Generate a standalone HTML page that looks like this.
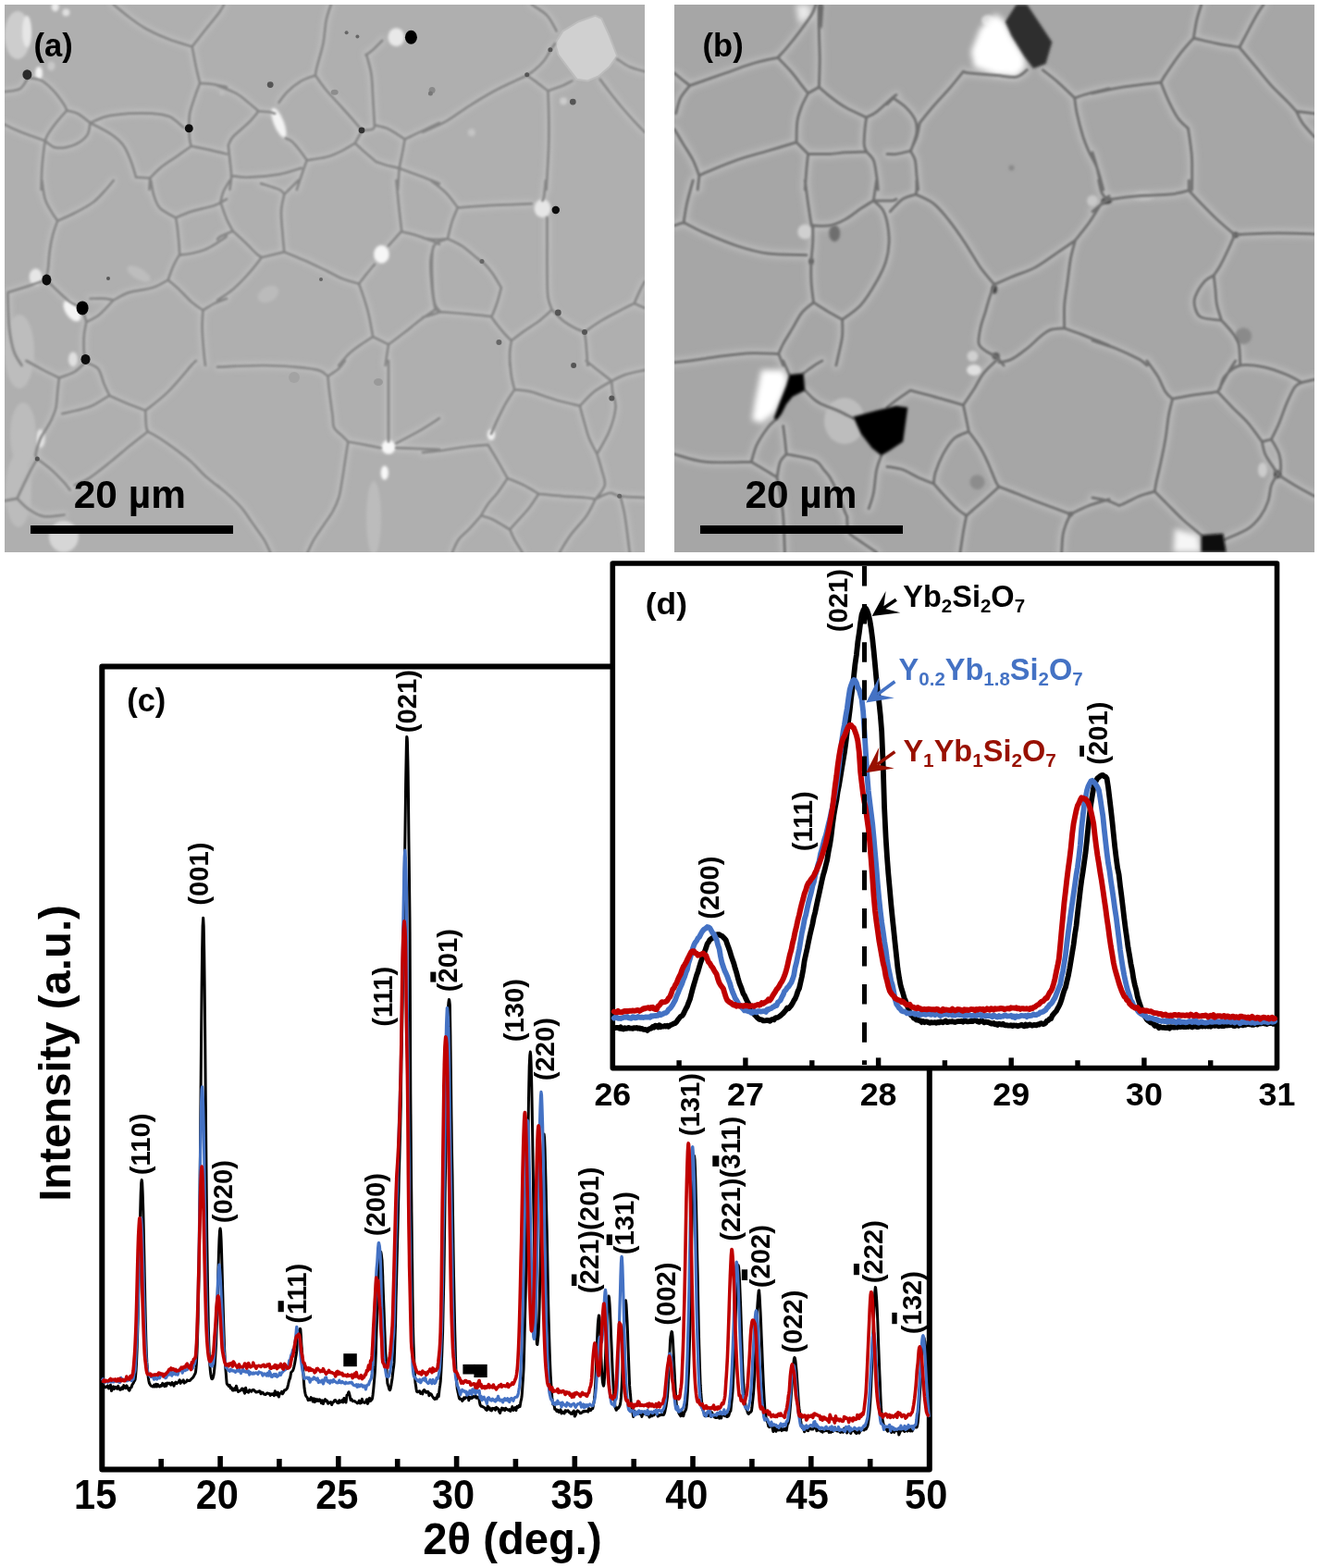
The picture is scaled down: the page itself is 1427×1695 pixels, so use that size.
<!DOCTYPE html>
<html><head><meta charset="utf-8"><title>Figure</title>
<style>html,body{margin:0;padding:0;background:#fff;width:1427px;height:1695px;overflow:hidden}</style>
</head><body>
<svg xmlns="http://www.w3.org/2000/svg" width="1427" height="1695" viewBox="0 0 1427 1695" style="display:block">
<rect width="1427" height="1695" fill="#fff"/>
<defs>
<filter id="bl1" x="-20%" y="-20%" width="140%" height="140%"><feGaussianBlur stdDeviation="0.7"/></filter>
<filter id="blL" x="-20%" y="-20%" width="140%" height="140%"><feGaussianBlur stdDeviation="1.2"/></filter>
<filter id="bl2" x="-50%" y="-50%" width="200%" height="200%"><feGaussianBlur stdDeviation="1.5"/></filter>
<filter id="bl3" x="-50%" y="-50%" width="200%" height="200%"><feGaussianBlur stdDeviation="3"/></filter>
<filter id="bl5" x="-50%" y="-50%" width="200%" height="200%"><feGaussianBlur stdDeviation="5"/></filter>
<clipPath id="ca"><rect x="5" y="5" width="692" height="592"/></clipPath>
<clipPath id="cb"><rect x="729" y="5" width="692" height="592"/></clipPath>
</defs><g clip-path="url(#ca)"><rect x="5" y="5" width="692" height="592" fill="#afafaf"/><path d="M122.7 5.0C125.5 7.2 133.9 14.2 139.5 18.5C145.2 22.7 149.4 26.3 156.4 30.2C163.4 34.2 173.0 38.6 181.6 42.0C190.1 45.4 203.3 49.0 207.7 50.4M207.7 50.4C210.3 47.0 218.7 36.4 223.6 30.2C228.5 24.1 234.0 17.6 237.1 13.4C240.2 9.2 241.3 6.4 242.1 5.0M207.7 50.4C208.4 54.1 210.5 65.7 211.9 72.3C213.3 78.9 215.4 87.0 216.1 89.9M216.1 89.9C218.2 90.1 223.9 90.1 228.7 90.8C233.5 91.5 242.3 93.6 245.0 94.1M216.1 89.9C215.1 92.6 212.0 100.4 210.2 105.9C208.4 111.4 206.1 117.3 205.1 122.7C204.2 128.2 204.4 136.0 204.3 138.7M204.3 138.7C204.4 140.8 204.7 148.1 205.1 151.3C205.6 154.5 206.5 156.9 206.8 158.0M206.8 158.0C209.6 158.6 217.3 160.0 223.6 161.4C230.0 162.8 241.4 165.6 245.0 166.5M206.8 158.0C204.0 160.0 195.6 165.9 190.0 169.8C184.4 173.7 177.8 177.8 173.2 181.6C168.6 185.4 164.1 190.7 162.2 192.5M162.2 192.5L161.4 205.0M30.2 84.0C32.7 84.6 40.6 84.9 45.4 87.4C50.1 89.9 54.9 95.0 58.8 99.2C62.7 103.4 66.7 109.3 68.9 112.6C71.2 116.0 71.7 118.2 72.3 119.4M72.3 119.4C74.2 119.9 79.8 120.5 84.0 122.7C88.2 125.0 95.3 131.1 97.5 132.8M97.5 132.8C100.3 131.7 107.3 127.8 114.3 126.1C121.3 124.4 131.1 123.3 139.5 122.7C148.0 122.2 157.5 122.2 164.8 122.7C172.1 123.3 177.7 123.6 183.3 126.1C188.9 128.6 195.9 135.9 198.4 137.9M72.3 119.4C70.3 121.6 63.9 128.6 60.5 132.8C57.1 137.0 54.1 141.4 52.1 144.6C50.1 147.8 49.3 150.9 48.7 152.2M48.7 152.2C45.9 151.2 37.5 148.4 31.9 146.3C26.3 144.2 19.6 141.5 15.1 139.5C10.6 137.6 6.7 135.3 5.0 134.5M48.7 152.2C48.4 154.3 47.6 159.9 47.0 164.8C46.5 169.7 45.8 174.9 45.4 181.6C44.9 188.3 44.7 201.1 44.5 205.0M97.5 132.8C96.9 135.1 96.9 142.3 94.1 146.3C91.3 150.2 86.3 154.1 80.7 156.4C75.1 158.6 65.8 160.4 60.5 159.7C55.2 159.0 50.7 153.4 48.7 152.2M97.5 132.8C101.1 134.8 113.5 140.7 119.4 144.6C125.2 148.5 129.2 151.6 132.8 156.4C136.5 161.1 138.8 167.3 141.2 173.2C143.6 179.1 146.1 188.6 147.1 191.7M147.1 191.7L162.2 192.5M5.0 99.2C7.8 98.6 17.6 98.3 21.8 95.8C26.0 93.3 28.8 86.0 30.2 84.0M357.8 5.0C356.9 7.8 354.1 14.8 352.7 21.8C351.3 28.8 351.0 38.6 349.4 47.0C347.7 55.5 344.0 66.5 342.6 72.3C341.2 78.0 341.2 80.0 341.0 81.5M341.0 81.5C338.4 82.5 330.9 84.5 325.8 87.4C320.8 90.4 314.7 95.3 310.7 99.2C306.6 103.1 303.0 109.0 301.4 111.0M235.0 92.5C238.4 93.9 249.6 97.8 255.2 100.9C260.8 103.9 264.6 107.7 268.6 111.0C272.7 114.2 277.7 118.7 279.6 120.2M279.6 120.2C281.4 120.3 287.6 120.6 290.5 121.0C293.4 121.5 296.1 122.4 297.2 122.7M279.6 120.2C277.7 122.3 273.3 128.2 268.6 132.8C264.0 137.4 255.5 143.9 251.8 148.0C248.2 152.0 247.6 155.7 246.8 157.2M246.8 157.2C247.1 159.9 247.9 167.7 248.5 173.2C249.0 178.6 250.1 184.7 250.1 190.0C250.1 195.3 248.7 202.5 248.5 205.0M309.0 149.6C310.1 150.2 312.9 150.5 315.7 153.0C318.5 155.5 323.2 161.4 325.8 164.8C328.5 168.1 330.7 171.8 331.7 173.2M331.7 173.2C330.7 176.0 327.6 184.7 325.8 190.0C324.0 195.3 321.6 202.5 320.8 205.0M331.7 173.2C335.2 172.6 346.4 171.5 352.7 169.8C359.0 168.1 364.4 165.6 369.5 163.1C374.7 160.6 381.5 156.1 383.8 154.7M341.0 81.5C342.9 84.2 348.0 91.8 352.7 97.5C357.5 103.2 364.5 110.4 369.5 116.0C374.6 121.6 379.4 126.9 383.0 131.1C386.6 135.3 390.0 139.5 391.4 141.2M391.4 141.2L383.8 154.7M391.4 141.2C393.4 140.9 400.9 140.5 403.2 139.5C405.4 138.6 404.6 136.0 404.9 135.3M383.8 154.7C385.7 156.4 391.0 161.4 394.8 164.8C398.6 168.1 404.6 173.2 406.5 174.9M404.9 135.3C404.6 130.4 403.7 115.0 403.2 105.9C402.6 96.8 402.6 88.2 401.5 80.7C400.4 73.1 397.4 64.0 396.5 60.5C395.5 57.0 395.8 59.8 395.6 59.7M395.6 59.7C396.9 58.7 400.2 56.4 403.2 53.8C406.1 51.1 411.6 45.4 413.3 43.7M404.9 135.3C407.4 136.0 414.5 137.0 420.0 139.5C425.5 142.1 434.7 148.7 437.7 150.5M437.7 150.5C440.3 149.2 447.4 145.9 453.6 142.9C459.9 140.0 471.4 134.5 475.0 132.8M437.7 150.5C437.2 152.9 436.1 159.6 435.1 164.8C434.2 170.0 432.6 174.9 431.8 181.6C430.9 188.3 430.4 201.1 430.1 205.0M406.5 174.9C408.2 175.4 412.6 177.1 416.6 178.2C420.7 179.3 428.5 181.0 430.9 181.6M430.9 181.6C434.7 183.0 446.3 187.2 453.6 190.0C461.0 192.8 471.4 197.0 475.0 198.4M250.1 190.0C253.2 190.3 259.9 192.0 268.6 191.7C277.3 191.4 292.7 190.0 302.3 188.3C311.8 186.6 321.9 182.7 325.8 181.6M457.0 142.9C461.2 140.9 473.8 135.9 482.2 131.1C490.6 126.4 499.0 119.6 507.5 114.3C515.9 109.0 525.7 103.1 532.7 99.2C539.7 95.3 543.3 93.7 549.5 90.8C555.7 87.8 566.3 83.1 569.7 81.5M569.7 81.5C571.1 80.5 575.0 78.3 578.1 75.6C581.2 73.0 585.4 69.0 588.2 65.5C591.0 62.0 592.9 57.7 594.9 54.6C596.9 51.5 599.1 48.3 600.0 47.0M569.7 81.5C571.1 82.5 574.3 84.6 578.1 87.4C581.9 90.2 590.0 96.5 592.4 98.3M592.4 98.3C595.0 97.4 604.0 94.3 608.4 92.5C612.7 90.6 616.8 88.2 618.5 87.4M592.4 98.3C592.5 102.4 593.1 113.1 593.2 122.7C593.4 132.4 593.5 145.2 593.2 156.4C592.9 167.6 592.0 181.9 591.5 190.0C591.1 198.1 590.8 202.5 590.7 205.0M667.2 63.9C669.5 65.3 675.7 70.0 680.7 72.3C685.6 74.5 694.3 76.5 697.0 77.3M648.7 85.7C650.4 88.0 654.9 94.1 658.8 99.2C662.7 104.2 667.8 110.7 672.3 116.0C676.8 121.3 681.6 126.7 685.7 131.1C689.8 135.6 695.1 140.9 697.0 142.9M574.7 5.0C577.5 7.0 587.1 12.0 591.5 16.8C596.0 21.5 600.0 30.8 601.6 33.6M45.4 195.0C45.9 198.4 47.0 209.6 48.7 215.2C50.4 220.8 53.2 224.7 55.5 228.6C57.7 232.6 61.1 237.0 62.2 238.7M62.2 238.7C65.3 237.3 74.2 233.7 80.7 230.3C87.1 227.0 95.3 222.7 100.9 218.5C106.5 214.3 110.7 209.0 114.3 205.1C118.0 201.2 121.3 196.7 122.7 195.0M62.2 238.7C61.3 241.2 58.5 248.5 57.1 253.9C55.7 259.2 54.6 264.8 53.8 270.7C52.9 276.6 52.7 284.4 52.1 289.2C51.5 293.9 50.7 297.6 50.4 299.3M50.4 302.6C52.1 304.3 56.3 308.8 60.5 312.7C64.7 316.7 71.4 323.1 75.6 326.2C79.8 329.3 84.0 330.4 85.7 331.2M8.4 316.1C12.0 315.0 24.1 311.3 30.2 309.4C36.4 307.4 42.8 305.2 45.4 304.3M8.4 317.8C8.6 323.9 8.9 344.4 10.0 354.8C11.2 365.1 12.8 373.3 15.1 380.0C17.3 386.7 22.1 392.5 23.5 395.0M90.8 339.6L93.3 348.0M93.3 348.0C92.9 350.6 91.2 357.9 90.8 363.2C90.4 368.5 90.5 375.8 90.8 380.0C91.1 384.2 92.2 387.0 92.5 388.4M93.3 348.0C95.4 346.9 101.6 344.7 105.9 341.3C110.3 338.0 116.6 330.7 119.4 327.9C122.2 325.1 122.2 325.1 122.7 324.5M97.5 322.8C100.3 322.8 110.1 322.5 114.3 322.8C118.5 323.1 121.3 324.2 122.7 324.5M122.7 324.5C125.5 323.1 132.5 318.3 139.5 316.1C146.6 313.8 157.8 313.3 164.8 311.0C171.8 308.8 178.8 304.0 181.6 302.6M181.6 302.6C182.4 300.4 185.0 293.1 186.6 289.2C188.3 285.3 190.4 281.3 191.7 279.1C192.9 276.8 193.8 276.3 194.2 275.7M194.2 275.7C194.1 273.5 193.8 267.3 193.4 262.3C192.9 257.2 192.2 249.9 191.7 245.5C191.1 241.0 190.3 237.0 190.0 235.4M190.0 235.4C187.2 233.7 177.1 229.2 173.2 225.3C169.3 221.3 168.1 216.9 166.5 211.8C164.8 206.8 163.7 197.8 163.1 195.0M190.0 235.4C192.8 234.2 199.8 230.9 206.8 228.6C213.8 226.4 225.7 224.2 232.0 221.9C238.4 219.7 242.8 216.3 245.0 215.2M194.2 275.7C196.3 275.4 201.9 275.2 206.8 274.0C211.7 272.9 218.0 271.5 223.6 269.0C229.2 266.5 236.9 261.2 240.5 258.9C244.0 256.7 244.2 256.1 245.0 255.5M181.6 302.6C183.6 304.3 189.2 308.8 193.4 312.7C197.6 316.7 202.5 322.4 206.8 326.2C211.2 330.0 217.3 333.9 219.4 335.4M219.4 335.4C219.3 338.7 218.4 347.3 218.6 354.8C218.7 362.2 219.7 373.3 220.3 380.0C220.8 386.7 221.7 392.5 222.0 395.0M219.4 335.4C221.5 334.2 227.8 330.0 232.0 327.9C236.3 325.8 242.8 323.7 245.0 322.8M248.5 195.0C247.3 197.0 243.4 202.8 241.7 206.8C240.0 210.7 238.9 216.6 238.4 218.5M238.4 218.5C239.5 221.6 242.8 231.9 245.1 237.0C247.3 242.2 250.7 247.6 251.8 249.7M251.8 249.7C249.6 250.6 241.2 254.0 238.4 255.5C235.6 257.1 235.6 258.3 235.0 258.9M251.8 249.7C254.1 251.8 261.1 258.2 265.3 262.3C269.5 266.3 274.1 271.4 277.0 274.0C280.0 276.7 282.0 277.5 282.9 278.2M282.9 278.2C280.5 281.2 273.8 290.2 268.6 295.9C263.5 301.7 257.4 308.0 251.8 312.7C246.2 317.5 237.8 322.5 235.0 324.5M282.1 198.4C285.5 199.5 298.1 203.1 302.3 205.1C306.5 207.1 306.5 209.3 307.3 210.1M307.3 210.1C308.7 208.7 313.2 204.2 315.7 201.7C318.2 199.2 321.3 196.1 322.5 195.0M307.3 210.1C306.8 213.2 304.2 221.3 304.0 228.6C303.7 235.9 305.1 246.6 305.6 253.9C306.2 261.2 307.0 269.3 307.3 272.4M282.9 278.2L307.3 272.4M307.3 272.4C310.7 273.8 319.9 277.4 327.5 280.8C335.1 284.1 345.7 289.2 352.7 292.5C359.7 295.9 363.7 298.6 369.5 301.0C375.4 303.3 385.0 305.9 388.0 306.8M388.0 306.8C389.4 305.0 393.7 299.4 396.5 295.9C399.3 292.4 403.5 287.5 404.9 285.8M420.0 265.6L433.5 250.5M434.3 250.5C433.9 246.9 432.5 235.1 431.8 228.6C431.1 222.2 430.6 217.4 430.1 211.8C429.5 206.2 428.7 197.8 428.4 195.0M434.3 250.5C436.7 251.1 443.1 252.2 448.6 253.9C454.1 255.5 462.7 258.9 467.1 260.6C471.5 262.3 473.7 263.4 475.0 264.0M388.0 306.8C388.9 309.2 391.4 315.9 393.1 321.1C394.8 326.3 396.7 332.3 398.1 338.0C399.5 343.6 400.7 350.4 401.5 354.8C402.3 359.1 402.9 362.5 403.2 364.0M403.2 364.0C401.2 365.3 395.6 368.6 391.4 371.6C387.2 374.5 382.2 377.8 378.0 381.7C373.7 385.6 368.1 392.8 366.2 395.0M403.2 364.0L420.0 372.4M420.0 372.4C422.8 370.3 431.2 364.2 436.8 359.8C442.4 355.5 448.0 350.6 453.6 346.4C459.2 342.2 467.6 336.6 470.5 334.6M420.0 372.4C419.7 374.3 418.9 379.6 418.3 383.4C417.8 387.1 416.9 393.0 416.6 395.0M468.8 265.6C468.2 268.4 465.7 274.6 465.4 282.5C465.1 290.3 466.2 304.0 467.1 312.7C467.9 321.4 469.9 330.9 470.5 334.6M470.5 334.6L475.0 336.3M465.4 195.0C468.2 197.2 477.3 203.5 482.2 208.5C487.1 213.4 492.7 221.8 494.8 224.4M494.8 224.4C493.9 226.8 490.8 233.1 489.0 238.7C487.1 244.3 484.7 254.8 483.9 258.1M483.9 258.1C481.7 258.2 474.9 259.0 470.5 258.9C466.0 258.8 459.2 257.5 457.0 257.2M494.8 224.4C501.1 224.0 519.4 222.6 532.7 221.9C546.0 221.2 567.7 220.5 574.7 220.2M589.9 195.0C589.6 197.8 588.7 208.2 588.2 211.8C587.6 215.5 586.8 216.0 586.5 216.9M591.5 235.4C591.5 239.8 591.5 252.2 591.5 262.3C591.5 272.4 591.4 286.1 591.5 295.9C591.7 305.7 591.5 314.7 592.4 321.1C593.2 327.6 595.9 332.3 596.6 334.6M483.9 258.1C486.4 259.3 493.7 262.1 499.0 265.6C504.4 269.1 511.7 275.7 515.9 279.1C520.1 282.5 521.5 283.0 524.3 285.8C527.1 288.6 529.7 291.7 532.7 295.9C535.6 300.1 540.4 308.5 541.9 311.0M541.9 311.0C541.2 313.6 539.3 321.4 537.7 326.2C536.2 330.9 533.8 337.0 532.7 339.6C531.6 342.3 531.3 341.7 531.0 342.2M483.9 258.1C481.7 259.0 473.3 260.5 470.5 264.0C467.7 267.5 467.5 271.0 467.1 279.1C466.7 287.2 467.4 304.3 467.9 312.7C468.5 321.1 469.1 325.5 470.5 329.5C471.9 333.6 475.4 335.9 476.3 337.1M476.3 337.1C481.5 337.5 498.3 338.8 507.5 339.6C516.6 340.5 527.1 341.7 531.0 342.2M476.3 337.1C474.2 337.8 467.0 340.3 463.7 341.3C460.5 342.3 458.1 342.7 457.0 343.0M531.0 342.2C532.1 343.7 535.2 348.2 537.7 351.4C540.2 354.6 543.6 358.7 546.1 361.5C548.7 364.3 551.7 367.1 552.9 368.2M552.9 368.2C552.6 370.2 551.5 375.5 551.2 380.0C550.9 384.5 551.2 392.5 551.2 395.0M552.9 368.2C555.1 366.5 561.6 361.5 566.3 358.1C571.1 354.8 577.2 351.1 581.5 348.0C585.7 345.0 589.0 341.9 591.5 339.6C594.1 337.4 595.7 335.4 596.6 334.6M596.6 334.6C598.6 336.6 604.2 343.0 608.4 346.4C612.6 349.7 617.9 352.7 621.8 354.8C625.7 356.9 630.2 358.3 631.9 359.0M631.9 359.0C632.2 361.1 633.0 365.6 633.6 371.6C634.1 377.6 635.0 391.1 635.3 395.0M631.9 359.0C635.0 356.9 643.7 350.4 650.4 346.4C657.1 342.3 666.4 337.7 672.3 334.6C678.2 331.5 683.5 329.0 685.7 327.9M685.7 327.9C686.8 325.3 690.6 316.7 692.5 312.7C694.3 308.8 696.2 305.7 697.0 304.3M685.7 327.9L697.0 332.9M28.5 390.0C31.6 391.7 41.2 397.0 47.0 400.1C52.9 403.2 61.1 407.1 63.9 408.5M63.9 408.5C66.7 407.4 75.9 404.6 80.7 401.8C85.4 399.0 90.5 393.4 92.5 391.7M92.5 391.7C94.7 392.8 102.5 394.5 105.9 398.4C109.3 402.3 110.5 410.3 112.6 415.2C114.7 420.1 117.5 425.7 118.5 427.8M118.5 427.8C122.0 429.4 133.1 434.4 139.5 437.1C146.0 439.8 154.3 442.7 157.2 443.8M157.2 443.8C161.3 440.5 173.3 431.8 181.6 423.6C189.9 415.5 201.8 400.7 206.8 395.0C211.9 389.4 211.0 390.8 211.9 390.0M63.9 408.5C63.6 411.0 62.7 418.3 62.2 423.6C61.6 429.0 61.6 435.4 60.5 440.5C59.4 445.5 57.4 449.7 55.5 453.9C53.5 458.1 50.7 462.3 48.7 465.7C46.8 469.0 45.4 469.9 43.7 474.1C42.0 478.3 39.2 487.3 38.6 490.9C38.1 494.6 40.0 495.1 40.3 496.0M117.7 427.8C114.6 429.7 105.1 436.1 99.2 438.8C93.3 441.4 87.7 442.4 82.4 443.8C77.0 445.2 69.7 446.6 67.2 447.2M157.2 443.8C157.3 446.6 157.6 456.9 158.0 460.6C158.5 464.4 159.4 465.5 159.7 466.5M159.7 466.5C162.0 467.8 168.1 470.9 173.2 474.1C178.2 477.3 184.4 481.7 190.0 485.9C195.6 490.1 201.2 494.3 206.8 499.3C212.4 504.4 217.3 510.5 223.6 516.1C230.0 521.7 241.4 530.2 245.0 533.0M159.7 466.5C156.4 469.2 146.3 477.0 139.5 482.5C132.8 488.0 126.4 493.7 119.4 499.3C112.4 504.9 103.9 511.9 97.5 516.1C91.1 520.3 83.5 523.1 80.7 524.5M40.3 496.0C39.2 497.9 35.8 503.5 33.6 507.7C31.3 511.9 29.4 516.0 26.9 521.2C24.3 526.4 19.9 535.9 18.5 538.8M18.5 538.8L5.0 541.4M40.3 496.0C42.8 497.9 50.7 503.5 55.5 507.7C60.2 511.9 65.5 517.5 68.9 521.2C72.3 524.8 74.5 528.2 75.6 529.6M18.5 538.8C20.4 540.7 25.5 546.5 30.2 549.8C35.0 553.0 40.5 557.1 47.0 558.2C53.6 559.3 66.0 556.8 69.7 556.5M235.0 396.7C243.4 396.4 271.4 395.0 285.5 395.0C299.5 395.0 309.3 395.9 319.1 396.7C328.9 397.6 338.4 398.4 344.3 400.1C350.2 401.8 352.7 405.7 354.4 406.8M354.4 406.8C356.4 405.4 363.1 401.2 366.2 398.4C369.3 395.6 371.8 391.4 372.9 390.0M354.4 406.8C354.7 409.6 355.2 416.6 356.1 423.6C356.9 430.6 358.6 442.4 359.5 448.9C360.3 455.3 359.5 458.7 361.1 462.3C362.8 466.0 367.0 468.2 369.5 470.7C372.1 473.2 375.2 476.3 376.3 477.5M376.3 477.5C375.7 481.1 374.0 492.0 372.9 499.3C371.8 506.6 370.7 514.7 369.5 521.2C368.4 527.6 367.9 532.7 366.2 538.0C364.5 543.3 362.3 548.1 359.5 553.1C356.7 558.2 352.7 563.2 349.4 568.3C346.0 573.3 342.1 578.6 339.3 583.4C336.5 588.2 333.7 594.8 332.5 597.0M376.3 477.5C379.4 478.0 388.9 479.7 394.8 480.8C400.7 481.9 408.8 483.6 411.6 484.2M420.0 390.0C420.0 395.6 420.0 411.0 420.0 423.6C420.0 436.2 420.0 456.7 420.0 465.7C420.0 474.7 420.0 475.5 420.0 477.5M428.4 479.1C432.6 476.9 445.9 470.2 453.6 465.7C461.4 461.2 471.4 454.5 475.0 452.2M428.4 484.2L475.0 485.9M235.0 524.5C237.2 526.5 244.0 532.1 248.5 536.3C252.9 540.5 257.7 544.7 261.9 549.8C266.1 554.8 269.8 561.0 273.7 566.6C277.6 572.2 282.4 578.3 285.5 583.4C288.5 588.5 291.1 594.8 292.2 597.0M551.2 390.0C551.5 392.8 552.0 401.6 552.9 406.8C553.7 412.0 555.7 418.7 556.2 421.1M556.2 421.1C554.5 423.8 549.2 431.6 546.1 437.1C543.1 442.6 540.2 448.6 537.7 453.9C535.2 459.2 532.1 466.5 531.0 469.0M556.2 421.1C559.3 421.5 567.4 421.8 574.7 423.6C582.0 425.5 591.3 429.5 600.0 432.0C608.6 434.6 622.4 437.7 626.9 438.8M626.9 438.8C629.4 436.2 636.3 428.1 642.0 423.6C647.7 419.2 658.1 413.8 661.3 411.9M661.3 411.9C658.1 409.3 646.6 400.4 642.0 396.7C637.4 393.1 635.0 391.1 633.6 390.0M661.3 411.9C663.7 410.7 669.7 407.1 675.6 405.1C681.6 403.2 693.4 400.9 697.0 400.1M661.3 411.9C661.5 413.8 661.5 418.9 662.2 423.6C662.9 428.4 666.1 433.4 665.5 440.5C665.0 447.5 662.2 457.3 658.8 465.7C655.5 474.1 647.6 486.7 645.4 490.9M626.9 438.8C627.7 441.9 630.2 451.4 631.9 457.3C633.6 463.2 634.7 468.5 637.0 474.1C639.2 479.7 644.0 488.1 645.4 490.9M527.6 480.8C529.3 483.6 534.2 491.6 537.7 497.6C541.2 503.7 546.8 513.8 548.7 517.0M548.7 517.0C546.8 519.6 541.2 528.3 537.7 533.0C534.2 537.6 530.6 540.7 527.6 544.7C524.7 548.8 521.3 555.2 520.1 557.3M520.1 557.3C518.0 559.7 511.5 567.3 507.5 571.6C503.4 576.0 498.8 579.2 495.7 583.4C492.6 587.6 490.1 594.8 489.0 597.0M527.6 480.8C524.3 481.1 516.4 481.4 507.5 482.5C498.5 483.6 482.2 486.4 473.8 487.5C465.4 488.7 459.8 488.9 457.0 489.2M548.7 517.0C551.6 518.2 560.7 521.7 566.3 524.5C571.9 527.3 579.6 532.3 582.3 533.8M582.3 533.8C580.5 536.5 575.4 544.6 571.4 549.8C567.3 555.0 561.3 561.1 557.9 564.9C554.5 568.7 552.3 571.2 551.2 572.5M551.2 572.5C552.0 574.3 554.0 579.3 556.2 583.4C558.5 587.5 563.2 594.8 564.6 597.0M520.1 557.3C522.2 558.0 527.5 559.0 532.7 561.5C537.9 564.1 548.1 570.7 551.2 572.5M582.3 533.8C586.6 534.2 599.8 535.6 608.4 536.3C616.9 537.0 627.7 537.4 633.6 538.0C639.5 538.6 642.0 539.4 643.7 539.7M643.7 539.7C642.0 542.8 638.1 551.7 633.6 558.2C629.1 564.6 621.5 571.9 616.8 578.4C612.0 584.8 607.0 593.9 605.0 597.0M645.4 490.9C646.2 493.7 649.0 502.1 650.4 507.7C651.8 513.3 654.9 519.2 653.8 524.5C652.6 529.9 645.4 537.2 643.7 539.7M643.7 539.7C646.2 538.6 654.3 533.5 658.8 533.0C663.3 532.4 664.2 535.5 670.6 536.3C677.0 537.2 692.6 537.7 697.0 538.0M670.6 536.3C671.4 540.0 674.0 548.1 675.6 558.2C677.3 568.3 679.8 590.6 680.7 597.0" fill="none" stroke="#c3c3c3" stroke-width="6" stroke-linecap="round" filter="url(#bl3)"/><ellipse cx="301.4" cy="132.8" rx="5.5" ry="17.0" fill="#f4f4f4" transform="rotate(-22 301.4 132.8)" filter="url(#bl2)"/><ellipse cx="428.4" cy="40.3" rx="9.0" ry="10.0" fill="#e8e8e8" transform="rotate(0 428.4 40.3)" filter="url(#bl2)"/><ellipse cx="412.4" cy="274.9" rx="8.4" ry="9.8" fill="#f6f6f6" transform="rotate(0 412.4 274.9)" filter="url(#bl2)"/><ellipse cx="586.5" cy="225.3" rx="9.0" ry="10.0" fill="#e6e6e6" transform="rotate(0 586.5 225.3)" filter="url(#bl2)"/><ellipse cx="38.6" cy="299.3" rx="7.0" ry="9.0" fill="#e6e6e6" transform="rotate(0 38.6 299.3)" filter="url(#bl2)"/><ellipse cx="78.0" cy="336.0" rx="7.0" ry="13.0" fill="#f4f4f4" transform="rotate(-35 78.0 336.0)" filter="url(#bl2)"/><ellipse cx="79.0" cy="388.4" rx="5.0" ry="8.0" fill="#e0e0e0" transform="rotate(0 79.0 388.4)" filter="url(#bl2)"/><ellipse cx="43.7" cy="474.1" rx="5.0" ry="10.0" fill="#e2e2e2" transform="rotate(0 43.7 474.1)" filter="url(#bl2)"/><ellipse cx="68.9" cy="580.0" rx="16.0" ry="17.0" fill="#d6d6d6" transform="rotate(0 68.9 580.0)" filter="url(#bl2)"/><ellipse cx="420.0" cy="483.3" rx="7.6" ry="7.6" fill="#f8f8f8" transform="rotate(0 420.0 483.3)" filter="url(#bl2)"/><ellipse cx="415.8" cy="511.1" rx="4.2" ry="7.6" fill="#f8f8f8" transform="rotate(0 415.8 511.1)" filter="url(#bl2)"/><ellipse cx="531.0" cy="469.9" rx="4.2" ry="6.0" fill="#f2f2f2" transform="rotate(0 531.0 469.9)" filter="url(#bl2)"/><ellipse cx="609.2" cy="109.3" rx="4.0" ry="4.0" fill="#cccccc" transform="rotate(0 609.2 109.3)" filter="url(#bl2)"/><ellipse cx="509.8" cy="143.2" rx="4.0" ry="4.0" fill="#c4c4c4" transform="rotate(0 509.8 143.2)" filter="url(#bl2)"/><ellipse cx="19.0" cy="38.0" rx="14.0" ry="26.0" fill="#cdcdcd" transform="rotate(0 19.0 38.0)" filter="url(#bl2)"/><ellipse cx="29.0" cy="34.0" rx="5.0" ry="17.0" fill="#e6e6e6" transform="rotate(0 29.0 34.0)" filter="url(#bl2)"/><ellipse cx="42.0" cy="79.0" rx="4.0" ry="7.0" fill="#f2f2f2" transform="rotate(0 42.0 79.0)" filter="url(#bl2)"/><ellipse cx="59.7" cy="7.5" rx="4.0" ry="5.0" fill="#e8e8e8" transform="rotate(0 59.7 7.5)" filter="url(#bl2)"/><ellipse cx="71.4" cy="13.4" rx="4.0" ry="4.0" fill="#e0e0e0" transform="rotate(0 71.4 13.4)" filter="url(#bl2)"/><ellipse cx="55.5" cy="71.4" rx="4.0" ry="5.0" fill="#c8c8c8" transform="rotate(0 55.5 71.4)" filter="url(#bl2)"/><ellipse cx="21.0" cy="380.0" rx="16.0" ry="40.0" fill="#bdbdbd" transform="rotate(0 21.0 380.0)" filter="url(#bl2)"/><ellipse cx="25.0" cy="470.0" rx="14.0" ry="35.0" fill="#bcbcbc" transform="rotate(0 25.0 470.0)" filter="url(#bl2)"/><ellipse cx="20.0" cy="530.0" rx="14.0" ry="40.0" fill="#bcbcbc" transform="rotate(0 20.0 530.0)" filter="url(#bl2)"/><ellipse cx="404.0" cy="560.0" rx="8.0" ry="40.0" fill="#bcbcbc" transform="rotate(0 404.0 560.0)" filter="url(#bl2)"/><ellipse cx="240.0" cy="100.0" rx="3.0" ry="3.0" fill="#bdbdbd" transform="rotate(0 240.0 100.0)" filter="url(#bl2)"/><ellipse cx="290.0" cy="318.0" rx="12.0" ry="8.0" fill="#bbbbbb" transform="rotate(-30 290.0 318.0)" filter="url(#bl2)"/><ellipse cx="150.0" cy="296.0" rx="14.0" ry="6.0" fill="#bdbdbd" transform="rotate(30 150.0 296.0)" filter="url(#bl2)"/><path d="M600.0 47.0 L608.4 33.6 L625.2 23.5 L643.7 16.8 L650.4 20.1 L658.8 38.6 L667.2 60.5 L658.8 72.3 L647.0 82.4 L635.3 87.4 L623.5 85.7 L613.4 72.3 L603.3 58.8 Z" fill="#d0d0d0" stroke="#bcbcbc" stroke-width="2" filter="url(#bl1)"/><path d="M122.7 5.0C125.5 7.2 133.9 14.2 139.5 18.5C145.2 22.7 149.4 26.3 156.4 30.2C163.4 34.2 173.0 38.6 181.6 42.0C190.1 45.4 203.3 49.0 207.7 50.4M207.7 50.4C210.3 47.0 218.7 36.4 223.6 30.2C228.5 24.1 234.0 17.6 237.1 13.4C240.2 9.2 241.3 6.4 242.1 5.0M207.7 50.4C208.4 54.1 210.5 65.7 211.9 72.3C213.3 78.9 215.4 87.0 216.1 89.9M216.1 89.9C218.2 90.1 223.9 90.1 228.7 90.8C233.5 91.5 242.3 93.6 245.0 94.1M216.1 89.9C215.1 92.6 212.0 100.4 210.2 105.9C208.4 111.4 206.1 117.3 205.1 122.7C204.2 128.2 204.4 136.0 204.3 138.7M204.3 138.7C204.4 140.8 204.7 148.1 205.1 151.3C205.6 154.5 206.5 156.9 206.8 158.0M206.8 158.0C209.6 158.6 217.3 160.0 223.6 161.4C230.0 162.8 241.4 165.6 245.0 166.5M206.8 158.0C204.0 160.0 195.6 165.9 190.0 169.8C184.4 173.7 177.8 177.8 173.2 181.6C168.6 185.4 164.1 190.7 162.2 192.5M162.2 192.5L161.4 205.0M30.2 84.0C32.7 84.6 40.6 84.9 45.4 87.4C50.1 89.9 54.9 95.0 58.8 99.2C62.7 103.4 66.7 109.3 68.9 112.6C71.2 116.0 71.7 118.2 72.3 119.4M72.3 119.4C74.2 119.9 79.8 120.5 84.0 122.7C88.2 125.0 95.3 131.1 97.5 132.8M97.5 132.8C100.3 131.7 107.3 127.8 114.3 126.1C121.3 124.4 131.1 123.3 139.5 122.7C148.0 122.2 157.5 122.2 164.8 122.7C172.1 123.3 177.7 123.6 183.3 126.1C188.9 128.6 195.9 135.9 198.4 137.9M72.3 119.4C70.3 121.6 63.9 128.6 60.5 132.8C57.1 137.0 54.1 141.4 52.1 144.6C50.1 147.8 49.3 150.9 48.7 152.2M48.7 152.2C45.9 151.2 37.5 148.4 31.9 146.3C26.3 144.2 19.6 141.5 15.1 139.5C10.6 137.6 6.7 135.3 5.0 134.5M48.7 152.2C48.4 154.3 47.6 159.9 47.0 164.8C46.5 169.7 45.8 174.9 45.4 181.6C44.9 188.3 44.7 201.1 44.5 205.0M97.5 132.8C96.9 135.1 96.9 142.3 94.1 146.3C91.3 150.2 86.3 154.1 80.7 156.4C75.1 158.6 65.8 160.4 60.5 159.7C55.2 159.0 50.7 153.4 48.7 152.2M97.5 132.8C101.1 134.8 113.5 140.7 119.4 144.6C125.2 148.5 129.2 151.6 132.8 156.4C136.5 161.1 138.8 167.3 141.2 173.2C143.6 179.1 146.1 188.6 147.1 191.7M147.1 191.7L162.2 192.5M5.0 99.2C7.8 98.6 17.6 98.3 21.8 95.8C26.0 93.3 28.8 86.0 30.2 84.0M357.8 5.0C356.9 7.8 354.1 14.8 352.7 21.8C351.3 28.8 351.0 38.6 349.4 47.0C347.7 55.5 344.0 66.5 342.6 72.3C341.2 78.0 341.2 80.0 341.0 81.5M341.0 81.5C338.4 82.5 330.9 84.5 325.8 87.4C320.8 90.4 314.7 95.3 310.7 99.2C306.6 103.1 303.0 109.0 301.4 111.0M235.0 92.5C238.4 93.9 249.6 97.8 255.2 100.9C260.8 103.9 264.6 107.7 268.6 111.0C272.7 114.2 277.7 118.7 279.6 120.2M279.6 120.2C281.4 120.3 287.6 120.6 290.5 121.0C293.4 121.5 296.1 122.4 297.2 122.7M279.6 120.2C277.7 122.3 273.3 128.2 268.6 132.8C264.0 137.4 255.5 143.9 251.8 148.0C248.2 152.0 247.6 155.7 246.8 157.2M246.8 157.2C247.1 159.9 247.9 167.7 248.5 173.2C249.0 178.6 250.1 184.7 250.1 190.0C250.1 195.3 248.7 202.5 248.5 205.0M309.0 149.6C310.1 150.2 312.9 150.5 315.7 153.0C318.5 155.5 323.2 161.4 325.8 164.8C328.5 168.1 330.7 171.8 331.7 173.2M331.7 173.2C330.7 176.0 327.6 184.7 325.8 190.0C324.0 195.3 321.6 202.5 320.8 205.0M331.7 173.2C335.2 172.6 346.4 171.5 352.7 169.8C359.0 168.1 364.4 165.6 369.5 163.1C374.7 160.6 381.5 156.1 383.8 154.7M341.0 81.5C342.9 84.2 348.0 91.8 352.7 97.5C357.5 103.2 364.5 110.4 369.5 116.0C374.6 121.6 379.4 126.9 383.0 131.1C386.6 135.3 390.0 139.5 391.4 141.2M391.4 141.2L383.8 154.7M391.4 141.2C393.4 140.9 400.9 140.5 403.2 139.5C405.4 138.6 404.6 136.0 404.9 135.3M383.8 154.7C385.7 156.4 391.0 161.4 394.8 164.8C398.6 168.1 404.6 173.2 406.5 174.9M404.9 135.3C404.6 130.4 403.7 115.0 403.2 105.9C402.6 96.8 402.6 88.2 401.5 80.7C400.4 73.1 397.4 64.0 396.5 60.5C395.5 57.0 395.8 59.8 395.6 59.7M395.6 59.7C396.9 58.7 400.2 56.4 403.2 53.8C406.1 51.1 411.6 45.4 413.3 43.7M404.9 135.3C407.4 136.0 414.5 137.0 420.0 139.5C425.5 142.1 434.7 148.7 437.7 150.5M437.7 150.5C440.3 149.2 447.4 145.9 453.6 142.9C459.9 140.0 471.4 134.5 475.0 132.8M437.7 150.5C437.2 152.9 436.1 159.6 435.1 164.8C434.2 170.0 432.6 174.9 431.8 181.6C430.9 188.3 430.4 201.1 430.1 205.0M406.5 174.9C408.2 175.4 412.6 177.1 416.6 178.2C420.7 179.3 428.5 181.0 430.9 181.6M430.9 181.6C434.7 183.0 446.3 187.2 453.6 190.0C461.0 192.8 471.4 197.0 475.0 198.4M250.1 190.0C253.2 190.3 259.9 192.0 268.6 191.7C277.3 191.4 292.7 190.0 302.3 188.3C311.8 186.6 321.9 182.7 325.8 181.6M457.0 142.9C461.2 140.9 473.8 135.9 482.2 131.1C490.6 126.4 499.0 119.6 507.5 114.3C515.9 109.0 525.7 103.1 532.7 99.2C539.7 95.3 543.3 93.7 549.5 90.8C555.7 87.8 566.3 83.1 569.7 81.5M569.7 81.5C571.1 80.5 575.0 78.3 578.1 75.6C581.2 73.0 585.4 69.0 588.2 65.5C591.0 62.0 592.9 57.7 594.9 54.6C596.9 51.5 599.1 48.3 600.0 47.0M569.7 81.5C571.1 82.5 574.3 84.6 578.1 87.4C581.9 90.2 590.0 96.5 592.4 98.3M592.4 98.3C595.0 97.4 604.0 94.3 608.4 92.5C612.7 90.6 616.8 88.2 618.5 87.4M592.4 98.3C592.5 102.4 593.1 113.1 593.2 122.7C593.4 132.4 593.5 145.2 593.2 156.4C592.9 167.6 592.0 181.9 591.5 190.0C591.1 198.1 590.8 202.5 590.7 205.0M667.2 63.9C669.5 65.3 675.7 70.0 680.7 72.3C685.6 74.5 694.3 76.5 697.0 77.3M648.7 85.7C650.4 88.0 654.9 94.1 658.8 99.2C662.7 104.2 667.8 110.7 672.3 116.0C676.8 121.3 681.6 126.7 685.7 131.1C689.8 135.6 695.1 140.9 697.0 142.9M574.7 5.0C577.5 7.0 587.1 12.0 591.5 16.8C596.0 21.5 600.0 30.8 601.6 33.6M45.4 195.0C45.9 198.4 47.0 209.6 48.7 215.2C50.4 220.8 53.2 224.7 55.5 228.6C57.7 232.6 61.1 237.0 62.2 238.7M62.2 238.7C65.3 237.3 74.2 233.7 80.7 230.3C87.1 227.0 95.3 222.7 100.9 218.5C106.5 214.3 110.7 209.0 114.3 205.1C118.0 201.2 121.3 196.7 122.7 195.0M62.2 238.7C61.3 241.2 58.5 248.5 57.1 253.9C55.7 259.2 54.6 264.8 53.8 270.7C52.9 276.6 52.7 284.4 52.1 289.2C51.5 293.9 50.7 297.6 50.4 299.3M50.4 302.6C52.1 304.3 56.3 308.8 60.5 312.7C64.7 316.7 71.4 323.1 75.6 326.2C79.8 329.3 84.0 330.4 85.7 331.2M8.4 316.1C12.0 315.0 24.1 311.3 30.2 309.4C36.4 307.4 42.8 305.2 45.4 304.3M8.4 317.8C8.6 323.9 8.9 344.4 10.0 354.8C11.2 365.1 12.8 373.3 15.1 380.0C17.3 386.7 22.1 392.5 23.5 395.0M90.8 339.6L93.3 348.0M93.3 348.0C92.9 350.6 91.2 357.9 90.8 363.2C90.4 368.5 90.5 375.8 90.8 380.0C91.1 384.2 92.2 387.0 92.5 388.4M93.3 348.0C95.4 346.9 101.6 344.7 105.9 341.3C110.3 338.0 116.6 330.7 119.4 327.9C122.2 325.1 122.2 325.1 122.7 324.5M97.5 322.8C100.3 322.8 110.1 322.5 114.3 322.8C118.5 323.1 121.3 324.2 122.7 324.5M122.7 324.5C125.5 323.1 132.5 318.3 139.5 316.1C146.6 313.8 157.8 313.3 164.8 311.0C171.8 308.8 178.8 304.0 181.6 302.6M181.6 302.6C182.4 300.4 185.0 293.1 186.6 289.2C188.3 285.3 190.4 281.3 191.7 279.1C192.9 276.8 193.8 276.3 194.2 275.7M194.2 275.7C194.1 273.5 193.8 267.3 193.4 262.3C192.9 257.2 192.2 249.9 191.7 245.5C191.1 241.0 190.3 237.0 190.0 235.4M190.0 235.4C187.2 233.7 177.1 229.2 173.2 225.3C169.3 221.3 168.1 216.9 166.5 211.8C164.8 206.8 163.7 197.8 163.1 195.0M190.0 235.4C192.8 234.2 199.8 230.9 206.8 228.6C213.8 226.4 225.7 224.2 232.0 221.9C238.4 219.7 242.8 216.3 245.0 215.2M194.2 275.7C196.3 275.4 201.9 275.2 206.8 274.0C211.7 272.9 218.0 271.5 223.6 269.0C229.2 266.5 236.9 261.2 240.5 258.9C244.0 256.7 244.2 256.1 245.0 255.5M181.6 302.6C183.6 304.3 189.2 308.8 193.4 312.7C197.6 316.7 202.5 322.4 206.8 326.2C211.2 330.0 217.3 333.9 219.4 335.4M219.4 335.4C219.3 338.7 218.4 347.3 218.6 354.8C218.7 362.2 219.7 373.3 220.3 380.0C220.8 386.7 221.7 392.5 222.0 395.0M219.4 335.4C221.5 334.2 227.8 330.0 232.0 327.9C236.3 325.8 242.8 323.7 245.0 322.8M248.5 195.0C247.3 197.0 243.4 202.8 241.7 206.8C240.0 210.7 238.9 216.6 238.4 218.5M238.4 218.5C239.5 221.6 242.8 231.9 245.1 237.0C247.3 242.2 250.7 247.6 251.8 249.7M251.8 249.7C249.6 250.6 241.2 254.0 238.4 255.5C235.6 257.1 235.6 258.3 235.0 258.9M251.8 249.7C254.1 251.8 261.1 258.2 265.3 262.3C269.5 266.3 274.1 271.4 277.0 274.0C280.0 276.7 282.0 277.5 282.9 278.2M282.9 278.2C280.5 281.2 273.8 290.2 268.6 295.9C263.5 301.7 257.4 308.0 251.8 312.7C246.2 317.5 237.8 322.5 235.0 324.5M282.1 198.4C285.5 199.5 298.1 203.1 302.3 205.1C306.5 207.1 306.5 209.3 307.3 210.1M307.3 210.1C308.7 208.7 313.2 204.2 315.7 201.7C318.2 199.2 321.3 196.1 322.5 195.0M307.3 210.1C306.8 213.2 304.2 221.3 304.0 228.6C303.7 235.9 305.1 246.6 305.6 253.9C306.2 261.2 307.0 269.3 307.3 272.4M282.9 278.2L307.3 272.4M307.3 272.4C310.7 273.8 319.9 277.4 327.5 280.8C335.1 284.1 345.7 289.2 352.7 292.5C359.7 295.9 363.7 298.6 369.5 301.0C375.4 303.3 385.0 305.9 388.0 306.8M388.0 306.8C389.4 305.0 393.7 299.4 396.5 295.9C399.3 292.4 403.5 287.5 404.9 285.8M420.0 265.6L433.5 250.5M434.3 250.5C433.9 246.9 432.5 235.1 431.8 228.6C431.1 222.2 430.6 217.4 430.1 211.8C429.5 206.2 428.7 197.8 428.4 195.0M434.3 250.5C436.7 251.1 443.1 252.2 448.6 253.9C454.1 255.5 462.7 258.9 467.1 260.6C471.5 262.3 473.7 263.4 475.0 264.0M388.0 306.8C388.9 309.2 391.4 315.9 393.1 321.1C394.8 326.3 396.7 332.3 398.1 338.0C399.5 343.6 400.7 350.4 401.5 354.8C402.3 359.1 402.9 362.5 403.2 364.0M403.2 364.0C401.2 365.3 395.6 368.6 391.4 371.6C387.2 374.5 382.2 377.8 378.0 381.7C373.7 385.6 368.1 392.8 366.2 395.0M403.2 364.0L420.0 372.4M420.0 372.4C422.8 370.3 431.2 364.2 436.8 359.8C442.4 355.5 448.0 350.6 453.6 346.4C459.2 342.2 467.6 336.6 470.5 334.6M420.0 372.4C419.7 374.3 418.9 379.6 418.3 383.4C417.8 387.1 416.9 393.0 416.6 395.0M468.8 265.6C468.2 268.4 465.7 274.6 465.4 282.5C465.1 290.3 466.2 304.0 467.1 312.7C467.9 321.4 469.9 330.9 470.5 334.6M470.5 334.6L475.0 336.3M465.4 195.0C468.2 197.2 477.3 203.5 482.2 208.5C487.1 213.4 492.7 221.8 494.8 224.4M494.8 224.4C493.9 226.8 490.8 233.1 489.0 238.7C487.1 244.3 484.7 254.8 483.9 258.1M483.9 258.1C481.7 258.2 474.9 259.0 470.5 258.9C466.0 258.8 459.2 257.5 457.0 257.2M494.8 224.4C501.1 224.0 519.4 222.6 532.7 221.9C546.0 221.2 567.7 220.5 574.7 220.2M589.9 195.0C589.6 197.8 588.7 208.2 588.2 211.8C587.6 215.5 586.8 216.0 586.5 216.9M591.5 235.4C591.5 239.8 591.5 252.2 591.5 262.3C591.5 272.4 591.4 286.1 591.5 295.9C591.7 305.7 591.5 314.7 592.4 321.1C593.2 327.6 595.9 332.3 596.6 334.6M483.9 258.1C486.4 259.3 493.7 262.1 499.0 265.6C504.4 269.1 511.7 275.7 515.9 279.1C520.1 282.5 521.5 283.0 524.3 285.8C527.1 288.6 529.7 291.7 532.7 295.9C535.6 300.1 540.4 308.5 541.9 311.0M541.9 311.0C541.2 313.6 539.3 321.4 537.7 326.2C536.2 330.9 533.8 337.0 532.7 339.6C531.6 342.3 531.3 341.7 531.0 342.2M483.9 258.1C481.7 259.0 473.3 260.5 470.5 264.0C467.7 267.5 467.5 271.0 467.1 279.1C466.7 287.2 467.4 304.3 467.9 312.7C468.5 321.1 469.1 325.5 470.5 329.5C471.9 333.6 475.4 335.9 476.3 337.1M476.3 337.1C481.5 337.5 498.3 338.8 507.5 339.6C516.6 340.5 527.1 341.7 531.0 342.2M476.3 337.1C474.2 337.8 467.0 340.3 463.7 341.3C460.5 342.3 458.1 342.7 457.0 343.0M531.0 342.2C532.1 343.7 535.2 348.2 537.7 351.4C540.2 354.6 543.6 358.7 546.1 361.5C548.7 364.3 551.7 367.1 552.9 368.2M552.9 368.2C552.6 370.2 551.5 375.5 551.2 380.0C550.9 384.5 551.2 392.5 551.2 395.0M552.9 368.2C555.1 366.5 561.6 361.5 566.3 358.1C571.1 354.8 577.2 351.1 581.5 348.0C585.7 345.0 589.0 341.9 591.5 339.6C594.1 337.4 595.7 335.4 596.6 334.6M596.6 334.6C598.6 336.6 604.2 343.0 608.4 346.4C612.6 349.7 617.9 352.7 621.8 354.8C625.7 356.9 630.2 358.3 631.9 359.0M631.9 359.0C632.2 361.1 633.0 365.6 633.6 371.6C634.1 377.6 635.0 391.1 635.3 395.0M631.9 359.0C635.0 356.9 643.7 350.4 650.4 346.4C657.1 342.3 666.4 337.7 672.3 334.6C678.2 331.5 683.5 329.0 685.7 327.9M685.7 327.9C686.8 325.3 690.6 316.7 692.5 312.7C694.3 308.8 696.2 305.7 697.0 304.3M685.7 327.9L697.0 332.9M28.5 390.0C31.6 391.7 41.2 397.0 47.0 400.1C52.9 403.2 61.1 407.1 63.9 408.5M63.9 408.5C66.7 407.4 75.9 404.6 80.7 401.8C85.4 399.0 90.5 393.4 92.5 391.7M92.5 391.7C94.7 392.8 102.5 394.5 105.9 398.4C109.3 402.3 110.5 410.3 112.6 415.2C114.7 420.1 117.5 425.7 118.5 427.8M118.5 427.8C122.0 429.4 133.1 434.4 139.5 437.1C146.0 439.8 154.3 442.7 157.2 443.8M157.2 443.8C161.3 440.5 173.3 431.8 181.6 423.6C189.9 415.5 201.8 400.7 206.8 395.0C211.9 389.4 211.0 390.8 211.9 390.0M63.9 408.5C63.6 411.0 62.7 418.3 62.2 423.6C61.6 429.0 61.6 435.4 60.5 440.5C59.4 445.5 57.4 449.7 55.5 453.9C53.5 458.1 50.7 462.3 48.7 465.7C46.8 469.0 45.4 469.9 43.7 474.1C42.0 478.3 39.2 487.3 38.6 490.9C38.1 494.6 40.0 495.1 40.3 496.0M117.7 427.8C114.6 429.7 105.1 436.1 99.2 438.8C93.3 441.4 87.7 442.4 82.4 443.8C77.0 445.2 69.7 446.6 67.2 447.2M157.2 443.8C157.3 446.6 157.6 456.9 158.0 460.6C158.5 464.4 159.4 465.5 159.7 466.5M159.7 466.5C162.0 467.8 168.1 470.9 173.2 474.1C178.2 477.3 184.4 481.7 190.0 485.9C195.6 490.1 201.2 494.3 206.8 499.3C212.4 504.4 217.3 510.5 223.6 516.1C230.0 521.7 241.4 530.2 245.0 533.0M159.7 466.5C156.4 469.2 146.3 477.0 139.5 482.5C132.8 488.0 126.4 493.7 119.4 499.3C112.4 504.9 103.9 511.9 97.5 516.1C91.1 520.3 83.5 523.1 80.7 524.5M40.3 496.0C39.2 497.9 35.8 503.5 33.6 507.7C31.3 511.9 29.4 516.0 26.9 521.2C24.3 526.4 19.9 535.9 18.5 538.8M18.5 538.8L5.0 541.4M40.3 496.0C42.8 497.9 50.7 503.5 55.5 507.7C60.2 511.9 65.5 517.5 68.9 521.2C72.3 524.8 74.5 528.2 75.6 529.6M18.5 538.8C20.4 540.7 25.5 546.5 30.2 549.8C35.0 553.0 40.5 557.1 47.0 558.2C53.6 559.3 66.0 556.8 69.7 556.5M235.0 396.7C243.4 396.4 271.4 395.0 285.5 395.0C299.5 395.0 309.3 395.9 319.1 396.7C328.9 397.6 338.4 398.4 344.3 400.1C350.2 401.8 352.7 405.7 354.4 406.8M354.4 406.8C356.4 405.4 363.1 401.2 366.2 398.4C369.3 395.6 371.8 391.4 372.9 390.0M354.4 406.8C354.7 409.6 355.2 416.6 356.1 423.6C356.9 430.6 358.6 442.4 359.5 448.9C360.3 455.3 359.5 458.7 361.1 462.3C362.8 466.0 367.0 468.2 369.5 470.7C372.1 473.2 375.2 476.3 376.3 477.5M376.3 477.5C375.7 481.1 374.0 492.0 372.9 499.3C371.8 506.6 370.7 514.7 369.5 521.2C368.4 527.6 367.9 532.7 366.2 538.0C364.5 543.3 362.3 548.1 359.5 553.1C356.7 558.2 352.7 563.2 349.4 568.3C346.0 573.3 342.1 578.6 339.3 583.4C336.5 588.2 333.7 594.8 332.5 597.0M376.3 477.5C379.4 478.0 388.9 479.7 394.8 480.8C400.7 481.9 408.8 483.6 411.6 484.2M420.0 390.0C420.0 395.6 420.0 411.0 420.0 423.6C420.0 436.2 420.0 456.7 420.0 465.7C420.0 474.7 420.0 475.5 420.0 477.5M428.4 479.1C432.6 476.9 445.9 470.2 453.6 465.7C461.4 461.2 471.4 454.5 475.0 452.2M428.4 484.2L475.0 485.9M235.0 524.5C237.2 526.5 244.0 532.1 248.5 536.3C252.9 540.5 257.7 544.7 261.9 549.8C266.1 554.8 269.8 561.0 273.7 566.6C277.6 572.2 282.4 578.3 285.5 583.4C288.5 588.5 291.1 594.8 292.2 597.0M551.2 390.0C551.5 392.8 552.0 401.6 552.9 406.8C553.7 412.0 555.7 418.7 556.2 421.1M556.2 421.1C554.5 423.8 549.2 431.6 546.1 437.1C543.1 442.6 540.2 448.6 537.7 453.9C535.2 459.2 532.1 466.5 531.0 469.0M556.2 421.1C559.3 421.5 567.4 421.8 574.7 423.6C582.0 425.5 591.3 429.5 600.0 432.0C608.6 434.6 622.4 437.7 626.9 438.8M626.9 438.8C629.4 436.2 636.3 428.1 642.0 423.6C647.7 419.2 658.1 413.8 661.3 411.9M661.3 411.9C658.1 409.3 646.6 400.4 642.0 396.7C637.4 393.1 635.0 391.1 633.6 390.0M661.3 411.9C663.7 410.7 669.7 407.1 675.6 405.1C681.6 403.2 693.4 400.9 697.0 400.1M661.3 411.9C661.5 413.8 661.5 418.9 662.2 423.6C662.9 428.4 666.1 433.4 665.5 440.5C665.0 447.5 662.2 457.3 658.8 465.7C655.5 474.1 647.6 486.7 645.4 490.9M626.9 438.8C627.7 441.9 630.2 451.4 631.9 457.3C633.6 463.2 634.7 468.5 637.0 474.1C639.2 479.7 644.0 488.1 645.4 490.9M527.6 480.8C529.3 483.6 534.2 491.6 537.7 497.6C541.2 503.7 546.8 513.8 548.7 517.0M548.7 517.0C546.8 519.6 541.2 528.3 537.7 533.0C534.2 537.6 530.6 540.7 527.6 544.7C524.7 548.8 521.3 555.2 520.1 557.3M520.1 557.3C518.0 559.7 511.5 567.3 507.5 571.6C503.4 576.0 498.8 579.2 495.7 583.4C492.6 587.6 490.1 594.8 489.0 597.0M527.6 480.8C524.3 481.1 516.4 481.4 507.5 482.5C498.5 483.6 482.2 486.4 473.8 487.5C465.4 488.7 459.8 488.9 457.0 489.2M548.7 517.0C551.6 518.2 560.7 521.7 566.3 524.5C571.9 527.3 579.6 532.3 582.3 533.8M582.3 533.8C580.5 536.5 575.4 544.6 571.4 549.8C567.3 555.0 561.3 561.1 557.9 564.9C554.5 568.7 552.3 571.2 551.2 572.5M551.2 572.5C552.0 574.3 554.0 579.3 556.2 583.4C558.5 587.5 563.2 594.8 564.6 597.0M520.1 557.3C522.2 558.0 527.5 559.0 532.7 561.5C537.9 564.1 548.1 570.7 551.2 572.5M582.3 533.8C586.6 534.2 599.8 535.6 608.4 536.3C616.9 537.0 627.7 537.4 633.6 538.0C639.5 538.6 642.0 539.4 643.7 539.7M643.7 539.7C642.0 542.8 638.1 551.7 633.6 558.2C629.1 564.6 621.5 571.9 616.8 578.4C612.0 584.8 607.0 593.9 605.0 597.0M645.4 490.9C646.2 493.7 649.0 502.1 650.4 507.7C651.8 513.3 654.9 519.2 653.8 524.5C652.6 529.9 645.4 537.2 643.7 539.7M643.7 539.7C646.2 538.6 654.3 533.5 658.8 533.0C663.3 532.4 664.2 535.5 670.6 536.3C677.0 537.2 692.6 537.7 697.0 538.0M670.6 536.3C671.4 540.0 674.0 548.1 675.6 558.2C677.3 568.3 679.8 590.6 680.7 597.0" fill="none" stroke="#858585" stroke-width="2.7" stroke-linecap="round" stroke-linejoin="round" filter="url(#blL)"/><ellipse cx="444.4" cy="40.3" rx="6.5" ry="7.5" fill="#000" filter="url(#bl1)"/><ellipse cx="600.8" cy="227.0" rx="4.2" ry="4.2" fill="#080808" filter="url(#bl1)"/><ellipse cx="50.4" cy="302.6" rx="5.0" ry="6.0" fill="#0c0c0c" filter="url(#bl1)"/><ellipse cx="89.1" cy="332.9" rx="6.5" ry="7.5" fill="#050505" filter="url(#bl1)"/><ellipse cx="92.5" cy="388.4" rx="5.0" ry="5.5" fill="#080808" filter="url(#bl1)"/><ellipse cx="204.3" cy="138.7" rx="4.5" ry="4.5" fill="#101010" filter="url(#bl1)"/><ellipse cx="292.2" cy="91.6" rx="3.4" ry="3.4" fill="#555" filter="url(#bl1)"/><ellipse cx="374.6" cy="35.3" rx="2.0" ry="2.0" fill="#666" filter="url(#bl1)"/><ellipse cx="386.4" cy="39.5" rx="2.0" ry="2.0" fill="#666" filter="url(#bl1)"/><ellipse cx="467.1" cy="97.5" rx="3.5" ry="3.5" fill="#8a8a8a" filter="url(#bl1)"/><ellipse cx="594.9" cy="53.8" rx="2.5" ry="2.5" fill="#555" filter="url(#bl1)"/><ellipse cx="569.7" cy="80.7" rx="2.5" ry="2.5" fill="#555" filter="url(#bl1)"/><ellipse cx="619.3" cy="110.1" rx="3.4" ry="3.4" fill="#555" filter="url(#bl1)"/><ellipse cx="465.4" cy="101.0" rx="2.5" ry="2.5" fill="#777" filter="url(#bl1)"/><ellipse cx="391.0" cy="140.8" rx="3.4" ry="3.4" fill="#333" filter="url(#bl1)"/><ellipse cx="521.0" cy="282.5" rx="2.5" ry="2.5" fill="#666" filter="url(#bl1)"/><ellipse cx="603.3" cy="338.0" rx="3.4" ry="3.4" fill="#555" filter="url(#bl1)"/><ellipse cx="632.0" cy="359.0" rx="3.0" ry="3.0" fill="#555" filter="url(#bl1)"/><ellipse cx="539.4" cy="370.0" rx="3.0" ry="3.0" fill="#666" filter="url(#bl1)"/><ellipse cx="620.1" cy="395.0" rx="3.0" ry="3.0" fill="#555" filter="url(#bl1)"/><ellipse cx="661.3" cy="430.4" rx="3.0" ry="3.0" fill="#555" filter="url(#bl1)"/><ellipse cx="669.7" cy="536.3" rx="2.5" ry="2.5" fill="#666" filter="url(#bl1)"/><ellipse cx="40.3" cy="496.0" rx="2.5" ry="2.5" fill="#555" filter="url(#bl1)"/><ellipse cx="29.4" cy="80.7" rx="5.0" ry="5.5" fill="#2a2a2a" filter="url(#bl1)"/><ellipse cx="361.7" cy="99.7" rx="4.0" ry="3.0" fill="#8d8d8d" filter="url(#bl1)"/><ellipse cx="117.0" cy="301.0" rx="2.0" ry="2.0" fill="#555" filter="url(#bl1)"/><ellipse cx="347.0" cy="302.0" rx="2.0" ry="2.0" fill="#666" filter="url(#bl1)"/><ellipse cx="409.0" cy="413.0" rx="5.0" ry="4.0" fill="#999" filter="url(#bl1)"/><ellipse cx="318.0" cy="408.0" rx="6.0" ry="6.0" fill="#a3a3a3" filter="url(#bl1)"/></g><text x="36.5" y="61" font-family="Liberation Sans, Arial, sans-serif" font-weight="bold" font-size="34.5">(a)</text><rect x="33" y="568" width="219" height="9" fill="#000"/><text x="79.8" y="549" font-family="Liberation Sans, Arial, sans-serif" font-weight="bold" font-size="42.4">20 µm</text>
<g clip-path="url(#cb)"><rect x="729" y="5" width="692" height="592" fill="#a6a6a6"/><path d="M729.0 79.0C730.7 80.4 736.3 85.2 739.1 87.4C741.9 89.7 744.7 91.6 745.8 92.5M745.8 92.5C751.4 90.5 768.2 84.6 779.5 80.7C790.7 76.8 802.9 72.0 813.1 68.9C823.3 65.8 836.2 63.3 840.8 62.2M840.8 62.2C842.4 60.5 846.3 56.6 850.1 52.1C853.9 47.6 859.1 41.2 863.5 35.3C868.0 29.4 873.9 21.8 877.0 16.8C880.1 11.7 881.2 7.0 882.0 5.0M840.8 62.2C843.2 64.7 850.8 72.3 855.1 77.3C859.5 82.4 863.8 88.5 866.9 92.5C870.0 96.4 872.5 99.5 873.6 100.9M887.1 5.0C886.8 9.2 885.5 20.4 885.4 30.2C885.3 40.0 886.2 53.2 886.2 63.9C886.2 74.5 885.5 89.1 885.4 94.1M885.4 94.1L873.6 100.9M885.4 94.1C887.4 95.8 892.4 100.6 897.2 104.2C901.9 107.9 907.4 112.2 914.0 116.0C920.6 119.8 932.9 125.1 936.7 126.9M936.7 126.9C938.5 125.9 943.0 124.5 947.6 121.0C952.3 117.5 960.9 109.0 964.5 105.9C968.0 102.8 968.2 103.1 969.0 102.5M936.7 126.9C936.4 129.0 935.4 134.6 935.0 139.5C934.6 144.4 933.9 152.3 934.2 156.4C934.5 160.4 936.3 162.7 936.7 163.9M936.7 163.9C938.0 165.5 942.4 168.8 944.3 173.2C946.1 177.5 946.8 184.7 947.6 190.0C948.5 195.3 949.0 202.5 949.3 205.0M873.6 100.9C872.5 103.1 868.9 109.3 866.9 114.3C864.9 119.4 862.8 124.5 861.9 131.1C860.9 137.7 861.2 150.1 861.0 153.8M861.0 153.8C862.6 155.4 868.2 161.0 870.3 163.1C872.4 165.2 873.1 165.9 873.6 166.5M873.6 166.5C873.4 169.0 872.5 175.2 872.0 181.6C871.4 188.0 870.6 201.1 870.3 205.0M873.6 166.5C877.6 166.5 890.5 166.7 897.2 166.5C903.9 166.2 907.4 165.2 914.0 164.8C920.6 164.4 932.9 164.1 936.7 163.9M861.0 153.8C855.8 155.4 840.7 159.9 829.9 163.1C819.1 166.3 807.5 169.3 796.3 173.2C785.1 177.1 769.4 183.8 762.6 186.6C755.9 189.4 757.0 189.4 755.9 190.0M745.8 92.5C744.1 94.7 738.2 100.9 735.7 105.9C733.2 111.0 731.5 119.9 730.7 122.7M729.0 139.5C730.7 142.3 735.7 150.8 739.1 156.4C742.5 162.0 746.4 167.6 749.2 173.2C752.0 178.8 754.8 187.2 755.9 190.0M755.9 190.0L754.2 205.0M965.7 105.9C968.0 107.6 975.3 112.1 979.2 116.0C983.1 119.9 987.3 125.0 989.3 129.5C991.2 133.9 991.5 137.9 991.0 142.9C990.4 148.0 987.0 156.4 985.9 159.7C984.8 163.1 984.5 162.5 984.2 163.1M984.2 163.1C981.7 163.7 973.3 165.9 969.1 166.5C964.9 167.0 960.7 166.5 959.0 166.5M965.7 105.9L959.0 112.6M994.3 132.8C996.8 129.7 1004.1 120.5 1009.5 114.3C1014.8 108.2 1020.9 102.0 1026.3 95.8C1031.6 89.7 1038.9 80.4 1041.4 77.3M1041.4 77.3C1042.5 77.6 1042.2 78.3 1048.1 79.0C1054.0 79.7 1068.3 80.8 1076.7 81.5C1085.1 82.2 1093.0 84.2 1098.6 83.2C1104.2 82.2 1108.4 76.9 1110.4 75.6M1127.2 75.6C1130.0 77.9 1138.3 84.0 1144.0 89.1C1149.7 94.1 1158.7 103.1 1161.7 105.9M1161.7 105.9C1164.3 105.1 1171.4 102.5 1177.6 100.9C1183.9 99.2 1195.4 96.7 1199.0 95.8M1161.7 105.9C1162.1 108.7 1162.6 115.7 1164.2 122.7C1165.7 129.7 1168.7 140.9 1170.9 148.0C1173.1 155.0 1175.1 159.2 1177.6 164.8C1180.2 170.4 1183.5 174.9 1186.0 181.6C1188.6 188.3 1191.6 201.1 1192.8 205.0M994.3 132.8C993.8 135.3 992.6 142.9 991.0 148.0C989.3 153.0 985.3 160.6 984.2 163.1M984.2 163.1C985.1 164.8 988.2 168.7 989.3 173.2C990.4 177.7 990.4 184.7 991.0 190.0C991.5 195.3 992.4 202.5 992.6 205.0M1298.7 5.0C1297.9 7.8 1295.1 15.8 1293.7 21.8C1292.3 27.8 1290.9 37.9 1290.3 41.2M1290.3 41.2C1287.8 44.1 1280.2 52.2 1275.2 58.8C1270.1 65.4 1263.4 75.6 1260.0 80.7C1256.7 85.7 1255.8 87.7 1255.0 89.1M1290.3 41.2C1294.5 42.1 1307.3 45.4 1315.5 47.0C1323.8 48.7 1335.9 50.5 1339.9 51.2M1339.9 51.2C1341.5 48.3 1346.0 39.6 1349.2 33.6C1352.4 27.6 1356.5 19.9 1359.3 15.1C1362.1 10.3 1364.9 6.7 1366.0 5.0M1339.9 51.2C1342.9 54.8 1351.8 65.4 1357.6 72.3C1363.3 79.1 1368.8 86.3 1374.4 92.5C1380.0 98.6 1386.7 104.6 1391.2 109.3C1395.7 113.9 1399.6 118.4 1401.3 120.2M1401.3 120.2L1421.0 122.7M1401.3 120.2C1402.4 122.3 1404.8 128.2 1408.0 132.8C1411.3 137.4 1418.8 145.4 1421.0 148.0M1255.0 89.1C1248.3 89.9 1227.0 92.2 1214.6 94.1C1202.3 96.1 1186.6 99.7 1181.0 100.9M1255.0 89.1C1256.4 92.5 1260.3 102.8 1263.4 109.3C1266.5 115.7 1270.0 122.9 1273.5 127.8C1277.0 132.7 1282.6 136.9 1284.4 138.7M1284.4 138.7C1284.9 141.6 1286.3 150.6 1287.0 156.4C1287.7 162.1 1288.4 165.1 1288.6 173.2C1288.9 181.3 1288.6 199.7 1288.6 205.0M1181.0 164.8C1181.8 167.6 1184.4 174.9 1186.0 181.6C1187.7 188.3 1190.2 201.1 1191.1 205.0M749.2 195.0C748.1 199.2 744.1 212.7 742.5 220.2C740.8 227.8 739.7 237.0 739.1 240.4M739.1 240.4L729.0 243.8M739.1 240.4C743.0 242.4 753.1 248.0 762.6 252.2C772.2 256.4 785.1 262.0 796.3 265.6C807.5 269.3 817.3 272.4 829.9 274.0C842.5 275.7 864.9 275.4 872.0 275.7M870.3 195.0C870.8 199.2 872.5 212.4 873.6 220.2C874.8 228.1 876.2 238.2 877.0 242.1C877.8 246.0 878.4 243.5 878.7 243.8M878.7 243.8C881.8 243.8 891.3 244.9 897.2 243.8C903.1 242.7 908.4 240.1 914.0 237.0C919.6 234.0 925.8 228.6 930.8 225.3C935.9 221.9 942.0 218.3 944.3 216.9M944.3 216.9L947.6 195.0M944.3 216.9C946.0 218.5 951.8 222.7 954.4 227.0C956.9 231.2 958.3 236.2 959.4 242.1C960.5 248.0 961.4 255.5 961.1 262.3C960.8 269.0 960.0 275.4 957.7 282.5C955.5 289.5 952.1 296.5 947.6 304.3C943.1 312.2 937.0 322.7 930.8 329.5C924.6 336.4 914.0 342.9 910.6 345.5M878.7 243.8C878.7 246.9 879.0 255.8 878.7 262.3C878.4 268.7 877.3 275.4 877.0 282.5C876.7 289.5 876.6 296.9 877.0 304.3C877.4 311.7 879.1 323.2 879.5 327.0M879.5 327.0C882.5 328.8 892.0 334.9 897.2 338.0C902.4 341.0 908.4 344.3 910.6 345.5M879.5 327.0C877.4 328.8 870.7 333.3 866.9 338.0C863.1 342.6 860.2 349.2 856.8 354.8C853.5 360.4 849.2 367.0 846.7 371.6C844.2 376.2 842.5 380.7 841.7 382.5M841.7 382.5L846.7 395.0M841.7 382.5C836.9 382.4 823.5 381.3 813.1 381.7C802.7 382.1 790.7 383.6 779.5 385.0C768.2 386.4 754.2 389.0 745.8 390.1C737.4 391.2 731.8 391.5 729.0 391.8M910.6 345.5C910.6 348.5 911.2 357.4 910.6 363.2C910.1 368.9 908.4 374.7 907.3 380.0C906.1 385.3 904.5 392.5 903.9 395.0M944.3 216.9C947.6 216.9 960.3 217.1 964.5 216.9C968.6 216.6 968.2 215.5 969.0 215.2M991.0 195.0C991.0 196.7 991.1 202.6 991.0 205.1C990.8 207.6 990.3 209.3 990.1 210.1M990.1 210.1C987.7 211.0 980.4 212.1 975.8 215.2C971.2 218.3 964.6 226.4 962.4 228.6M990.1 210.1C993.3 211.8 1003.4 215.5 1009.5 220.2C1015.5 225.0 1020.7 231.7 1026.3 238.7C1031.9 245.7 1037.5 253.9 1043.1 262.3C1048.7 270.7 1054.6 281.6 1059.9 289.2C1065.2 296.7 1072.5 304.6 1075.0 307.7M1075.0 307.7C1074.2 309.9 1071.7 316.1 1070.0 321.1C1068.3 326.2 1066.6 332.3 1065.0 338.0C1063.3 343.6 1061.0 349.2 1059.9 354.8C1058.8 360.4 1057.1 367.4 1058.2 371.6C1059.3 375.8 1063.6 377.8 1066.6 380.0C1069.7 382.2 1075.0 384.2 1076.7 385.0M1076.7 385.0L1085.1 395.0M1075.0 307.7C1078.1 306.3 1086.3 302.4 1093.5 299.3C1100.8 296.2 1110.4 293.7 1118.8 289.2C1127.2 284.7 1136.7 277.3 1144.0 272.4C1151.3 267.5 1159.4 261.9 1162.5 259.7M1162.5 259.7C1165.0 256.5 1173.1 246.7 1177.6 240.4C1182.1 234.1 1186.6 225.8 1189.4 221.9C1192.2 218.0 1193.6 217.7 1194.5 216.9M1194.5 216.9L1199.0 211.8M1162.5 259.7C1161.7 263.0 1158.9 271.7 1157.5 279.1C1156.1 286.5 1155.2 295.9 1154.1 304.3C1153.0 312.7 1151.3 321.1 1150.7 329.5C1150.2 338.0 1150.7 350.6 1150.7 354.8M1150.7 354.8C1153.8 355.9 1161.2 358.4 1169.2 361.5C1177.3 364.6 1194.0 371.3 1199.0 373.3M1150.7 354.8C1148.2 355.1 1139.8 355.1 1135.6 356.5C1131.4 357.9 1129.7 359.8 1125.5 363.2C1121.3 366.5 1115.7 372.4 1110.4 376.6C1105.0 380.8 1098.6 385.9 1093.5 388.4C1088.5 390.9 1082.3 391.2 1080.1 391.8M1285.3 195.0L1285.3 205.9M1285.3 205.9C1281.9 206.6 1274.1 209.2 1265.1 210.1C1256.1 211.1 1241.8 211.0 1231.5 211.8C1221.1 212.7 1208.5 214.3 1202.9 215.2C1197.3 216.0 1198.7 216.6 1197.8 216.9M1285.3 205.9C1287.5 208.3 1293.7 215.0 1298.7 220.2C1303.8 225.4 1309.5 231.4 1315.5 237.0C1321.6 242.7 1331.7 251.1 1334.9 253.9M1334.9 253.9C1340.1 253.6 1355.2 252.5 1366.0 252.2C1376.8 251.9 1390.5 252.0 1399.6 252.2C1408.8 252.3 1417.4 252.9 1421.0 253.0M1334.9 253.9C1333.6 256.7 1330.0 265.1 1327.3 270.7C1324.7 276.3 1321.4 283.0 1318.9 287.5C1316.4 292.0 1313.3 295.9 1312.2 297.6M1312.2 297.6C1312.5 300.1 1313.3 307.4 1313.9 312.7C1314.4 318.1 1314.4 323.9 1315.5 329.5C1316.7 335.2 1319.7 343.6 1320.6 346.4M1320.6 346.4C1322.6 348.6 1329.3 355.6 1332.4 359.8C1335.4 364.0 1337.7 365.7 1339.1 371.6C1340.5 377.4 1340.5 391.1 1340.8 395.0M1312.2 297.6C1310.5 298.7 1305.5 300.4 1302.1 304.3C1298.7 308.2 1293.7 316.4 1292.0 321.1C1290.3 325.9 1290.9 329.3 1292.0 332.9C1293.1 336.6 1294.0 340.8 1298.7 343.0C1303.5 345.2 1316.9 345.8 1320.6 346.4M1197.8 216.9C1196.4 217.7 1192.2 219.9 1189.4 221.9C1186.6 223.9 1182.4 227.5 1181.0 228.6M1197.8 216.9C1196.7 215.5 1192.8 212.1 1191.1 208.5C1189.4 204.8 1188.3 197.2 1187.7 195.0M1181.0 368.2C1185.2 369.6 1197.8 373.3 1206.2 376.6C1214.6 380.0 1225.8 385.4 1231.5 388.4C1237.1 391.5 1238.5 393.9 1239.9 395.0M729.0 490.9C734.6 492.3 748.8 497.9 762.6 499.3C776.5 500.7 804.0 499.3 812.2 499.3M812.2 499.3C813.2 496.2 815.2 487.0 818.1 480.8C821.1 474.7 826.5 466.8 829.9 462.3C833.3 457.8 836.9 455.3 838.3 453.9M812.2 499.3C814.6 500.7 821.9 504.9 826.5 507.7C831.2 510.5 837.8 514.7 840.0 516.1M840.0 516.1C840.6 518.9 842.2 525.9 843.4 533.0C844.5 540.0 845.9 547.5 846.7 558.2C847.6 568.9 848.1 590.6 848.4 597.0M846.7 460.6C847.0 462.9 847.8 469.0 848.4 474.1C849.0 479.1 849.8 488.1 850.1 490.9M850.1 490.9C849.0 492.3 845.0 495.1 843.4 499.3C841.7 503.5 840.6 513.3 840.0 516.1M850.1 490.9C855.1 492.0 873.6 494.8 880.4 497.6C887.1 500.4 887.7 504.6 890.5 507.7C893.3 510.8 894.7 511.9 897.2 516.1C899.7 520.3 902.8 526.5 905.6 533.0C908.4 539.4 912.3 550.6 914.0 554.8C915.7 559.0 915.4 557.6 915.7 558.2M870.3 422.0C872.0 423.6 877.3 429.5 880.4 432.0C883.4 434.6 884.6 435.1 888.8 437.1C893.0 439.1 900.0 441.3 905.6 443.8C911.2 446.3 919.6 450.8 922.4 452.2M868.6 403.5C870.6 402.1 877.0 397.3 880.4 395.0C883.7 392.8 887.4 390.8 888.8 390.0M846.7 390.0L853.5 405.1M952.7 492.6C951.8 495.1 949.0 501.0 947.6 507.7C946.2 514.5 945.7 525.9 944.3 533.0C942.9 540.0 940.1 547.0 939.2 549.8M915.7 558.2C916.0 561.0 915.4 570.8 917.4 575.0C919.3 579.2 922.4 579.7 927.5 583.4C932.5 587.1 944.3 594.8 947.6 597.0M984.2 422.0C988.4 423.1 999.9 426.0 1009.5 428.7C1019.0 431.3 1036.1 436.4 1041.4 437.9M1041.4 437.9C1043.4 435.0 1049.5 426.0 1053.2 420.3C1056.8 414.5 1059.3 408.5 1063.3 403.5C1067.2 398.4 1074.5 392.2 1076.7 390.0M984.2 422.0C981.4 423.9 971.6 430.6 967.4 433.7C963.2 436.8 960.4 439.3 959.0 440.5M1041.4 437.9C1042.0 440.6 1043.8 449.1 1044.8 453.9C1045.8 458.7 1046.9 464.4 1047.3 466.5M1047.3 466.5C1044.6 467.8 1035.9 470.0 1031.3 474.1C1026.7 478.2 1022.9 484.7 1019.5 490.9C1016.2 497.1 1012.8 505.8 1011.1 511.1C1009.5 516.4 1009.7 520.9 1009.5 522.9M1009.5 522.9C1011.7 525.4 1018.4 533.2 1022.9 538.0C1027.4 542.8 1032.7 548.2 1036.4 551.5C1040.0 554.7 1043.4 556.4 1044.8 557.3M1044.8 557.3C1044.2 560.3 1042.5 568.4 1041.4 575.0C1040.3 581.6 1038.6 593.4 1038.0 597.0M1047.3 466.5C1049.4 469.5 1056.4 478.4 1059.9 484.2C1063.4 489.9 1065.5 494.8 1068.3 501.0C1071.1 507.2 1074.8 517.0 1076.7 521.2C1078.7 525.4 1079.5 525.4 1080.1 526.2M1080.1 526.2C1077.3 528.7 1068.0 537.2 1063.3 541.4C1058.5 545.6 1054.6 548.8 1051.5 551.5C1048.4 554.1 1045.9 556.4 1044.8 557.3M1080.1 526.2C1083.7 527.6 1094.1 531.6 1102.0 534.6C1109.8 537.7 1117.9 541.2 1127.2 544.7C1136.4 548.2 1152.4 553.8 1157.5 555.7M1157.5 555.7C1160.8 554.1 1170.7 549.1 1177.6 546.4C1184.6 543.7 1195.4 540.8 1199.0 539.7M1157.5 555.7C1156.6 557.5 1153.8 562.8 1152.4 566.6C1151.0 570.4 1149.8 573.3 1149.0 578.4C1148.3 583.4 1147.9 593.9 1147.7 597.0M1009.5 522.9C1006.7 521.7 998.2 518.7 992.6 516.1C987.0 513.6 981.4 509.7 975.8 507.7C970.2 505.8 961.8 504.9 959.0 504.4M1239.9 390.0C1241.8 392.8 1248.3 401.2 1251.6 406.8C1255.0 412.4 1257.4 419.6 1260.0 423.6C1262.7 427.7 1266.4 429.9 1267.6 431.2M1267.6 431.2C1271.4 430.5 1282.2 428.3 1290.3 427.0C1298.4 425.7 1312.0 424.2 1316.4 423.6M1316.4 423.6C1318.2 420.3 1324.1 409.1 1327.3 403.5C1330.5 397.8 1334.3 392.2 1335.7 390.0M1267.6 431.2C1266.9 434.1 1264.7 441.7 1263.4 448.9C1262.1 456.0 1261.4 465.7 1260.0 474.1C1258.6 482.5 1256.7 491.5 1255.0 499.3C1253.3 507.2 1251.1 515.9 1250.0 521.2C1248.8 526.5 1248.6 529.6 1248.3 531.3M1248.3 531.3C1245.5 532.1 1237.1 534.1 1231.5 536.3C1225.8 538.6 1218.3 543.0 1214.6 544.7C1211.0 546.4 1210.4 546.1 1209.6 546.4M1209.6 546.4C1207.6 545.6 1202.6 542.8 1197.8 541.4C1193.1 540.0 1183.8 538.6 1181.0 538.0M1248.3 531.3C1250.5 533.5 1256.7 539.7 1261.7 544.7C1266.8 549.8 1272.4 555.9 1278.5 561.5C1284.7 567.1 1295.4 575.6 1298.7 578.4M1316.4 423.6C1319.0 426.4 1326.9 434.8 1332.4 440.5C1337.8 446.1 1343.9 451.1 1349.2 457.3C1354.5 463.4 1361.8 474.1 1364.3 477.5M1364.3 477.5C1364.9 479.7 1365.7 486.4 1367.7 490.9C1369.6 495.4 1373.8 500.7 1376.1 504.4C1378.3 508.0 1380.3 511.4 1381.1 512.8M1364.3 477.5L1374.4 474.9M1374.4 474.9C1375.8 477.6 1381.1 485.4 1382.8 490.9C1384.5 496.4 1384.8 504.1 1384.5 507.7C1384.2 511.4 1381.7 511.9 1381.1 512.8M1374.4 474.9C1375.8 472.0 1380.0 463.9 1382.8 457.3C1385.6 450.7 1388.4 441.9 1391.2 435.4C1394.0 429.0 1397.0 422.2 1399.6 418.6C1402.3 414.9 1405.9 414.4 1407.2 413.5M1407.2 413.5L1421.0 410.2M1318.9 420.3C1319.7 418.0 1320.3 411.0 1324.0 406.8C1327.6 402.6 1333.8 396.7 1340.8 395.0C1347.8 393.4 1357.6 395.0 1366.0 396.7C1374.4 398.4 1384.4 402.3 1391.2 405.1C1398.1 407.9 1404.5 412.1 1407.2 413.5M1381.1 512.8C1380.0 514.7 1376.1 519.8 1374.4 524.5C1372.7 529.3 1373.0 535.8 1371.0 541.4C1369.1 547.0 1366.3 553.1 1362.6 558.2C1359.0 563.2 1355.6 567.4 1349.2 571.6C1342.7 575.8 1328.2 581.4 1324.0 583.4M1381.1 512.8C1384.2 514.7 1393.0 520.6 1399.6 524.5C1406.3 528.5 1417.4 534.4 1421.0 536.3" fill="none" stroke="#bcbcbc" stroke-width="9" stroke-linecap="round" filter="url(#bl3)"/><ellipse cx="902.2" cy="252.2" rx="6.0" ry="9.0" fill="#6e6e6e" filter="url(#bl2)"/><ellipse cx="870.3" cy="250.5" rx="8.0" ry="8.0" fill="#d0d0d0" filter="url(#bl2)"/><ellipse cx="877.0" cy="282.5" rx="2.5" ry="3.0" fill="#444" filter="url(#bl2)"/><ellipse cx="1093.5" cy="181.6" rx="3.0" ry="3.0" fill="#888" filter="url(#bl2)"/><ellipse cx="1194.5" cy="216.9" rx="4.0" ry="3.0" fill="#444" filter="url(#bl2)"/><ellipse cx="1181.0" cy="216.9" rx="6.0" ry="6.0" fill="#c8c8c8" filter="url(#bl2)"/><ellipse cx="1075.0" cy="312.7" rx="3.0" ry="5.0" fill="#3a3a3a" filter="url(#bl2)"/><ellipse cx="1076.7" cy="385.0" rx="4.0" ry="4.0" fill="#555" filter="url(#bl2)"/><ellipse cx="1051.5" cy="385.0" rx="6.0" ry="6.0" fill="#d0d0d0" filter="url(#bl2)"/><ellipse cx="1344.1" cy="363.2" rx="9.0" ry="9.0" fill="#8a8a8a" filter="url(#bl2)"/><ellipse cx="1335.7" cy="253.9" rx="3.0" ry="3.0" fill="#3a3a3a" filter="url(#bl2)"/><ellipse cx="1056.5" cy="521.2" rx="8.0" ry="8.0" fill="#8c8c8c" filter="url(#bl2)"/><ellipse cx="1157.5" cy="555.7" rx="2.5" ry="2.5" fill="#666" filter="url(#bl2)"/><ellipse cx="1381.1" cy="512.8" rx="4.0" ry="4.0" fill="#333" filter="url(#bl2)"/><ellipse cx="1197.8" cy="216.9" rx="4.0" ry="3.0" fill="#333" filter="url(#bl2)"/><ellipse cx="1053.0" cy="400.0" rx="8.0" ry="6.0" fill="#e0e0e0" filter="url(#bl2)"/><ellipse cx="1365.0" cy="508.0" rx="5.0" ry="8.0" fill="#cccccc" filter="url(#bl2)"/><ellipse cx="913.0" cy="455.0" rx="22.0" ry="25.0" fill="#bdbdbd" filter="url(#bl2)"/><ellipse cx="1068.0" cy="22.0" rx="7.0" ry="6.0" fill="#d8d8d8" filter="url(#bl2)"/><ellipse cx="1236.0" cy="212.0" rx="12.0" ry="5.0" fill="#bdbdbd" filter="url(#bl2)"/><path d="M1059.9 30.2 L1076.7 15.1 L1086.8 23.5 L1093.5 38.6 L1107.0 60.5 L1108.7 72.3 L1098.6 82.4 L1076.7 80.7 L1053.2 72.3 L1049.8 55.5 Z" fill="#ffffff" filter="url(#bl3)"/><path d="M823.2 400.1 L846.7 400.1 L851.8 410.2 L846.7 427.0 L838.3 445.5 L823.2 457.3 L813.1 453.9 L816.5 432.0 Z" fill="#ffffff" filter="url(#bl3)"/><path d="M1270.1 571.6 L1295.4 578.4 L1298.7 597.0 L1268.5 597.0 Z" fill="#f6f6f6" filter="url(#bl3)"/><path d="M860.2 5.0 L875.3 5.0 L877.0 18.5 L863.5 25.2 Z" fill="#e8e8e8" filter="url(#bl3)"/><path d="M729.0 79.0C730.7 80.4 736.3 85.2 739.1 87.4C741.9 89.7 744.7 91.6 745.8 92.5M745.8 92.5C751.4 90.5 768.2 84.6 779.5 80.7C790.7 76.8 802.9 72.0 813.1 68.9C823.3 65.8 836.2 63.3 840.8 62.2M840.8 62.2C842.4 60.5 846.3 56.6 850.1 52.1C853.9 47.6 859.1 41.2 863.5 35.3C868.0 29.4 873.9 21.8 877.0 16.8C880.1 11.7 881.2 7.0 882.0 5.0M840.8 62.2C843.2 64.7 850.8 72.3 855.1 77.3C859.5 82.4 863.8 88.5 866.9 92.5C870.0 96.4 872.5 99.5 873.6 100.9M887.1 5.0C886.8 9.2 885.5 20.4 885.4 30.2C885.3 40.0 886.2 53.2 886.2 63.9C886.2 74.5 885.5 89.1 885.4 94.1M885.4 94.1L873.6 100.9M885.4 94.1C887.4 95.8 892.4 100.6 897.2 104.2C901.9 107.9 907.4 112.2 914.0 116.0C920.6 119.8 932.9 125.1 936.7 126.9M936.7 126.9C938.5 125.9 943.0 124.5 947.6 121.0C952.3 117.5 960.9 109.0 964.5 105.9C968.0 102.8 968.2 103.1 969.0 102.5M936.7 126.9C936.4 129.0 935.4 134.6 935.0 139.5C934.6 144.4 933.9 152.3 934.2 156.4C934.5 160.4 936.3 162.7 936.7 163.9M936.7 163.9C938.0 165.5 942.4 168.8 944.3 173.2C946.1 177.5 946.8 184.7 947.6 190.0C948.5 195.3 949.0 202.5 949.3 205.0M873.6 100.9C872.5 103.1 868.9 109.3 866.9 114.3C864.9 119.4 862.8 124.5 861.9 131.1C860.9 137.7 861.2 150.1 861.0 153.8M861.0 153.8C862.6 155.4 868.2 161.0 870.3 163.1C872.4 165.2 873.1 165.9 873.6 166.5M873.6 166.5C873.4 169.0 872.5 175.2 872.0 181.6C871.4 188.0 870.6 201.1 870.3 205.0M873.6 166.5C877.6 166.5 890.5 166.7 897.2 166.5C903.9 166.2 907.4 165.2 914.0 164.8C920.6 164.4 932.9 164.1 936.7 163.9M861.0 153.8C855.8 155.4 840.7 159.9 829.9 163.1C819.1 166.3 807.5 169.3 796.3 173.2C785.1 177.1 769.4 183.8 762.6 186.6C755.9 189.4 757.0 189.4 755.9 190.0M745.8 92.5C744.1 94.7 738.2 100.9 735.7 105.9C733.2 111.0 731.5 119.9 730.7 122.7M729.0 139.5C730.7 142.3 735.7 150.8 739.1 156.4C742.5 162.0 746.4 167.6 749.2 173.2C752.0 178.8 754.8 187.2 755.9 190.0M755.9 190.0L754.2 205.0M965.7 105.9C968.0 107.6 975.3 112.1 979.2 116.0C983.1 119.9 987.3 125.0 989.3 129.5C991.2 133.9 991.5 137.9 991.0 142.9C990.4 148.0 987.0 156.4 985.9 159.7C984.8 163.1 984.5 162.5 984.2 163.1M984.2 163.1C981.7 163.7 973.3 165.9 969.1 166.5C964.9 167.0 960.7 166.5 959.0 166.5M965.7 105.9L959.0 112.6M994.3 132.8C996.8 129.7 1004.1 120.5 1009.5 114.3C1014.8 108.2 1020.9 102.0 1026.3 95.8C1031.6 89.7 1038.9 80.4 1041.4 77.3M1041.4 77.3C1042.5 77.6 1042.2 78.3 1048.1 79.0C1054.0 79.7 1068.3 80.8 1076.7 81.5C1085.1 82.2 1093.0 84.2 1098.6 83.2C1104.2 82.2 1108.4 76.9 1110.4 75.6M1127.2 75.6C1130.0 77.9 1138.3 84.0 1144.0 89.1C1149.7 94.1 1158.7 103.1 1161.7 105.9M1161.7 105.9C1164.3 105.1 1171.4 102.5 1177.6 100.9C1183.9 99.2 1195.4 96.7 1199.0 95.8M1161.7 105.9C1162.1 108.7 1162.6 115.7 1164.2 122.7C1165.7 129.7 1168.7 140.9 1170.9 148.0C1173.1 155.0 1175.1 159.2 1177.6 164.8C1180.2 170.4 1183.5 174.9 1186.0 181.6C1188.6 188.3 1191.6 201.1 1192.8 205.0M994.3 132.8C993.8 135.3 992.6 142.9 991.0 148.0C989.3 153.0 985.3 160.6 984.2 163.1M984.2 163.1C985.1 164.8 988.2 168.7 989.3 173.2C990.4 177.7 990.4 184.7 991.0 190.0C991.5 195.3 992.4 202.5 992.6 205.0M1298.7 5.0C1297.9 7.8 1295.1 15.8 1293.7 21.8C1292.3 27.8 1290.9 37.9 1290.3 41.2M1290.3 41.2C1287.8 44.1 1280.2 52.2 1275.2 58.8C1270.1 65.4 1263.4 75.6 1260.0 80.7C1256.7 85.7 1255.8 87.7 1255.0 89.1M1290.3 41.2C1294.5 42.1 1307.3 45.4 1315.5 47.0C1323.8 48.7 1335.9 50.5 1339.9 51.2M1339.9 51.2C1341.5 48.3 1346.0 39.6 1349.2 33.6C1352.4 27.6 1356.5 19.9 1359.3 15.1C1362.1 10.3 1364.9 6.7 1366.0 5.0M1339.9 51.2C1342.9 54.8 1351.8 65.4 1357.6 72.3C1363.3 79.1 1368.8 86.3 1374.4 92.5C1380.0 98.6 1386.7 104.6 1391.2 109.3C1395.7 113.9 1399.6 118.4 1401.3 120.2M1401.3 120.2L1421.0 122.7M1401.3 120.2C1402.4 122.3 1404.8 128.2 1408.0 132.8C1411.3 137.4 1418.8 145.4 1421.0 148.0M1255.0 89.1C1248.3 89.9 1227.0 92.2 1214.6 94.1C1202.3 96.1 1186.6 99.7 1181.0 100.9M1255.0 89.1C1256.4 92.5 1260.3 102.8 1263.4 109.3C1266.5 115.7 1270.0 122.9 1273.5 127.8C1277.0 132.7 1282.6 136.9 1284.4 138.7M1284.4 138.7C1284.9 141.6 1286.3 150.6 1287.0 156.4C1287.7 162.1 1288.4 165.1 1288.6 173.2C1288.9 181.3 1288.6 199.7 1288.6 205.0M1181.0 164.8C1181.8 167.6 1184.4 174.9 1186.0 181.6C1187.7 188.3 1190.2 201.1 1191.1 205.0M749.2 195.0C748.1 199.2 744.1 212.7 742.5 220.2C740.8 227.8 739.7 237.0 739.1 240.4M739.1 240.4L729.0 243.8M739.1 240.4C743.0 242.4 753.1 248.0 762.6 252.2C772.2 256.4 785.1 262.0 796.3 265.6C807.5 269.3 817.3 272.4 829.9 274.0C842.5 275.7 864.9 275.4 872.0 275.7M870.3 195.0C870.8 199.2 872.5 212.4 873.6 220.2C874.8 228.1 876.2 238.2 877.0 242.1C877.8 246.0 878.4 243.5 878.7 243.8M878.7 243.8C881.8 243.8 891.3 244.9 897.2 243.8C903.1 242.7 908.4 240.1 914.0 237.0C919.6 234.0 925.8 228.6 930.8 225.3C935.9 221.9 942.0 218.3 944.3 216.9M944.3 216.9L947.6 195.0M944.3 216.9C946.0 218.5 951.8 222.7 954.4 227.0C956.9 231.2 958.3 236.2 959.4 242.1C960.5 248.0 961.4 255.5 961.1 262.3C960.8 269.0 960.0 275.4 957.7 282.5C955.5 289.5 952.1 296.5 947.6 304.3C943.1 312.2 937.0 322.7 930.8 329.5C924.6 336.4 914.0 342.9 910.6 345.5M878.7 243.8C878.7 246.9 879.0 255.8 878.7 262.3C878.4 268.7 877.3 275.4 877.0 282.5C876.7 289.5 876.6 296.9 877.0 304.3C877.4 311.7 879.1 323.2 879.5 327.0M879.5 327.0C882.5 328.8 892.0 334.9 897.2 338.0C902.4 341.0 908.4 344.3 910.6 345.5M879.5 327.0C877.4 328.8 870.7 333.3 866.9 338.0C863.1 342.6 860.2 349.2 856.8 354.8C853.5 360.4 849.2 367.0 846.7 371.6C844.2 376.2 842.5 380.7 841.7 382.5M841.7 382.5L846.7 395.0M841.7 382.5C836.9 382.4 823.5 381.3 813.1 381.7C802.7 382.1 790.7 383.6 779.5 385.0C768.2 386.4 754.2 389.0 745.8 390.1C737.4 391.2 731.8 391.5 729.0 391.8M910.6 345.5C910.6 348.5 911.2 357.4 910.6 363.2C910.1 368.9 908.4 374.7 907.3 380.0C906.1 385.3 904.5 392.5 903.9 395.0M944.3 216.9C947.6 216.9 960.3 217.1 964.5 216.9C968.6 216.6 968.2 215.5 969.0 215.2M991.0 195.0C991.0 196.7 991.1 202.6 991.0 205.1C990.8 207.6 990.3 209.3 990.1 210.1M990.1 210.1C987.7 211.0 980.4 212.1 975.8 215.2C971.2 218.3 964.6 226.4 962.4 228.6M990.1 210.1C993.3 211.8 1003.4 215.5 1009.5 220.2C1015.5 225.0 1020.7 231.7 1026.3 238.7C1031.9 245.7 1037.5 253.9 1043.1 262.3C1048.7 270.7 1054.6 281.6 1059.9 289.2C1065.2 296.7 1072.5 304.6 1075.0 307.7M1075.0 307.7C1074.2 309.9 1071.7 316.1 1070.0 321.1C1068.3 326.2 1066.6 332.3 1065.0 338.0C1063.3 343.6 1061.0 349.2 1059.9 354.8C1058.8 360.4 1057.1 367.4 1058.2 371.6C1059.3 375.8 1063.6 377.8 1066.6 380.0C1069.7 382.2 1075.0 384.2 1076.7 385.0M1076.7 385.0L1085.1 395.0M1075.0 307.7C1078.1 306.3 1086.3 302.4 1093.5 299.3C1100.8 296.2 1110.4 293.7 1118.8 289.2C1127.2 284.7 1136.7 277.3 1144.0 272.4C1151.3 267.5 1159.4 261.9 1162.5 259.7M1162.5 259.7C1165.0 256.5 1173.1 246.7 1177.6 240.4C1182.1 234.1 1186.6 225.8 1189.4 221.9C1192.2 218.0 1193.6 217.7 1194.5 216.9M1194.5 216.9L1199.0 211.8M1162.5 259.7C1161.7 263.0 1158.9 271.7 1157.5 279.1C1156.1 286.5 1155.2 295.9 1154.1 304.3C1153.0 312.7 1151.3 321.1 1150.7 329.5C1150.2 338.0 1150.7 350.6 1150.7 354.8M1150.7 354.8C1153.8 355.9 1161.2 358.4 1169.2 361.5C1177.3 364.6 1194.0 371.3 1199.0 373.3M1150.7 354.8C1148.2 355.1 1139.8 355.1 1135.6 356.5C1131.4 357.9 1129.7 359.8 1125.5 363.2C1121.3 366.5 1115.7 372.4 1110.4 376.6C1105.0 380.8 1098.6 385.9 1093.5 388.4C1088.5 390.9 1082.3 391.2 1080.1 391.8M1285.3 195.0L1285.3 205.9M1285.3 205.9C1281.9 206.6 1274.1 209.2 1265.1 210.1C1256.1 211.1 1241.8 211.0 1231.5 211.8C1221.1 212.7 1208.5 214.3 1202.9 215.2C1197.3 216.0 1198.7 216.6 1197.8 216.9M1285.3 205.9C1287.5 208.3 1293.7 215.0 1298.7 220.2C1303.8 225.4 1309.5 231.4 1315.5 237.0C1321.6 242.7 1331.7 251.1 1334.9 253.9M1334.9 253.9C1340.1 253.6 1355.2 252.5 1366.0 252.2C1376.8 251.9 1390.5 252.0 1399.6 252.2C1408.8 252.3 1417.4 252.9 1421.0 253.0M1334.9 253.9C1333.6 256.7 1330.0 265.1 1327.3 270.7C1324.7 276.3 1321.4 283.0 1318.9 287.5C1316.4 292.0 1313.3 295.9 1312.2 297.6M1312.2 297.6C1312.5 300.1 1313.3 307.4 1313.9 312.7C1314.4 318.1 1314.4 323.9 1315.5 329.5C1316.7 335.2 1319.7 343.6 1320.6 346.4M1320.6 346.4C1322.6 348.6 1329.3 355.6 1332.4 359.8C1335.4 364.0 1337.7 365.7 1339.1 371.6C1340.5 377.4 1340.5 391.1 1340.8 395.0M1312.2 297.6C1310.5 298.7 1305.5 300.4 1302.1 304.3C1298.7 308.2 1293.7 316.4 1292.0 321.1C1290.3 325.9 1290.9 329.3 1292.0 332.9C1293.1 336.6 1294.0 340.8 1298.7 343.0C1303.5 345.2 1316.9 345.8 1320.6 346.4M1197.8 216.9C1196.4 217.7 1192.2 219.9 1189.4 221.9C1186.6 223.9 1182.4 227.5 1181.0 228.6M1197.8 216.9C1196.7 215.5 1192.8 212.1 1191.1 208.5C1189.4 204.8 1188.3 197.2 1187.7 195.0M1181.0 368.2C1185.2 369.6 1197.8 373.3 1206.2 376.6C1214.6 380.0 1225.8 385.4 1231.5 388.4C1237.1 391.5 1238.5 393.9 1239.9 395.0M729.0 490.9C734.6 492.3 748.8 497.9 762.6 499.3C776.5 500.7 804.0 499.3 812.2 499.3M812.2 499.3C813.2 496.2 815.2 487.0 818.1 480.8C821.1 474.7 826.5 466.8 829.9 462.3C833.3 457.8 836.9 455.3 838.3 453.9M812.2 499.3C814.6 500.7 821.9 504.9 826.5 507.7C831.2 510.5 837.8 514.7 840.0 516.1M840.0 516.1C840.6 518.9 842.2 525.9 843.4 533.0C844.5 540.0 845.9 547.5 846.7 558.2C847.6 568.9 848.1 590.6 848.4 597.0M846.7 460.6C847.0 462.9 847.8 469.0 848.4 474.1C849.0 479.1 849.8 488.1 850.1 490.9M850.1 490.9C849.0 492.3 845.0 495.1 843.4 499.3C841.7 503.5 840.6 513.3 840.0 516.1M850.1 490.9C855.1 492.0 873.6 494.8 880.4 497.6C887.1 500.4 887.7 504.6 890.5 507.7C893.3 510.8 894.7 511.9 897.2 516.1C899.7 520.3 902.8 526.5 905.6 533.0C908.4 539.4 912.3 550.6 914.0 554.8C915.7 559.0 915.4 557.6 915.7 558.2M870.3 422.0C872.0 423.6 877.3 429.5 880.4 432.0C883.4 434.6 884.6 435.1 888.8 437.1C893.0 439.1 900.0 441.3 905.6 443.8C911.2 446.3 919.6 450.8 922.4 452.2M868.6 403.5C870.6 402.1 877.0 397.3 880.4 395.0C883.7 392.8 887.4 390.8 888.8 390.0M846.7 390.0L853.5 405.1M952.7 492.6C951.8 495.1 949.0 501.0 947.6 507.7C946.2 514.5 945.7 525.9 944.3 533.0C942.9 540.0 940.1 547.0 939.2 549.8M915.7 558.2C916.0 561.0 915.4 570.8 917.4 575.0C919.3 579.2 922.4 579.7 927.5 583.4C932.5 587.1 944.3 594.8 947.6 597.0M984.2 422.0C988.4 423.1 999.9 426.0 1009.5 428.7C1019.0 431.3 1036.1 436.4 1041.4 437.9M1041.4 437.9C1043.4 435.0 1049.5 426.0 1053.2 420.3C1056.8 414.5 1059.3 408.5 1063.3 403.5C1067.2 398.4 1074.5 392.2 1076.7 390.0M984.2 422.0C981.4 423.9 971.6 430.6 967.4 433.7C963.2 436.8 960.4 439.3 959.0 440.5M1041.4 437.9C1042.0 440.6 1043.8 449.1 1044.8 453.9C1045.8 458.7 1046.9 464.4 1047.3 466.5M1047.3 466.5C1044.6 467.8 1035.9 470.0 1031.3 474.1C1026.7 478.2 1022.9 484.7 1019.5 490.9C1016.2 497.1 1012.8 505.8 1011.1 511.1C1009.5 516.4 1009.7 520.9 1009.5 522.9M1009.5 522.9C1011.7 525.4 1018.4 533.2 1022.9 538.0C1027.4 542.8 1032.7 548.2 1036.4 551.5C1040.0 554.7 1043.4 556.4 1044.8 557.3M1044.8 557.3C1044.2 560.3 1042.5 568.4 1041.4 575.0C1040.3 581.6 1038.6 593.4 1038.0 597.0M1047.3 466.5C1049.4 469.5 1056.4 478.4 1059.9 484.2C1063.4 489.9 1065.5 494.8 1068.3 501.0C1071.1 507.2 1074.8 517.0 1076.7 521.2C1078.7 525.4 1079.5 525.4 1080.1 526.2M1080.1 526.2C1077.3 528.7 1068.0 537.2 1063.3 541.4C1058.5 545.6 1054.6 548.8 1051.5 551.5C1048.4 554.1 1045.9 556.4 1044.8 557.3M1080.1 526.2C1083.7 527.6 1094.1 531.6 1102.0 534.6C1109.8 537.7 1117.9 541.2 1127.2 544.7C1136.4 548.2 1152.4 553.8 1157.5 555.7M1157.5 555.7C1160.8 554.1 1170.7 549.1 1177.6 546.4C1184.6 543.7 1195.4 540.8 1199.0 539.7M1157.5 555.7C1156.6 557.5 1153.8 562.8 1152.4 566.6C1151.0 570.4 1149.8 573.3 1149.0 578.4C1148.3 583.4 1147.9 593.9 1147.7 597.0M1009.5 522.9C1006.7 521.7 998.2 518.7 992.6 516.1C987.0 513.6 981.4 509.7 975.8 507.7C970.2 505.8 961.8 504.9 959.0 504.4M1239.9 390.0C1241.8 392.8 1248.3 401.2 1251.6 406.8C1255.0 412.4 1257.4 419.6 1260.0 423.6C1262.7 427.7 1266.4 429.9 1267.6 431.2M1267.6 431.2C1271.4 430.5 1282.2 428.3 1290.3 427.0C1298.4 425.7 1312.0 424.2 1316.4 423.6M1316.4 423.6C1318.2 420.3 1324.1 409.1 1327.3 403.5C1330.5 397.8 1334.3 392.2 1335.7 390.0M1267.6 431.2C1266.9 434.1 1264.7 441.7 1263.4 448.9C1262.1 456.0 1261.4 465.7 1260.0 474.1C1258.6 482.5 1256.7 491.5 1255.0 499.3C1253.3 507.2 1251.1 515.9 1250.0 521.2C1248.8 526.5 1248.6 529.6 1248.3 531.3M1248.3 531.3C1245.5 532.1 1237.1 534.1 1231.5 536.3C1225.8 538.6 1218.3 543.0 1214.6 544.7C1211.0 546.4 1210.4 546.1 1209.6 546.4M1209.6 546.4C1207.6 545.6 1202.6 542.8 1197.8 541.4C1193.1 540.0 1183.8 538.6 1181.0 538.0M1248.3 531.3C1250.5 533.5 1256.7 539.7 1261.7 544.7C1266.8 549.8 1272.4 555.9 1278.5 561.5C1284.7 567.1 1295.4 575.6 1298.7 578.4M1316.4 423.6C1319.0 426.4 1326.9 434.8 1332.4 440.5C1337.8 446.1 1343.9 451.1 1349.2 457.3C1354.5 463.4 1361.8 474.1 1364.3 477.5M1364.3 477.5C1364.9 479.7 1365.7 486.4 1367.7 490.9C1369.6 495.4 1373.8 500.7 1376.1 504.4C1378.3 508.0 1380.3 511.4 1381.1 512.8M1364.3 477.5L1374.4 474.9M1374.4 474.9C1375.8 477.6 1381.1 485.4 1382.8 490.9C1384.5 496.4 1384.8 504.1 1384.5 507.7C1384.2 511.4 1381.7 511.9 1381.1 512.8M1374.4 474.9C1375.8 472.0 1380.0 463.9 1382.8 457.3C1385.6 450.7 1388.4 441.9 1391.2 435.4C1394.0 429.0 1397.0 422.2 1399.6 418.6C1402.3 414.9 1405.9 414.4 1407.2 413.5M1407.2 413.5L1421.0 410.2M1318.9 420.3C1319.7 418.0 1320.3 411.0 1324.0 406.8C1327.6 402.6 1333.8 396.7 1340.8 395.0C1347.8 393.4 1357.6 395.0 1366.0 396.7C1374.4 398.4 1384.4 402.3 1391.2 405.1C1398.1 407.9 1404.5 412.1 1407.2 413.5M1381.1 512.8C1380.0 514.7 1376.1 519.8 1374.4 524.5C1372.7 529.3 1373.0 535.8 1371.0 541.4C1369.1 547.0 1366.3 553.1 1362.6 558.2C1359.0 563.2 1355.6 567.4 1349.2 571.6C1342.7 575.8 1328.2 581.4 1324.0 583.4M1381.1 512.8C1384.2 514.7 1393.0 520.6 1399.6 524.5C1406.3 528.5 1417.4 534.4 1421.0 536.3" fill="none" stroke="#707070" stroke-width="3" stroke-linecap="round" stroke-linejoin="round" filter="url(#blL)"/><path d="M1086.8 23.5 L1098.6 5.0 L1110.4 5.0 L1127.2 30.2 L1137.3 45.4 L1130.5 68.9 L1117.1 74.0 L1107.0 60.5 L1093.5 38.6 Z" fill="#2e2e2e" filter="url(#bl2)"/><path d="M853.5 405.1 L868.6 403.5 L870.3 422.0 L856.8 428.7 L850.1 437.1 L845.0 447.2 L840.0 453.9 L836.6 452.2 L843.4 433.7 L850.1 416.9 Z" fill="#030303" filter="url(#bl2)"/><path d="M922.4 450.5 L947.6 443.8 L969.0 438.8 L981.3 440.5 L976.2 477.5 L961.1 487.5 L952.7 492.6 L942.6 484.2 L930.8 469.0 Z" fill="#020202" filter="url(#bl2)"/><path d="M1298.7 578.4 L1322.3 576.7 L1325.6 597.0 L1298.7 597.0 Z" fill="#0a0a0a" filter="url(#bl2)"/><path d="M883.7 5.0 L890.5 5.0 L888.8 30.2 L885.4 30.2 Z" fill="#6a6a6a" filter="url(#bl2)"/></g><text x="759.6" y="61" font-family="Liberation Sans, Arial, sans-serif" font-weight="bold" font-size="34.5">(b)</text><rect x="757" y="568" width="219" height="9" fill="#000"/><text x="805.4" y="549" font-family="Liberation Sans, Arial, sans-serif" font-weight="bold" font-size="42.4">20 µm</text>
<rect x="110.3" y="720.5" width="894.5" height="868" fill="none" stroke="#000" stroke-width="6" stroke-linejoin="round"/>
<line x1="174.2" y1="1588" x2="174.2" y2="1577.0" stroke="#000" stroke-width="5.6"/><line x1="238.1" y1="1588" x2="238.1" y2="1574.0" stroke="#000" stroke-width="5.6"/><line x1="301.9" y1="1588" x2="301.9" y2="1577.0" stroke="#000" stroke-width="5.6"/><line x1="365.8" y1="1588" x2="365.8" y2="1574.0" stroke="#000" stroke-width="5.6"/><line x1="429.7" y1="1588" x2="429.7" y2="1577.0" stroke="#000" stroke-width="5.6"/><line x1="493.6" y1="1588" x2="493.6" y2="1574.0" stroke="#000" stroke-width="5.6"/><line x1="557.4" y1="1588" x2="557.4" y2="1577.0" stroke="#000" stroke-width="5.6"/><line x1="621.3" y1="1588" x2="621.3" y2="1574.0" stroke="#000" stroke-width="5.6"/><line x1="685.2" y1="1588" x2="685.2" y2="1577.0" stroke="#000" stroke-width="5.6"/><line x1="749.0" y1="1588" x2="749.0" y2="1574.0" stroke="#000" stroke-width="5.6"/><line x1="812.9" y1="1588" x2="812.9" y2="1577.0" stroke="#000" stroke-width="5.6"/><line x1="876.8" y1="1588" x2="876.8" y2="1574.0" stroke="#000" stroke-width="5.6"/><line x1="940.7" y1="1588" x2="940.7" y2="1577.0" stroke="#000" stroke-width="5.6"/>
<text transform="translate(103.2 1631) scale(1 1.06)" font-family="Liberation Sans, Arial, sans-serif" font-weight="bold" font-size="41.5" text-anchor="middle">15</text>
<text transform="translate(234.8 1631) scale(1 1.06)" font-family="Liberation Sans, Arial, sans-serif" font-weight="bold" font-size="41.5" text-anchor="middle">20</text>
<text transform="translate(364.3 1631) scale(1 1.06)" font-family="Liberation Sans, Arial, sans-serif" font-weight="bold" font-size="41.5" text-anchor="middle">25</text>
<text transform="translate(490.0 1631) scale(1 1.06)" font-family="Liberation Sans, Arial, sans-serif" font-weight="bold" font-size="41.5" text-anchor="middle">30</text>
<text transform="translate(618.5 1631) scale(1 1.06)" font-family="Liberation Sans, Arial, sans-serif" font-weight="bold" font-size="41.5" text-anchor="middle">35</text>
<text transform="translate(742.3 1631) scale(1 1.06)" font-family="Liberation Sans, Arial, sans-serif" font-weight="bold" font-size="41.5" text-anchor="middle">40</text>
<text transform="translate(872.7 1631) scale(1 1.06)" font-family="Liberation Sans, Arial, sans-serif" font-weight="bold" font-size="41.5" text-anchor="middle">45</text>
<text transform="translate(1001.2 1631) scale(1 1.06)" font-family="Liberation Sans, Arial, sans-serif" font-weight="bold" font-size="41.5" text-anchor="middle">50</text>
<text x="554" y="1680" font-family="Liberation Sans, Arial, sans-serif" font-weight="bold" font-size="47.2" text-anchor="middle">2θ (deg.)</text>
<text transform="translate(76.3 1138.5) rotate(-90)" font-family="Liberation Sans, Arial, sans-serif" font-weight="bold" font-size="47.3" text-anchor="middle">Intensity (a.u.)</text>
<text x="137.2" y="768.8" font-family="Liberation Sans, Arial, sans-serif" font-weight="bold" font-size="34.5">(c)</text>
<path d="M110.3 1497.6L110.8 1499.6L111.3 1501.7L111.8 1500.1L112.3 1498.5L112.9 1499.0L113.4 1499.5L113.9 1499.6L114.4 1499.8L114.9 1499.3L115.4 1498.8L115.9 1498.3L116.4 1497.9L116.9 1499.4L117.5 1500.9L118.0 1500.7L118.5 1500.5L119.0 1498.8L119.5 1497.1L120.0 1500.3L120.5 1503.5L121.0 1502.5L121.5 1501.5L122.1 1500.2L122.6 1498.9L123.1 1500.2L123.6 1501.4L124.1 1500.4L124.6 1499.4L125.1 1499.7L125.6 1500.0L126.1 1500.7L126.7 1501.3L127.2 1499.8L127.7 1498.2L128.2 1499.6L128.7 1501.0L129.2 1501.6L129.7 1502.2L130.2 1502.2L130.7 1502.1L131.3 1500.9L131.8 1499.7L132.3 1500.6L132.8 1501.5L133.3 1499.5L133.8 1497.6L134.3 1498.7L134.8 1499.8L135.3 1500.2L135.8 1500.6L136.4 1499.2L136.9 1497.8L137.4 1498.7L137.9 1499.5L138.4 1500.8L138.9 1502.1L139.4 1502.6L139.9 1503.2L140.4 1501.7L141.0 1500.1L141.5 1500.0L142.0 1499.9L142.5 1498.3L143.0 1496.7L143.5 1496.1L144.0 1495.3L144.5 1494.4L145.0 1493.0L145.6 1492.5L146.1 1491.2L146.6 1487.1L147.1 1481.2L147.6 1471.8L148.1 1459.4L148.6 1444.4L149.1 1425.9L149.6 1405.7L150.2 1382.9L150.7 1357.5L151.2 1332.3L151.7 1308.9L152.2 1289.9L152.7 1278.7L153.2 1275.4L153.7 1278.6L154.2 1289.9L154.8 1308.6L155.3 1331.6L155.8 1356.0L156.3 1380.6L156.8 1405.4L157.3 1427.6L157.8 1446.6L158.3 1462.0L158.8 1472.4L159.4 1479.8L159.9 1485.8L160.4 1490.0L160.9 1493.0L161.4 1495.2L161.9 1496.2L162.4 1496.9L162.9 1497.6L163.4 1498.2L164.0 1498.4L164.5 1498.6L165.0 1498.8L165.5 1499.0L166.0 1498.1L166.5 1497.1L167.0 1498.0L167.5 1498.9L168.0 1497.5L168.6 1496.2L169.1 1497.6L169.6 1499.0L170.1 1497.8L170.6 1496.6L171.1 1497.5L171.6 1498.3L172.1 1498.7L172.6 1499.0L173.2 1498.3L173.7 1497.5L174.2 1497.9L174.7 1498.2L175.2 1496.8L175.7 1495.4L176.2 1495.9L176.7 1496.4L177.2 1497.5L177.8 1498.6L178.3 1497.1L178.8 1495.7L179.3 1497.0L179.8 1498.2L180.3 1496.6L180.8 1495.0L181.3 1495.3L181.8 1495.5L182.4 1495.3L182.9 1495.1L183.4 1495.8L183.9 1496.5L184.4 1496.8L184.9 1497.1L185.4 1495.8L185.9 1494.5L186.4 1495.1L186.9 1495.7L187.5 1496.9L188.0 1498.2L188.5 1496.6L189.0 1495.0L189.5 1494.6L190.0 1494.1L190.5 1494.9L191.0 1495.7L191.5 1495.1L192.1 1494.5L192.6 1494.1L193.1 1493.6L193.6 1492.7L194.1 1491.7L194.6 1493.6L195.1 1495.4L195.6 1494.3L196.1 1493.1L196.7 1493.4L197.2 1493.7L197.7 1492.8L198.2 1491.8L198.7 1493.4L199.2 1495.1L199.7 1494.5L200.2 1493.9L200.7 1493.9L201.3 1493.9L201.8 1492.9L202.3 1491.9L202.8 1492.2L203.3 1492.4L203.8 1492.5L204.3 1492.6L204.8 1492.4L205.3 1492.4L205.9 1491.8L206.4 1491.1L206.9 1490.7L207.4 1490.2L207.9 1489.8L208.4 1489.2L208.9 1488.6L209.4 1487.8L209.9 1486.8L210.5 1485.6L211.0 1484.9L211.5 1483.2L212.0 1478.7L212.5 1472.1L213.0 1461.5L213.5 1446.9L214.0 1429.6L214.5 1405.9L215.1 1374.4L215.6 1335.3L216.1 1286.9L216.6 1232.7L217.1 1175.1L217.6 1117.8L218.1 1067.8L218.6 1027.5L219.1 1001.0L219.7 992.2L220.2 1001.3L220.7 1028.3L221.2 1069.5L221.7 1120.5L222.2 1178.4L222.7 1236.7L223.2 1290.0L223.7 1337.6L224.3 1376.3L224.8 1407.3L225.3 1433.1L225.8 1452.5L226.3 1465.6L226.8 1474.6L227.3 1481.1L227.8 1485.5L228.3 1488.5L228.9 1490.5L229.4 1490.7L229.9 1490.3L230.4 1489.0L230.9 1486.9L231.4 1483.7L231.9 1479.0L232.4 1472.9L232.9 1464.7L233.5 1454.6L234.0 1441.9L234.5 1427.0L235.0 1410.1L235.5 1390.5L236.0 1371.1L236.5 1353.7L237.0 1339.7L237.5 1330.8L238.1 1327.9L238.6 1331.1L239.1 1340.4L239.6 1355.1L240.1 1373.0L240.6 1391.0L241.1 1409.0L241.6 1426.6L242.1 1442.2L242.6 1457.1L243.2 1469.4L243.7 1477.5L244.2 1483.5L244.7 1490.2L245.2 1495.6L245.7 1496.5L246.2 1496.7L246.7 1497.7L247.2 1498.4L247.8 1497.9L248.3 1497.4L248.8 1499.1L249.3 1500.7L249.8 1500.3L250.3 1499.9L250.8 1501.4L251.3 1502.9L251.8 1502.9L252.4 1502.9L252.9 1501.8L253.4 1500.8L253.9 1501.8L254.4 1502.8L254.9 1500.5L255.4 1498.2L255.9 1499.8L256.4 1501.5L257.0 1503.0L257.5 1504.5L258.0 1504.2L258.5 1503.9L259.0 1503.5L259.5 1503.1L260.0 1503.0L260.5 1503.0L261.0 1502.0L261.6 1501.0L262.1 1501.1L262.6 1501.2L263.1 1502.4L263.6 1503.7L264.1 1504.9L264.6 1506.1L265.1 1503.2L265.6 1500.3L266.2 1502.4L266.7 1504.6L267.2 1504.6L267.7 1504.6L268.2 1504.9L268.7 1505.2L269.2 1503.9L269.7 1502.6L270.2 1502.9L270.8 1503.2L271.3 1503.6L271.8 1504.1L272.3 1503.3L272.8 1502.6L273.3 1502.5L273.8 1502.3L274.3 1502.6L274.8 1502.9L275.4 1503.6L275.9 1504.2L276.4 1504.6L276.9 1505.0L277.4 1504.8L277.9 1504.5L278.4 1504.7L278.9 1504.8L279.4 1504.3L280.0 1503.8L280.5 1503.8L281.0 1503.9L281.5 1505.3L282.0 1506.8L282.5 1506.0L283.0 1505.1L283.5 1505.2L284.0 1505.2L284.6 1506.0L285.1 1506.9L285.6 1507.2L286.1 1507.4L286.6 1507.5L287.1 1507.6L287.6 1507.0L288.1 1506.4L288.6 1506.1L289.1 1505.9L289.7 1506.2L290.2 1506.5L290.7 1506.5L291.2 1506.4L291.7 1507.4L292.2 1508.4L292.7 1507.6L293.2 1506.8L293.7 1507.1L294.3 1507.4L294.8 1507.0L295.3 1506.5L295.8 1507.6L296.3 1508.7L296.8 1506.2L297.3 1503.7L297.8 1505.5L298.3 1507.4L298.9 1507.7L299.4 1508.0L299.9 1506.5L300.4 1505.1L300.9 1507.5L301.4 1510.0L301.9 1508.2L302.4 1506.4L302.9 1506.3L303.5 1506.1L304.0 1505.3L304.5 1504.4L305.0 1505.6L305.5 1506.8L306.0 1506.0L306.5 1505.1L307.0 1504.0L307.5 1502.8L308.1 1502.8L308.6 1502.7L309.1 1502.3L309.6 1501.7L310.1 1501.1L310.6 1500.4L311.1 1498.5L311.6 1496.5L312.1 1494.2L312.7 1491.9L313.2 1490.7L313.7 1489.4L314.2 1486.5L314.7 1483.5L315.2 1483.0L315.7 1482.5L316.2 1482.0L316.7 1481.4L317.3 1479.5L317.8 1477.6L318.3 1475.4L318.8 1472.9L319.3 1470.1L319.8 1466.7L320.3 1463.9L320.8 1459.8L321.3 1451.9L321.9 1445.1L322.4 1442.5L322.9 1441.2L323.4 1439.2L323.9 1437.3L324.4 1436.3L324.7 1436.6L324.9 1437.5L325.4 1444.2L325.9 1453.4L326.5 1460.6L327.0 1468.5L327.5 1478.2L328.0 1486.7L328.5 1494.3L329.0 1500.3L329.5 1503.9L330.0 1506.4L330.5 1508.3L331.1 1509.5L331.6 1510.2L332.1 1510.6L332.6 1512.1L333.1 1513.6L333.6 1513.1L334.1 1512.5L334.6 1512.9L335.1 1513.3L335.7 1511.9L336.2 1510.6L336.7 1511.3L337.2 1511.9L337.7 1513.5L338.2 1515.1L338.7 1513.5L339.2 1511.8L339.7 1513.7L340.2 1515.6L340.8 1514.0L341.3 1512.4L341.8 1513.4L342.3 1514.4L342.8 1513.6L343.3 1512.8L343.8 1513.6L344.3 1514.4L344.8 1513.6L345.4 1512.8L345.9 1513.3L346.4 1513.9L346.9 1515.3L347.4 1516.8L347.9 1515.3L348.4 1513.8L348.9 1515.6L349.4 1517.5L350.0 1515.6L350.5 1513.8L351.0 1513.3L351.5 1512.7L352.0 1513.7L352.5 1514.7L353.0 1514.3L353.5 1514.0L354.0 1515.6L354.6 1517.3L355.1 1516.6L355.6 1516.0L356.1 1516.2L356.6 1516.5L357.1 1516.1L357.6 1515.7L358.1 1517.1L358.6 1518.5L359.2 1517.3L359.7 1516.0L360.2 1515.9L360.7 1515.7L361.2 1514.7L361.7 1513.7L362.2 1513.6L362.7 1513.6L363.2 1514.4L363.8 1515.3L364.3 1515.9L364.8 1516.5L365.3 1516.6L365.8 1516.7L366.3 1515.2L366.8 1513.7L367.3 1514.8L367.8 1515.9L368.4 1515.7L368.9 1515.4L369.4 1514.4L369.9 1513.5L370.4 1514.7L370.9 1515.9L371.4 1513.7L371.9 1511.4L372.4 1513.0L373.0 1514.5L373.5 1515.4L374.0 1516.0L374.5 1512.2L375.0 1508.2L375.5 1507.8L376.0 1507.6L376.5 1505.9L377.0 1504.7L377.6 1506.5L378.1 1508.6L378.6 1511.1L379.1 1513.4L379.6 1513.1L380.1 1512.5L380.6 1513.7L381.1 1514.7L381.6 1514.7L382.2 1514.5L382.7 1514.5L383.2 1514.5L383.7 1514.9L384.2 1515.4L384.7 1515.6L385.2 1515.8L385.7 1516.3L386.2 1516.9L386.8 1516.6L387.3 1516.2L387.8 1515.2L388.3 1514.1L388.8 1515.6L389.3 1517.0L389.8 1516.9L390.3 1516.7L390.8 1514.6L391.4 1512.4L391.7 1513.4L391.9 1514.0L392.4 1515.7L392.9 1515.9L393.4 1516.1L393.6 1516.2L393.9 1516.3L394.4 1516.4L394.9 1516.0L395.4 1515.6L395.9 1514.2L396.3 1513.3L396.5 1512.9L397.0 1515.1L397.5 1517.4L397.8 1517.0L398.0 1516.2L398.5 1513.0L399.0 1511.8L399.5 1511.3L399.8 1511.8L400.0 1512.7L400.5 1514.5L401.1 1513.8L401.6 1513.0L401.8 1513.1L402.1 1512.8L402.6 1511.2L403.1 1507.7L403.2 1506.6L403.6 1503.3L404.1 1497.9L404.2 1496.5L404.6 1492.3L405.1 1486.2L405.2 1484.8L405.7 1477.2L406.2 1465.7L406.3 1463.5L406.7 1449.7L406.9 1442.6L407.2 1432.8L407.7 1418.0L408.0 1410.5L408.2 1404.2L408.7 1390.3L409.2 1380.7L409.2 1379.6L409.7 1370.3L410.2 1362.8L410.3 1361.7L410.8 1356.0L411.3 1353.8L411.5 1353.3L411.7 1353.3L411.8 1353.5L412.3 1356.1L412.8 1360.6L413.0 1362.1L413.3 1368.7L413.8 1380.3L413.8 1382.2L414.3 1396.3L414.9 1411.2L414.9 1411.5L415.4 1425.3L415.9 1438.7L416.0 1440.8L416.4 1452.3L416.5 1454.5L416.9 1463.4L417.4 1471.9L417.5 1472.9L417.9 1480.4L418.4 1489.4L418.9 1495.6L419.0 1495.7L419.5 1497.5L420.0 1498.6L420.5 1500.8L420.5 1500.8L421.0 1502.3L421.5 1502.6L421.5 1502.6L422.0 1501.8L422.5 1499.4L423.0 1496.9L423.0 1496.5L423.5 1493.6L424.1 1489.7L424.5 1485.8L424.6 1485.0L425.1 1480.6L425.6 1477.3L425.9 1474.4L426.1 1472.4L426.6 1460.0L427.1 1444.5L427.5 1433.8L427.6 1429.4L428.1 1403.0L428.2 1399.8L428.7 1380.1L429.2 1359.2L429.7 1339.8L429.8 1336.1L430.2 1319.7L430.7 1298.3L431.0 1287.7L431.2 1277.2L431.3 1272.1L431.7 1257.8L432.2 1239.7L432.7 1220.2L432.9 1211.4L433.3 1194.0L433.8 1158.4L433.9 1147.5L434.3 1127.9L434.8 1102.6L435.2 1081.7L435.3 1076.5L435.8 1049.2L436.0 1038.0L436.3 1017.4L436.8 979.9L437.3 940.7L437.7 918.2L437.9 903.7L438.4 865.9L438.6 848.7L438.9 831.0L439.4 804.3L439.4 804.1L439.7 796.6L439.7 796.6L439.9 796.7L440.2 798.3L440.4 801.5L440.9 822.9L441.1 832.7L441.4 855.3L441.9 905.9L442.2 928.3L442.5 951.6L443.0 994.2L443.1 1007.8L443.5 1097.8L443.8 1181.2L444.0 1204.6L444.5 1264.4L444.9 1304.6L444.9 1308.0L445.0 1313.8L445.5 1357.7L445.7 1369.2L446.0 1401.1L446.3 1417.9L446.5 1432.9L446.8 1444.8L447.0 1452.9L447.6 1467.2L447.7 1470.4L448.1 1478.8L448.6 1489.3L449.0 1494.7L449.1 1495.4L449.6 1498.5L450.1 1502.0L450.5 1503.8L450.6 1504.3L451.1 1504.7L451.6 1504.8L452.2 1504.6L452.5 1504.3L452.7 1504.1L453.2 1503.9L453.7 1503.7L454.2 1505.0L454.7 1506.4L455.2 1505.8L455.7 1505.2L456.2 1506.0L456.8 1506.9L456.8 1506.9L457.3 1504.9L457.8 1503.0L458.3 1502.7L458.8 1502.5L459.3 1503.3L459.8 1504.1L460.3 1504.7L460.8 1505.4L461.4 1504.8L461.9 1504.2L462.1 1504.2L462.4 1504.2L462.9 1504.6L463.4 1506.6L463.9 1508.7L464.4 1507.7L464.8 1506.8L464.9 1506.4L465.4 1506.6L466.0 1506.8L466.5 1507.7L467.0 1508.7L467.5 1509.5L468.0 1510.2L468.5 1511.0L469.0 1511.6L469.2 1511.8L469.5 1512.1L470.0 1512.5L470.6 1511.8L471.1 1511.1L471.2 1511.3L471.6 1511.7L472.1 1512.1L472.6 1509.9L473.1 1507.5L473.6 1508.7L474.1 1509.8L474.2 1509.4L474.6 1506.0L475.2 1500.6L475.7 1497.5L476.2 1493.3L476.7 1485.3L476.8 1483.7L477.2 1475.6L477.7 1464.9L478.2 1451.4L478.6 1439.7L478.7 1434.2L479.2 1410.9L479.5 1398.6L479.8 1384.6L480.3 1354.4L480.4 1346.0L480.8 1318.2L481.3 1279.7L481.3 1279.6L481.8 1246.9L482.3 1213.6L482.3 1211.8L482.8 1169.1L483.3 1131.5L483.3 1129.4L483.8 1103.6L484.3 1090.7L484.4 1090.0L484.9 1083.8L485.4 1080.4L485.4 1080.4L485.6 1080.9L485.9 1082.2L486.3 1085.9L486.4 1088.0L486.9 1119.6L487.0 1129.6L487.4 1158.6L487.9 1203.7L488.0 1211.1L488.4 1239.1L489.0 1272.0L489.1 1280.7L489.5 1311.1L490.0 1347.5L490.0 1348.0L490.5 1378.3L490.9 1398.6L491.0 1404.7L491.5 1428.0L491.7 1438.1L492.0 1449.4L492.5 1468.2L492.7 1474.4L493.0 1481.9L493.6 1493.1L494.1 1499.3L494.3 1501.4L494.6 1502.5L495.1 1505.1L495.6 1507.2L496.1 1509.9L496.6 1511.8L497.1 1512.4L497.1 1512.4L497.6 1512.3L498.1 1512.3L498.7 1512.2L499.2 1513.4L499.7 1514.5L500.2 1513.9L500.7 1513.3L501.2 1512.0L501.7 1510.7L502.1 1511.1L502.2 1511.3L502.7 1511.8L503.3 1511.2L503.8 1510.6L504.3 1510.3L504.8 1510.1L505.3 1509.6L505.8 1509.2L506.3 1511.5L506.6 1512.5L506.8 1513.8L507.3 1512.1L507.6 1511.2L507.9 1510.4L508.4 1510.9L508.9 1511.5L509.4 1511.5L509.9 1511.6L510.4 1510.5L510.9 1509.4L511.4 1509.9L511.9 1510.4L511.9 1510.4L512.5 1510.2L513.0 1509.8L513.5 1509.2L514.0 1508.5L514.5 1509.6L515.0 1511.3L515.5 1510.9L515.5 1510.8L516.0 1510.2L516.5 1510.4L517.1 1510.5L517.6 1511.9L518.1 1513.7L518.6 1516.4L518.7 1516.8L519.1 1518.6L519.6 1519.4L520.1 1520.1L520.6 1520.2L521.1 1520.1L521.7 1520.6L522.2 1520.8L522.7 1521.1L523.2 1521.3L523.7 1521.7L524.2 1522.0L524.7 1522.9L525.2 1523.7L525.7 1524.1L526.3 1524.5L526.8 1522.2L527.3 1519.9L527.8 1521.6L528.3 1523.3L528.8 1522.6L529.3 1521.8L529.8 1523.2L530.3 1524.5L530.9 1524.7L531.4 1524.9L531.9 1523.7L532.4 1522.4L532.9 1522.7L533.4 1523.0L533.9 1522.6L534.4 1522.3L534.9 1523.3L535.5 1524.3L536.0 1522.9L536.5 1521.4L537.0 1521.8L537.5 1522.1L538.0 1522.5L538.5 1522.8L539.0 1524.3L539.5 1525.7L540.1 1526.6L540.6 1527.5L541.1 1525.7L541.6 1523.9L542.1 1523.0L542.6 1522.1L543.1 1523.0L543.6 1524.0L544.1 1523.3L544.6 1522.6L545.2 1523.6L545.7 1524.6L546.2 1523.4L546.7 1522.2L547.2 1522.7L547.7 1523.3L548.2 1523.5L548.7 1523.8L549.2 1524.1L549.8 1524.5L550.3 1524.0L550.8 1523.5L551.3 1524.5L551.8 1525.5L552.3 1524.5L552.8 1523.6L553.3 1522.1L553.8 1520.6L554.4 1522.5L554.9 1524.5L555.4 1523.5L555.9 1522.5L556.4 1522.1L556.9 1521.6L557.4 1523.1L557.9 1524.6L558.4 1522.5L559.0 1520.4L559.5 1520.9L560.0 1521.4L560.5 1520.4L561.0 1519.3L561.5 1520.1L562.0 1520.7L562.5 1518.0L563.0 1514.9L563.6 1512.7L564.1 1509.5L564.6 1503.3L565.1 1495.3L565.6 1488.5L566.1 1479.1L566.6 1462.6L567.1 1442.7L567.6 1422.5L568.2 1398.6L568.7 1370.0L569.2 1338.4L569.7 1304.7L570.2 1270.3L570.7 1236.8L571.2 1205.8L571.7 1176.3L572.2 1152.9L572.8 1140.6L573.3 1137.1L573.8 1141.3L574.3 1154.3L574.8 1175.3L575.3 1202.4L575.8 1233.9L576.3 1267.7L576.8 1300.8L577.4 1332.7L577.9 1362.2L578.4 1388.3L578.9 1411.4L579.4 1429.8L579.9 1443.9L580.4 1452.9L580.9 1453.5L581.4 1449.2L582.0 1443.0L582.5 1432.3L583.0 1415.7L583.5 1395.5L584.0 1374.6L584.5 1351.6L585.0 1324.0L585.5 1296.6L586.0 1274.0L586.6 1254.5L587.1 1238.9L587.6 1229.1L588.1 1226.0L588.6 1229.9L589.1 1242.1L589.6 1260.2L590.1 1280.6L590.6 1304.3L591.2 1328.6L591.7 1353.3L592.2 1381.8L592.7 1408.6L593.2 1428.4L593.7 1445.4L594.2 1461.7L594.7 1475.1L595.2 1486.7L595.8 1496.0L596.3 1504.2L596.8 1510.7L597.3 1514.9L597.8 1518.0L598.3 1518.0L598.8 1517.5L599.3 1520.6L599.8 1523.4L600.3 1523.5L600.9 1523.4L601.4 1524.5L601.9 1525.5L602.4 1524.9L602.9 1524.2L603.4 1525.4L603.9 1526.5L604.4 1526.3L604.9 1526.2L605.5 1525.0L606.0 1523.8L606.5 1525.8L607.0 1527.9L607.5 1527.0L608.0 1526.2L608.5 1526.6L609.0 1527.1L609.5 1527.5L610.1 1527.9L610.6 1526.3L611.1 1524.7L611.6 1525.4L612.1 1526.0L612.6 1525.5L613.1 1525.0L613.6 1524.9L614.1 1524.8L614.7 1525.8L615.2 1526.7L615.7 1526.7L616.2 1526.8L616.7 1527.6L617.2 1528.3L617.7 1528.3L618.2 1528.4L618.7 1527.3L619.3 1526.3L619.8 1525.7L620.3 1525.0L620.8 1528.1L621.3 1531.1L621.8 1530.3L622.3 1529.5L622.8 1527.8L623.3 1526.1L623.9 1525.4L624.4 1524.8L624.9 1525.2L625.4 1525.5L625.9 1526.0L626.4 1526.5L626.9 1527.1L627.4 1527.8L627.9 1527.6L628.5 1527.5L629.0 1527.0L629.5 1526.6L630.0 1526.0L630.5 1525.5L631.0 1525.8L631.5 1526.0L632.0 1525.6L632.5 1525.2L633.1 1525.4L633.6 1525.7L634.1 1525.5L634.6 1525.3L635.1 1525.8L635.6 1526.2L636.1 1524.4L636.6 1522.5L637.1 1523.6L637.7 1524.7L638.2 1524.7L638.7 1524.6L639.2 1523.7L639.7 1522.7L640.2 1522.9L640.7 1522.7L641.2 1520.6L641.7 1517.6L642.3 1514.4L642.8 1509.5L643.3 1502.6L643.8 1493.7L644.3 1482.3L644.8 1469.4L645.3 1455.3L645.8 1441.8L646.3 1431.8L646.9 1425.5L647.4 1422.0L647.9 1423.8L648.4 1431.2L648.9 1442.1L649.4 1454.7L649.9 1467.5L650.4 1478.5L650.9 1487.3L651.4 1493.6L652.0 1496.8L652.5 1498.1L653.0 1496.2L653.5 1489.2L654.0 1479.6L654.5 1467.8L655.0 1454.4L655.5 1441.1L656.0 1427.9L656.6 1418.0L657.1 1410.5L657.6 1403.7L658.1 1400.9L658.6 1403.6L659.1 1410.4L659.6 1419.6L660.1 1431.1L660.6 1444.3L661.2 1457.9L661.7 1470.9L662.2 1482.8L662.7 1492.2L663.2 1499.8L663.7 1507.5L664.2 1513.6L664.7 1518.2L665.2 1521.6L665.8 1523.3L666.3 1524.3L666.8 1523.2L667.3 1521.8L667.8 1522.2L668.3 1522.4L668.8 1521.8L669.3 1520.8L669.8 1520.0L670.4 1518.2L670.9 1515.2L671.4 1510.7L671.9 1503.0L672.4 1493.4L672.9 1480.5L673.4 1466.0L673.9 1453.3L674.4 1440.3L675.0 1427.7L675.5 1417.4L676.0 1409.2L676.5 1405.8L677.0 1410.2L677.5 1419.2L678.0 1428.3L678.5 1439.7L679.0 1455.5L679.6 1471.1L680.1 1485.1L680.6 1497.4L681.1 1504.0L681.6 1508.7L682.1 1514.9L682.6 1519.6L683.1 1523.1L683.6 1525.6L684.2 1528.8L684.7 1531.6L685.2 1528.3L685.7 1524.9L686.2 1527.0L686.7 1528.9L687.2 1528.9L687.7 1528.8L688.2 1528.4L688.8 1527.9L689.3 1527.7L689.8 1527.4L690.3 1527.7L690.8 1528.0L691.3 1528.2L691.8 1528.5L692.3 1527.8L692.8 1527.1L693.4 1529.3L693.9 1531.4L694.4 1529.4L694.9 1527.5L695.4 1528.0L695.9 1528.5L696.4 1528.4L696.9 1528.2L697.4 1528.4L697.9 1528.6L698.5 1529.0L699.0 1529.4L699.5 1528.8L700.0 1528.2L700.5 1528.6L701.0 1529.0L701.5 1530.5L702.0 1532.0L702.5 1531.5L703.1 1531.0L703.6 1530.0L704.1 1529.0L704.6 1529.9L705.1 1530.8L705.6 1529.5L706.1 1528.3L706.6 1529.0L707.1 1529.7L707.7 1528.5L708.2 1527.2L708.7 1527.4L709.2 1527.6L709.7 1527.8L710.2 1528.0L710.7 1529.6L711.2 1531.1L711.7 1530.4L712.3 1529.6L712.8 1529.8L713.3 1530.0L713.8 1529.7L714.3 1529.3L714.8 1529.5L715.3 1529.6L715.8 1529.5L716.3 1529.5L716.9 1529.5L717.4 1529.5L717.9 1528.6L718.4 1527.4L718.9 1525.5L719.4 1523.0L719.9 1520.7L720.4 1517.4L720.9 1514.3L721.5 1509.9L722.0 1502.7L722.5 1494.2L723.0 1483.8L723.5 1472.8L724.0 1460.9L724.5 1449.9L725.0 1444.7L725.5 1442.1L726.1 1439.4L726.6 1440.2L727.1 1445.0L727.6 1452.3L728.1 1461.8L728.6 1472.1L729.1 1482.2L729.6 1491.7L730.1 1501.9L730.7 1510.9L731.2 1516.8L731.7 1521.3L732.2 1522.6L732.7 1523.0L733.2 1525.3L733.7 1527.1L734.2 1528.2L734.7 1529.0L735.3 1530.0L735.8 1530.8L736.3 1528.1L736.8 1525.3L737.3 1527.7L737.8 1530.1L738.3 1530.4L738.8 1530.7L739.3 1528.7L739.9 1526.6L740.4 1525.9L740.9 1524.8L741.4 1523.9L741.9 1522.2L742.4 1517.8L742.9 1511.9L743.4 1503.6L743.9 1493.1L744.5 1481.4L745.0 1466.8L745.5 1449.1L746.0 1428.5L746.5 1404.8L747.0 1379.0L747.5 1353.4L748.0 1327.9L748.5 1302.4L749.0 1280.1L749.6 1263.4L750.1 1252.8L750.6 1249.5L751.1 1253.8L751.6 1265.7L752.1 1283.7L752.6 1304.4L753.1 1328.3L753.6 1353.4L754.2 1378.5L754.7 1406.5L755.2 1432.4L755.7 1452.0L756.2 1468.6L756.7 1484.3L757.2 1497.2L757.7 1505.2L758.2 1511.1L758.8 1516.9L759.3 1521.3L759.8 1523.7L760.3 1525.3L760.8 1526.7L761.3 1527.7L761.8 1529.4L762.3 1530.8L762.8 1529.8L763.4 1528.6L763.9 1529.4L764.4 1530.2L764.9 1530.5L765.4 1530.6L765.9 1530.3L766.4 1530.0L766.9 1528.7L767.4 1527.4L768.0 1529.5L768.5 1531.4L769.0 1529.1L769.5 1526.8L770.0 1527.8L770.5 1528.9L771.0 1529.7L771.5 1530.5L772.0 1531.2L772.6 1531.9L773.1 1532.2L773.6 1532.6L774.1 1532.6L774.6 1532.6L775.1 1532.4L775.6 1532.2L776.1 1531.5L776.6 1530.8L777.2 1531.9L777.7 1533.1L778.2 1532.0L778.7 1530.8L779.2 1531.9L779.7 1532.9L780.2 1530.3L780.7 1527.7L781.2 1528.7L781.8 1529.6L782.3 1529.8L782.8 1530.0L783.3 1530.4L783.8 1530.7L784.3 1528.8L784.8 1526.9L785.3 1529.2L785.8 1531.4L786.4 1531.4L786.9 1531.2L787.4 1530.7L787.9 1529.9L788.4 1528.2L788.9 1526.1L789.4 1525.9L789.9 1525.2L790.4 1520.6L791.0 1514.9L791.5 1510.6L792.0 1504.7L792.5 1495.3L793.0 1484.2L793.5 1472.0L794.0 1458.2L794.5 1443.1L795.0 1427.4L795.6 1411.8L796.1 1397.2L796.6 1385.1L797.1 1375.9L797.6 1369.6L798.1 1367.6L798.6 1369.8L799.1 1376.2L799.6 1385.9L800.1 1398.4L800.7 1412.9L801.2 1428.3L801.7 1443.8L802.2 1458.6L802.7 1473.3L803.2 1486.4L803.7 1495.1L804.2 1502.1L804.7 1508.8L805.3 1514.0L805.8 1518.6L806.3 1522.1L806.8 1523.0L807.3 1523.2L807.8 1525.3L808.3 1527.2L808.8 1527.9L809.3 1528.4L809.9 1527.8L810.4 1526.9L810.9 1526.9L811.4 1526.4L811.9 1526.1L812.4 1525.2L812.9 1521.8L813.4 1517.4L813.9 1512.7L814.5 1506.6L815.0 1499.6L815.5 1491.1L816.0 1479.1L816.5 1466.0L817.0 1452.9L817.5 1439.5L818.0 1427.7L818.5 1417.0L819.1 1407.9L819.6 1401.4L820.1 1396.3L820.3 1395.1L820.6 1394.9L821.1 1400.7L821.6 1409.8L822.1 1419.1L822.6 1430.4L823.1 1443.4L823.7 1456.8L824.2 1469.7L824.7 1481.8L825.2 1493.5L825.7 1503.8L826.2 1512.9L826.7 1520.6L827.2 1525.7L827.7 1529.6L828.3 1533.1L828.8 1535.7L829.3 1536.7L829.8 1537.2L830.3 1539.7L830.8 1541.9L831.3 1542.3L831.8 1542.6L832.3 1542.0L832.9 1541.5L833.4 1539.9L833.9 1538.2L834.4 1540.6L834.9 1542.9L835.4 1545.2L835.9 1547.5L836.4 1545.7L836.9 1543.8L837.5 1543.4L838.0 1542.9L838.5 1545.2L839.0 1547.3L839.5 1545.6L840.0 1543.9L840.5 1544.7L841.0 1545.6L841.5 1545.8L842.1 1546.0L842.6 1544.3L843.1 1542.7L843.6 1543.9L844.1 1545.0L844.6 1545.8L845.1 1546.6L845.6 1545.5L846.1 1544.3L846.7 1545.0L847.2 1545.7L847.7 1545.1L848.2 1544.5L848.7 1545.1L849.2 1545.7L849.7 1546.0L850.2 1546.1L850.7 1543.2L851.2 1539.9L851.8 1539.1L852.3 1537.8L852.8 1535.6L853.3 1532.8L853.8 1527.7L854.3 1521.8L854.8 1515.6L855.3 1508.5L855.8 1501.5L856.4 1494.1L856.9 1486.6L857.4 1479.7L857.9 1473.6L858.4 1469.0L858.9 1467.5L859.2 1467.6L859.4 1468.3L859.9 1470.9L860.4 1475.5L861.0 1481.3L861.5 1488.3L862.0 1495.8L862.5 1503.5L863.0 1511.4L863.5 1518.6L864.0 1522.8L864.5 1526.1L865.0 1531.3L865.6 1535.7L866.1 1538.6L866.6 1540.8L867.1 1542.5L867.6 1543.8L868.1 1542.9L868.6 1541.8L869.1 1544.8L869.6 1547.7L870.2 1545.7L870.7 1543.8L871.2 1544.7L871.7 1545.6L872.2 1546.0L872.7 1546.3L873.2 1546.5L873.7 1546.7L874.2 1545.3L874.8 1543.9L875.3 1543.9L875.8 1543.9L876.3 1544.4L876.8 1544.9L877.3 1544.9L877.8 1544.9L878.3 1545.0L878.8 1545.1L879.4 1544.3L879.9 1543.5L880.4 1543.0L880.6 1542.8L880.9 1542.6L881.4 1542.2L881.9 1541.8L882.4 1544.3L882.9 1546.7L883.4 1544.6L884.0 1542.5L884.5 1544.3L885.0 1546.0L885.5 1545.9L886.0 1545.8L886.5 1546.3L887.0 1546.9L887.5 1547.2L888.0 1547.4L888.6 1547.8L889.1 1548.2L889.6 1547.2L890.1 1546.2L890.6 1546.6L891.1 1547.0L891.6 1545.3L892.1 1543.6L892.6 1545.1L893.2 1546.6L893.7 1545.9L894.2 1545.2L894.7 1545.8L895.2 1546.4L895.7 1547.4L896.2 1548.5L896.7 1547.7L897.2 1546.8L897.8 1547.6L898.3 1548.3L898.8 1547.4L899.3 1546.4L899.8 1546.9L900.3 1547.4L900.8 1546.8L901.3 1546.2L901.8 1544.6L902.4 1543.0L902.9 1544.4L903.4 1545.8L903.9 1546.1L904.4 1546.5L904.9 1546.8L905.4 1547.1L905.9 1547.0L906.4 1546.9L906.9 1546.8L907.5 1546.8L908.0 1547.6L908.5 1548.4L909.0 1548.2L909.5 1547.9L910.0 1547.2L910.5 1546.4L911.0 1547.4L911.5 1548.3L912.1 1546.2L912.6 1544.1L913.1 1545.4L913.6 1546.6L914.1 1546.7L914.6 1546.9L915.1 1547.9L915.6 1549.0L916.1 1547.6L916.7 1546.2L917.2 1545.5L917.7 1544.8L918.2 1546.0L918.7 1547.3L919.2 1548.4L919.7 1549.5L920.2 1548.1L920.7 1546.6L921.3 1546.7L921.8 1546.7L922.3 1546.6L922.8 1546.5L923.3 1546.7L923.8 1546.9L924.3 1547.8L924.8 1548.7L925.3 1549.2L925.9 1549.6L926.4 1548.5L926.9 1547.3L927.4 1546.8L927.9 1546.4L928.4 1547.8L928.9 1549.2L929.4 1547.9L929.9 1546.5L930.5 1546.4L931.0 1546.3L931.5 1545.9L932.0 1545.5L932.5 1545.5L933.0 1545.4L933.5 1545.7L934.0 1546.0L934.5 1545.4L935.1 1544.8L935.6 1545.0L936.1 1545.1L936.6 1544.2L937.1 1543.1L937.6 1542.2L938.1 1540.8L938.6 1537.7L939.1 1533.7L939.7 1529.4L940.2 1523.9L940.7 1517.0L941.2 1508.6L941.7 1498.0L942.2 1485.9L942.7 1472.7L943.2 1458.5L943.7 1444.8L944.3 1431.6L944.8 1417.1L945.3 1404.7L945.8 1396.3L946.3 1391.6L946.6 1392.1L946.8 1393.6L947.3 1399.7L947.8 1406.6L948.3 1416.6L948.9 1430.6L949.4 1445.8L949.9 1459.2L950.4 1472.3L950.9 1484.8L951.4 1495.9L951.9 1508.9L952.4 1520.2L952.9 1526.0L953.4 1530.3L954.0 1534.0L954.5 1536.7L955.0 1538.9L955.5 1540.4L956.0 1542.6L956.5 1544.5L957.0 1544.1L957.5 1543.6L958.0 1544.7L958.6 1545.7L959.1 1546.5L959.6 1547.2L960.1 1545.4L960.6 1543.6L961.1 1544.4L961.6 1545.3L962.1 1545.9L962.6 1546.6L963.2 1547.6L963.7 1548.5L964.2 1548.0L964.7 1547.5L965.2 1546.4L965.7 1545.4L966.2 1546.9L966.7 1548.4L967.2 1547.0L967.8 1545.7L968.3 1545.8L968.8 1546.0L969.3 1546.4L969.8 1546.8L970.3 1545.8L970.8 1544.7L971.3 1547.8L971.8 1550.9L972.4 1549.5L972.9 1548.1L973.4 1547.4L973.9 1546.7L974.4 1546.1L974.9 1545.5L975.4 1545.0L975.9 1544.6L976.4 1545.7L977.0 1546.9L977.5 1547.1L978.0 1547.4L978.5 1546.5L979.0 1545.7L979.5 1545.8L980.0 1546.0L980.5 1546.5L981.0 1547.1L981.6 1546.6L982.1 1546.1L982.6 1544.7L983.1 1543.3L983.6 1545.2L984.1 1547.0L984.6 1546.7L985.1 1546.3L985.6 1546.6L986.2 1546.9L986.7 1545.7L987.2 1544.4L987.7 1543.2L988.2 1542.0L988.7 1542.3L989.2 1542.5L989.7 1542.9L990.2 1543.1L990.8 1543.1L991.3 1542.5L991.8 1540.2L992.3 1537.1L992.8 1531.3L993.3 1524.5L993.8 1516.8L994.3 1508.0L994.8 1500.4L995.4 1492.1L995.9 1483.1L996.4 1474.1L996.9 1465.0L997.4 1457.2L997.9 1450.7L998.4 1446.5L998.9 1446.1L999.4 1448.4L1000.0 1450.7L1000.5 1455.2L1001.0 1462.1L1001.5 1470.2L1002.0 1480.7L1002.5 1491.3L1003.0 1500.2L1003.5 1508.5L1004.0 1518.5L1004.5 1527.4" fill="none" stroke="#000000" stroke-width="3.0" stroke-linejoin="round"/>
<path d="M110.3 1492.5L110.8 1491.6L111.3 1490.7L111.8 1492.2L112.3 1493.7L112.9 1494.0L113.4 1494.3L113.9 1493.6L114.4 1492.9L114.9 1493.0L115.4 1493.1L115.9 1493.7L116.4 1494.3L116.9 1493.9L117.5 1493.5L118.0 1492.6L118.5 1491.7L119.0 1492.7L119.5 1493.6L120.0 1493.9L120.5 1494.1L121.0 1493.7L121.5 1493.2L122.1 1493.6L122.6 1494.0L123.1 1493.8L123.6 1493.5L124.1 1492.9L124.6 1492.3L125.1 1492.3L125.6 1492.4L126.1 1493.0L126.7 1493.5L127.2 1492.6L127.7 1491.7L128.2 1493.0L128.7 1494.3L129.2 1494.3L129.7 1494.3L130.2 1491.9L130.7 1489.4L131.3 1490.9L131.8 1492.3L132.3 1491.8L132.8 1491.2L133.3 1491.3L133.8 1491.4L134.3 1491.9L134.8 1492.5L135.3 1492.2L135.8 1491.9L136.4 1492.4L136.9 1492.8L137.4 1492.5L137.9 1492.2L138.4 1492.2L138.9 1492.1L139.4 1491.1L139.9 1490.1L140.4 1490.3L141.0 1490.4L141.5 1491.6L142.0 1492.7L142.5 1489.5L143.0 1486.1L143.5 1488.7L144.0 1491.1L144.5 1488.1L145.0 1484.6L145.6 1483.3L146.1 1480.7L146.6 1472.3L147.1 1462.0L147.6 1453.7L148.1 1442.8L148.6 1428.6L149.1 1412.2L149.6 1392.6L150.2 1372.5L150.7 1354.5L151.2 1338.9L151.7 1325.4L152.2 1317.5L152.5 1316.8L152.7 1317.7L153.2 1324.3L153.7 1336.2L154.2 1352.3L154.8 1371.8L155.3 1392.1L155.8 1411.0L156.3 1428.3L156.8 1442.9L157.3 1454.8L157.8 1464.6L158.3 1471.9L158.8 1477.3L159.4 1481.1L159.9 1483.9L160.4 1485.9L160.9 1486.3L161.4 1486.2L161.9 1487.3L162.4 1488.3L162.9 1488.4L163.4 1488.5L164.0 1488.3L164.5 1488.0L165.0 1488.1L165.5 1488.1L166.0 1489.7L166.5 1491.2L167.0 1489.7L167.5 1488.1L168.0 1488.9L168.6 1489.7L169.1 1490.4L169.6 1491.0L170.1 1490.4L170.6 1489.9L171.1 1489.2L171.6 1488.6L172.1 1489.2L172.6 1489.8L173.2 1487.9L173.7 1485.9L174.2 1486.0L174.7 1486.0L175.2 1486.5L175.7 1487.0L176.2 1487.0L176.7 1487.0L177.2 1487.0L177.8 1487.0L178.3 1488.3L178.8 1489.7L179.3 1489.4L179.8 1489.1L180.3 1487.7L180.8 1486.3L181.3 1486.3L181.8 1486.4L182.4 1485.4L182.9 1484.4L183.4 1485.2L183.9 1486.0L184.4 1484.6L184.9 1483.2L185.4 1485.1L185.9 1487.1L186.4 1485.5L186.9 1483.9L187.5 1484.6L188.0 1485.2L188.5 1483.7L189.0 1482.1L189.5 1484.0L190.0 1485.9L190.5 1485.2L191.0 1484.4L191.5 1485.3L192.1 1486.2L192.6 1484.6L193.1 1483.0L193.6 1481.6L194.1 1480.2L194.6 1480.7L195.1 1481.2L195.6 1480.7L196.1 1480.2L196.7 1482.2L197.2 1484.1L197.7 1482.3L198.2 1480.5L198.7 1480.2L199.2 1480.0L199.7 1480.8L200.2 1481.6L200.7 1481.2L201.3 1480.8L201.8 1480.8L202.3 1480.7L202.8 1479.8L203.3 1478.8L203.8 1477.5L204.3 1476.1L204.8 1476.4L205.3 1476.7L205.9 1475.9L206.4 1475.1L206.9 1477.6L207.4 1479.9L207.9 1479.4L208.4 1478.7L208.9 1477.2L209.4 1475.6L209.9 1475.2L210.5 1474.3L211.0 1471.8L211.5 1468.0L212.0 1462.3L212.5 1454.1L213.0 1442.7L213.5 1427.2L214.0 1407.7L214.5 1383.5L215.1 1354.0L215.6 1321.0L216.1 1284.8L216.6 1248.8L217.1 1217.1L217.6 1191.3L218.1 1177.7L218.6 1174.9L219.1 1180.2L219.7 1196.3L220.2 1219.4L220.7 1248.3L221.2 1284.5L221.7 1321.0L222.2 1352.6L222.7 1380.7L223.2 1405.4L223.7 1425.4L224.3 1439.1L224.8 1448.9L225.3 1459.6L225.8 1467.7L226.3 1470.8L226.8 1472.5L227.3 1474.7L227.8 1476.2L228.3 1476.8L228.9 1476.9L229.4 1476.5L229.9 1475.6L230.4 1474.0L230.9 1471.6L231.4 1466.6L231.9 1460.2L232.4 1453.1L232.9 1444.3L233.5 1433.3L234.0 1421.1L234.5 1409.6L235.0 1398.1L235.5 1386.3L236.0 1376.6L236.5 1370.0L237.0 1367.2L237.5 1371.2L238.1 1379.1L238.6 1387.9L239.1 1399.0L239.6 1408.9L240.1 1418.8L240.6 1431.2L241.1 1442.4L241.6 1452.5L242.1 1460.9L242.6 1465.7L243.2 1469.0L243.7 1473.9L244.2 1478.0L244.7 1478.6L245.2 1478.8L245.7 1479.7L246.2 1480.4L246.7 1481.0L247.2 1481.5L247.8 1481.9L248.3 1482.4L248.8 1481.2L249.3 1480.1L249.8 1480.9L250.3 1481.7L250.8 1481.4L251.3 1481.2L251.8 1481.7L252.4 1482.2L252.9 1482.0L253.4 1481.9L253.9 1482.7L254.4 1483.4L254.9 1482.8L255.4 1482.3L255.9 1481.6L256.4 1480.9L257.0 1481.5L257.5 1482.0L258.0 1481.1L258.5 1480.3L259.0 1481.5L259.5 1482.6L260.0 1483.6L260.5 1484.6L261.0 1483.1L261.6 1481.6L262.1 1480.9L262.6 1480.1L263.1 1481.4L263.6 1482.7L264.1 1482.4L264.6 1482.2L265.1 1482.6L265.6 1483.1L266.2 1482.7L266.7 1482.3L267.2 1482.9L267.7 1483.5L268.2 1482.7L268.7 1482.0L269.2 1484.0L269.7 1486.0L270.2 1484.7L270.8 1483.5L271.3 1484.1L271.8 1484.7L272.3 1485.0L272.8 1485.2L273.3 1484.6L273.8 1484.0L274.3 1484.5L274.8 1485.0L275.4 1484.6L275.9 1484.1L276.4 1484.0L276.9 1483.9L277.4 1484.1L277.9 1484.4L278.4 1484.9L278.9 1485.5L279.4 1484.2L280.0 1483.0L280.5 1483.3L281.0 1483.6L281.5 1483.7L282.0 1483.8L282.5 1484.1L283.0 1484.3L283.5 1485.6L284.0 1487.0L284.6 1486.1L285.1 1485.3L285.6 1485.1L286.1 1484.9L286.6 1485.3L287.1 1485.7L287.6 1486.4L288.1 1487.1L288.6 1485.8L289.1 1484.5L289.7 1485.9L290.2 1487.2L290.7 1484.7L291.2 1482.3L291.7 1483.4L292.2 1484.5L292.7 1486.3L293.2 1488.1L293.7 1488.2L294.3 1488.3L294.8 1487.3L295.3 1486.3L295.8 1485.9L296.3 1485.4L296.8 1486.4L297.3 1487.3L297.8 1486.4L298.3 1485.4L298.9 1486.9L299.4 1488.3L299.9 1488.0L300.4 1487.6L300.9 1487.2L301.4 1486.8L301.9 1485.5L302.4 1484.1L302.9 1485.2L303.5 1486.4L304.0 1485.2L304.5 1483.9L305.0 1483.6L305.5 1483.2L306.0 1482.6L306.5 1481.9L307.0 1481.6L307.5 1481.2L308.1 1480.9L308.6 1480.6L309.1 1480.0L309.6 1479.3L310.1 1478.3L310.6 1477.2L311.1 1478.0L311.6 1478.8L312.1 1474.7L312.7 1470.6L313.2 1470.5L313.7 1470.3L314.2 1467.6L314.7 1464.9L315.2 1463.9L315.7 1462.9L316.2 1460.9L316.7 1458.8L317.3 1459.1L317.8 1459.1L318.3 1456.2L318.8 1452.6L319.3 1448.8L319.8 1444.0L320.3 1438.2L320.5 1436.0L320.8 1434.3L321.3 1438.7L321.9 1443.8L322.4 1444.2L322.9 1443.4L323.0 1443.6L323.4 1445.6L323.9 1449.9L324.4 1457.0L324.9 1465.0L325.4 1469.5L325.9 1473.5L326.5 1478.1L327.0 1481.5L327.5 1484.0L328.0 1485.6L328.5 1488.1L329.0 1490.3L329.5 1490.2L330.0 1489.9L330.5 1489.5L331.1 1489.0L331.6 1489.1L332.1 1489.1L332.6 1489.9L333.1 1490.6L333.6 1489.9L334.1 1489.3L334.6 1491.7L335.1 1494.1L335.7 1492.4L336.2 1490.8L336.7 1490.9L337.2 1491.0L337.7 1491.1L338.2 1491.2L338.7 1490.0L339.2 1488.8L339.7 1489.1L340.2 1489.5L340.8 1490.3L341.3 1491.2L341.8 1491.5L342.3 1491.8L342.8 1490.9L343.3 1490.0L343.8 1492.3L344.3 1494.5L344.8 1493.6L345.4 1492.7L345.9 1493.4L346.4 1494.0L346.9 1494.0L347.4 1493.9L347.9 1492.9L348.4 1491.9L348.9 1493.9L349.4 1495.9L350.0 1494.2L350.5 1492.5L351.0 1491.0L351.5 1489.5L352.0 1489.2L352.5 1488.9L353.0 1490.7L353.5 1492.5L354.0 1493.2L354.6 1493.9L355.1 1493.3L355.6 1492.7L356.1 1494.0L356.6 1495.3L357.1 1493.8L357.6 1492.3L358.1 1493.0L358.6 1493.7L359.2 1493.8L359.7 1494.0L360.2 1492.7L360.7 1491.4L361.2 1492.4L361.7 1493.4L362.2 1493.5L362.7 1493.6L363.2 1494.1L363.8 1494.7L364.3 1494.8L364.8 1494.9L365.3 1494.8L365.8 1494.7L366.3 1493.4L366.8 1492.1L367.3 1493.2L367.8 1494.4L368.4 1494.6L368.9 1494.9L369.4 1494.2L369.9 1493.4L370.4 1494.0L370.9 1494.5L371.4 1494.7L371.9 1494.8L372.4 1495.3L373.0 1495.7L373.5 1495.0L374.0 1494.3L374.5 1494.8L375.0 1495.2L375.5 1495.1L376.0 1495.1L376.5 1495.1L377.0 1495.1L377.6 1494.7L378.1 1494.4L378.6 1494.7L379.1 1495.0L379.6 1494.6L380.1 1494.1L380.6 1494.9L381.1 1495.8L381.6 1496.5L382.2 1497.3L382.7 1497.4L383.2 1497.5L383.7 1497.7L384.2 1497.9L384.7 1497.4L385.2 1496.8L385.7 1498.1L386.2 1499.3L386.8 1498.1L387.3 1496.8L387.8 1497.8L388.3 1498.8L388.8 1498.7L389.3 1498.5L389.8 1497.7L390.3 1496.9L390.8 1497.0L391.4 1497.2L391.7 1497.8L391.9 1498.2L392.4 1499.2L392.9 1498.6L393.4 1498.0L393.9 1498.0L394.4 1498.1L394.9 1500.0L395.4 1501.9L395.9 1499.9L396.3 1498.6L396.5 1497.9L397.0 1497.4L397.5 1496.8L398.0 1497.0L398.3 1497.0L398.5 1497.0L399.0 1495.3L399.5 1493.4L400.0 1492.6L400.3 1492.2L400.5 1491.7L401.1 1490.6L401.6 1488.9L401.8 1487.6L402.1 1484.7L402.6 1478.2L402.8 1476.4L403.1 1471.5L403.6 1462.1L403.9 1457.1L404.1 1451.1L404.5 1442.6L404.6 1439.6L404.7 1437.4L405.1 1428.0L405.7 1414.8L405.8 1411.8L405.8 1410.7L406.2 1397.2L406.7 1378.6L406.9 1374.6L407.2 1370.2L407.7 1365.1L407.9 1362.4L408.2 1356.8L408.7 1348.4L409.2 1344.0L409.5 1343.4L409.5 1343.4L409.7 1344.1L410.3 1346.8L410.8 1352.2L411.0 1355.1L411.3 1361.1L411.8 1376.6L412.0 1383.4L412.3 1401.1L412.3 1401.2L412.8 1414.9L412.9 1416.2L413.3 1424.9L413.5 1428.4L413.8 1436.4L414.1 1442.7L414.3 1451.2L414.7 1460.5L414.9 1463.8L415.4 1470.7L415.9 1475.2L416.0 1476.1L416.4 1479.0L416.9 1482.3L417.4 1485.7L417.9 1487.8L418.0 1487.8L418.4 1488.0L418.9 1488.2L419.5 1488.2L420.0 1488.2L420.5 1487.2L420.5 1487.2L421.0 1485.4L421.5 1483.4L422.0 1480.8L422.5 1477.1L422.5 1476.8L423.0 1472.0L423.5 1468.8L423.5 1468.2L424.1 1461.6L424.6 1452.5L424.7 1450.0L425.1 1446.4L425.6 1441.2L425.7 1439.3L426.1 1428.8L426.6 1406.0L426.7 1401.4L427.1 1381.4L427.6 1357.9L428.1 1338.7L428.1 1336.3L428.7 1314.9L429.2 1294.7L429.7 1277.4L429.7 1277.0L429.8 1271.2L430.2 1259.3L430.7 1240.9L431.2 1222.9L431.5 1212.0L431.7 1205.9L432.2 1190.1L432.7 1172.2L433.1 1158.4L433.3 1152.0L433.8 1130.2L434.3 1104.7L434.3 1100.9L434.8 1070.8L435.3 1031.9L435.5 1019.5L435.8 999.9L436.3 971.5L436.6 957.9L436.8 943.7L437.2 927.8L437.3 925.3L437.8 919.2L437.9 919.2L438.4 927.5L438.4 929.3L438.9 940.3L439.4 960.0L439.4 960.4L439.9 1021.3L439.9 1024.1L440.3 1085.2L440.4 1096.0L440.9 1137.5L441.4 1175.6L441.5 1179.8L441.9 1228.1L442.5 1283.8L442.7 1303.7L442.8 1310.9L443.0 1326.3L443.5 1359.8L443.6 1370.0L444.0 1389.5L444.5 1415.4L444.5 1416.5L445.0 1436.5L445.3 1448.5L445.5 1457.3L446.0 1475.4L446.0 1475.6L446.5 1481.6L447.0 1485.8L447.5 1488.0L447.6 1488.2L448.1 1488.4L448.6 1488.4L449.1 1489.5L449.6 1490.4L450.1 1491.0L450.5 1491.3L450.6 1491.4L451.1 1492.1L451.6 1492.8L452.2 1493.0L452.7 1493.3L453.2 1492.2L453.7 1491.2L454.2 1493.0L454.7 1494.7L455.2 1493.8L455.7 1492.8L456.2 1492.0L456.8 1491.1L456.8 1491.1L457.3 1490.6L457.8 1490.2L458.3 1491.1L458.8 1492.0L459.3 1490.7L459.8 1489.4L460.3 1491.4L460.8 1493.5L461.4 1493.9L461.9 1494.3L462.4 1495.0L462.9 1495.6L463.4 1495.2L463.9 1494.7L464.4 1493.2L464.9 1491.6L465.4 1492.8L466.0 1494.0L466.5 1494.8L467.0 1495.6L467.5 1493.5L468.0 1491.4L468.5 1492.4L469.0 1493.5L469.2 1493.8L469.5 1494.5L470.0 1495.4L470.6 1494.7L471.1 1493.9L471.6 1491.9L472.1 1489.7L472.6 1490.1L473.1 1490.4L473.2 1490.4L473.6 1489.4L474.1 1487.0L474.6 1484.6L475.2 1481.4L475.7 1474.0L475.8 1472.2L476.2 1465.5L476.7 1455.9L477.2 1443.4L477.4 1438.4L477.7 1427.4L478.2 1403.0L478.3 1398.8L478.7 1368.7L479.0 1345.8L479.2 1332.6L479.8 1300.6L480.1 1279.4L480.3 1269.0L480.8 1239.2L481.1 1214.2L481.3 1201.3L481.8 1149.5L481.8 1149.3L482.3 1118.2L482.5 1108.8L482.8 1100.6L483.3 1089.8L483.5 1089.4L483.6 1089.7L483.8 1091.7L484.4 1099.9L484.8 1109.4L484.9 1110.9L485.4 1136.8L485.6 1148.5L485.9 1175.1L486.3 1210.5L486.4 1217.3L486.9 1249.2L487.4 1279.8L487.4 1279.9L487.9 1310.4L488.4 1342.2L488.5 1344.3L489.0 1381.0L489.2 1399.1L489.5 1412.8L490.0 1436.8L490.3 1449.8L490.5 1454.0L491.0 1466.2L491.5 1475.1L491.7 1478.7L492.0 1482.2L492.5 1488.0L493.0 1491.5L493.6 1494.0L494.1 1496.3L494.1 1496.5L494.6 1498.0L495.1 1499.2L495.6 1500.2L496.1 1502.0L496.6 1503.6L497.1 1505.8L497.6 1507.7L497.7 1507.6L498.1 1505.9L498.7 1504.1L499.2 1503.2L499.7 1502.3L500.2 1503.1L500.7 1503.9L501.2 1503.7L501.7 1503.5L502.1 1504.0L502.2 1504.2L502.7 1504.8L503.3 1504.5L503.8 1504.1L504.3 1506.1L504.8 1508.1L505.3 1506.8L505.8 1505.5L506.3 1506.3L506.8 1507.1L507.3 1505.2L507.6 1504.3L507.9 1503.3L508.4 1503.7L508.9 1504.0L509.4 1505.7L509.9 1507.4L510.4 1504.6L510.9 1501.8L511.4 1503.2L511.9 1504.6L512.5 1503.3L513.0 1502.0L513.5 1504.3L514.0 1506.7L514.5 1504.4L515.0 1502.4L515.5 1503.7L516.0 1504.8L516.5 1505.0L517.1 1505.1L517.6 1504.1L518.1 1503.4L518.6 1507.4L518.7 1508.0L519.1 1511.4L519.6 1510.4L520.1 1509.3L520.6 1511.5L521.1 1513.6L521.7 1512.4L522.2 1511.0L522.7 1510.7L523.2 1510.3L523.7 1511.7L524.2 1513.1L524.7 1513.1L525.2 1513.1L525.7 1515.2L526.3 1517.3L526.8 1514.4L527.3 1511.4L527.8 1511.1L528.3 1510.7L528.8 1511.4L529.3 1512.1L529.8 1512.8L530.3 1513.6L530.9 1513.9L531.4 1514.1L531.9 1513.1L532.4 1512.2L532.9 1512.5L533.4 1512.8L533.9 1513.5L534.4 1514.2L534.9 1514.6L535.5 1515.0L536.0 1513.8L536.5 1512.5L537.0 1513.1L537.5 1513.6L538.0 1511.5L538.5 1509.3L539.0 1510.7L539.5 1512.0L540.1 1513.1L540.6 1514.1L541.1 1513.8L541.6 1513.5L542.1 1513.3L542.6 1513.2L543.1 1514.6L543.6 1515.9L544.1 1514.5L544.6 1513.0L545.2 1512.4L545.7 1511.8L546.2 1512.7L546.7 1513.7L547.2 1513.7L547.7 1513.6L548.2 1512.6L548.7 1511.6L549.2 1513.1L549.8 1514.7L550.3 1515.2L550.8 1515.6L551.3 1513.8L551.8 1512.1L552.3 1511.8L552.8 1511.5L553.3 1512.0L553.8 1512.5L554.4 1513.4L554.9 1514.3L555.4 1512.8L555.9 1511.3L556.4 1511.0L556.9 1510.6L557.4 1510.4L557.9 1510.2L558.4 1510.2L559.0 1510.1L559.5 1509.1L560.0 1507.6L560.5 1505.3L561.0 1502.2L561.5 1499.3L562.0 1495.1L562.5 1488.9L563.0 1480.7L563.6 1467.1L564.1 1450.9L564.6 1435.2L565.1 1416.6L565.6 1393.5L566.1 1368.1L566.6 1343.8L567.1 1318.8L567.6 1289.4L568.2 1261.8L568.7 1240.9L569.2 1224.8L569.7 1214.6L570.2 1211.2L570.7 1213.5L571.2 1222.6L571.7 1239.7L572.2 1261.6L572.8 1286.4L573.3 1313.0L573.8 1337.6L574.3 1361.2L574.8 1385.6L575.3 1407.0L575.8 1425.0L576.3 1438.9L576.8 1445.4L577.4 1447.4L577.9 1446.2L578.4 1440.4L578.9 1428.9L579.4 1412.9L579.9 1395.7L580.4 1374.7L580.9 1347.7L581.4 1318.5L582.0 1291.1L582.5 1264.1L583.0 1238.2L583.5 1215.9L584.0 1197.2L584.5 1185.1L585.0 1180.4L585.5 1183.6L586.0 1196.4L586.6 1215.9L587.1 1238.7L587.6 1265.2L588.1 1294.1L588.6 1323.6L589.1 1353.4L589.6 1381.4L590.1 1406.9L590.6 1429.5L591.2 1447.9L591.7 1463.2L592.2 1476.6L592.7 1487.3L593.2 1496.3L593.7 1503.5L594.2 1506.7L594.7 1508.8L595.2 1511.3L595.8 1513.1L596.3 1513.3L596.8 1513.1L597.3 1515.3L597.8 1517.4L598.3 1517.1L598.8 1516.7L599.3 1517.5L599.8 1518.3L600.3 1517.2L600.9 1516.1L601.4 1517.0L601.9 1517.9L602.4 1516.1L602.9 1514.2L603.4 1515.8L603.9 1517.4L604.4 1517.1L604.9 1516.8L605.5 1516.8L606.0 1516.7L606.5 1518.8L607.0 1521.0L607.5 1518.6L608.0 1516.1L608.5 1517.2L609.0 1518.3L609.5 1518.3L610.1 1518.4L610.6 1518.9L611.1 1519.5L611.6 1519.8L612.1 1520.2L612.6 1518.3L613.1 1516.3L613.6 1517.1L614.1 1518.0L614.7 1517.8L615.2 1517.7L615.7 1518.8L616.2 1519.9L616.7 1520.0L617.2 1520.2L617.7 1519.2L618.2 1518.2L618.7 1518.1L619.3 1518.0L619.8 1517.7L620.3 1517.3L620.8 1518.3L621.3 1519.4L621.8 1520.3L622.3 1521.3L622.8 1520.3L623.3 1519.3L623.9 1518.5L624.4 1517.7L624.9 1517.6L625.4 1517.5L625.9 1517.6L626.4 1517.6L626.9 1516.9L627.4 1516.2L627.9 1518.7L628.5 1521.2L629.0 1520.0L629.5 1518.7L630.0 1518.4L630.5 1518.0L631.0 1519.9L631.5 1521.8L632.0 1520.3L632.5 1518.7L633.1 1519.6L633.6 1520.6L634.1 1519.6L634.6 1518.7L635.1 1519.4L635.6 1520.1L636.1 1519.3L636.6 1518.6L637.1 1518.3L637.7 1517.9L638.2 1518.5L638.7 1519.1L639.2 1519.3L639.7 1519.4L640.2 1519.6L640.7 1519.6L641.2 1518.5L641.7 1517.0L642.3 1515.5L642.8 1513.2L643.3 1510.2L643.8 1505.9L644.3 1500.9L644.8 1494.3L645.3 1485.3L645.8 1475.4L646.3 1466.1L646.9 1457.4L647.4 1451.0L647.9 1447.0L648.1 1445.8L648.4 1445.4L648.9 1446.3L649.4 1448.6L649.9 1450.9L650.4 1450.9L650.9 1448.2L651.4 1442.6L652.0 1433.7L652.5 1424.3L653.0 1414.1L653.5 1403.6L654.0 1396.6L654.5 1394.3L655.0 1398.0L655.5 1407.9L656.0 1422.0L656.6 1438.4L657.1 1455.4L657.6 1470.1L658.1 1482.9L658.6 1494.5L659.1 1503.4L659.6 1508.5L660.1 1511.8L660.6 1515.1L661.2 1517.4L661.7 1518.0L662.2 1518.2L662.7 1518.0L663.2 1517.7L663.7 1519.0L664.2 1520.0L664.7 1516.8L665.2 1513.0L665.8 1512.9L666.3 1511.4L666.8 1506.8L667.3 1499.8L667.8 1489.2L668.3 1475.5L668.8 1457.7L669.3 1437.5L669.8 1418.6L670.4 1399.9L670.9 1380.6L671.4 1365.5L671.9 1358.9L672.1 1358.3L672.4 1359.7L672.9 1368.9L673.4 1384.4L673.9 1401.5L674.4 1420.7L675.0 1441.9L675.5 1461.7L676.0 1476.5L676.5 1488.4L677.0 1498.2L677.5 1505.3L678.0 1511.8L678.5 1516.6L679.0 1520.6L679.6 1523.7L680.1 1524.5L680.6 1524.9L681.1 1525.5L681.6 1525.9L682.1 1525.3L682.6 1524.6L683.1 1524.8L683.6 1525.1L684.2 1525.2L684.7 1525.2L685.2 1527.7L685.7 1530.2L686.2 1528.2L686.7 1526.2L687.2 1527.6L687.7 1529.0L688.2 1527.6L688.8 1526.1L689.3 1527.3L689.8 1528.5L690.3 1526.7L690.8 1524.9L691.3 1525.3L691.8 1525.7L692.3 1526.4L692.8 1527.1L693.4 1526.4L693.9 1525.7L694.4 1525.8L694.9 1525.9L695.4 1526.1L695.9 1526.3L696.4 1526.0L696.9 1525.7L697.4 1527.3L697.9 1528.8L698.5 1528.5L699.0 1528.2L699.5 1526.3L700.0 1524.4L700.5 1526.7L701.0 1529.0L701.5 1527.7L702.0 1526.4L702.5 1526.4L703.1 1526.4L703.6 1526.2L704.1 1526.1L704.6 1526.9L705.1 1527.6L705.6 1527.5L706.1 1527.4L706.6 1526.4L707.1 1525.5L707.7 1525.9L708.2 1526.3L708.7 1525.2L709.2 1524.2L709.7 1526.5L710.2 1528.8L710.7 1526.8L711.2 1524.7L711.7 1524.6L712.3 1524.5L712.8 1524.6L713.3 1524.6L713.8 1525.2L714.3 1525.8L714.8 1526.1L715.3 1526.4L715.8 1525.3L716.3 1524.0L716.9 1523.6L717.4 1522.9L717.9 1521.2L718.4 1518.9L718.9 1517.3L719.4 1514.8L719.9 1509.3L720.4 1502.8L720.9 1494.8L721.5 1486.3L722.0 1481.3L722.5 1476.6L723.0 1469.7L723.5 1464.3L724.0 1463.1L724.3 1463.3L724.5 1464.2L725.0 1464.7L725.5 1467.3L726.1 1473.5L726.6 1480.5L727.1 1488.1L727.6 1495.4L728.1 1501.0L728.6 1505.7L729.1 1511.1L729.6 1515.5L730.1 1519.5L730.7 1522.7L731.2 1523.7L731.7 1524.2L732.2 1522.4L732.7 1520.4L733.2 1523.4L733.7 1526.2L734.2 1525.5L734.7 1524.8L735.3 1525.0L735.8 1525.2L736.3 1524.4L736.8 1523.6L737.3 1523.4L737.8 1523.0L738.3 1522.2L738.8 1521.0L739.3 1519.5L739.9 1517.2L740.4 1513.2L740.9 1507.8L741.4 1503.3L741.9 1496.6L742.4 1485.4L742.9 1471.3L743.4 1455.0L743.9 1435.5L744.5 1413.0L745.0 1388.0L745.5 1360.9L746.0 1333.2L746.5 1306.9L747.0 1283.0L747.5 1262.0L748.0 1246.5L748.5 1240.2L748.8 1239.8L749.0 1241.4L749.6 1249.1L750.1 1263.7L750.6 1283.5L751.1 1307.3L751.6 1332.8L752.1 1359.0L752.6 1388.1L753.1 1415.4L753.6 1436.9L754.2 1455.5L754.7 1472.2L755.2 1485.8L755.7 1496.4L756.2 1504.5L756.7 1510.5L757.2 1514.9L757.7 1518.4L758.2 1520.9L758.8 1522.1L759.3 1522.7L759.8 1524.0L760.3 1525.0L760.8 1527.5L761.3 1529.8L761.8 1529.5L762.3 1529.1L762.8 1529.9L763.4 1530.8L763.9 1529.0L764.4 1527.2L764.9 1526.4L765.4 1525.6L765.9 1526.1L766.4 1526.6L766.9 1525.8L767.4 1525.0L768.0 1527.9L768.5 1530.8L769.0 1531.0L769.5 1531.2L770.0 1530.3L770.5 1529.5L771.0 1529.6L771.5 1529.8L772.0 1529.8L772.6 1529.7L773.1 1529.3L773.6 1528.9L774.1 1529.5L774.6 1530.1L775.1 1528.7L775.6 1527.3L776.1 1527.7L776.6 1528.1L777.2 1528.2L777.7 1528.4L778.2 1527.1L778.7 1525.9L779.2 1526.3L779.7 1526.7L780.2 1527.7L780.7 1528.7L781.2 1528.5L781.8 1528.3L782.3 1526.1L782.8 1523.8L783.3 1526.2L783.8 1528.6L784.3 1527.9L784.8 1527.2L785.3 1527.1L785.8 1526.9L786.4 1525.6L786.9 1524.0L787.4 1523.1L787.9 1521.7L788.4 1517.7L788.9 1512.7L789.4 1508.8L789.9 1503.5L790.4 1495.2L791.0 1485.1L791.5 1474.4L792.0 1462.0L792.5 1449.1L793.0 1435.2L793.5 1420.1L794.0 1405.4L794.5 1390.4L795.0 1377.8L795.6 1369.2L796.1 1364.5L796.3 1364.3L796.6 1365.3L797.1 1370.5L797.6 1378.4L798.1 1389.4L798.6 1404.1L799.1 1420.1L799.6 1434.4L800.1 1448.5L800.7 1460.3L801.2 1470.7L801.7 1483.5L802.2 1494.6L802.7 1501.8L803.2 1507.5L803.7 1511.6L804.2 1514.7L804.7 1517.8L805.3 1520.2L805.8 1521.3L806.3 1521.9L806.8 1521.9L807.3 1521.6L807.8 1522.7L808.3 1523.8L808.8 1522.3L809.3 1520.3L809.9 1518.5L810.4 1516.0L810.9 1512.4L811.4 1507.6L811.9 1502.7L812.4 1496.5L812.9 1486.5L813.4 1475.4L813.9 1467.0L814.5 1458.1L815.0 1446.3L815.5 1435.2L816.0 1427.8L816.5 1422.3L817.0 1418.0L817.5 1416.7L818.0 1417.8L818.5 1422.0L819.1 1428.6L819.6 1437.2L820.1 1448.3L820.6 1460.1L821.1 1471.4L821.6 1482.3L822.1 1490.8L822.6 1498.3L823.1 1506.7L823.7 1513.9L824.2 1518.8L824.7 1522.6L825.2 1527.3L825.7 1531.3L826.2 1533.3L826.7 1535.0L827.2 1534.2L827.7 1533.2L828.3 1534.0L828.8 1534.7L829.3 1534.6L829.8 1534.4L830.3 1536.0L830.8 1537.5L831.3 1538.2L831.8 1539.0L832.3 1540.0L832.9 1541.1L833.4 1539.1L833.9 1537.1L834.4 1539.0L834.9 1541.0L835.4 1540.5L835.9 1539.9L836.4 1539.8L836.9 1539.7L837.5 1540.2L838.0 1540.8L838.5 1540.7L839.0 1540.4L839.5 1541.4L840.0 1542.3L840.5 1542.0L841.0 1541.7L841.5 1542.6L842.1 1543.5L842.6 1542.2L843.1 1540.9L843.6 1539.9L844.1 1538.9L844.6 1539.6L845.1 1540.2L845.6 1541.2L846.1 1542.1L846.7 1540.7L847.2 1539.3L847.7 1539.7L848.2 1540.0L848.7 1540.6L849.2 1541.1L849.7 1538.9L850.2 1536.5L850.7 1536.7L851.2 1536.4L851.8 1533.5L852.3 1529.9L852.8 1525.2L853.3 1519.7L853.8 1514.6L854.3 1508.9L854.8 1502.0L855.3 1495.1L855.8 1489.0L856.4 1483.5L856.9 1479.2L857.4 1476.5L857.9 1475.8L858.4 1477.1L858.9 1479.8L859.4 1484.1L859.9 1489.2L860.4 1495.0L861.0 1501.4L861.5 1507.8L862.0 1516.2L862.5 1524.1L863.0 1526.6L863.5 1528.3L864.0 1532.3L864.5 1535.6L865.0 1538.6L865.6 1541.0L866.1 1542.0L866.6 1542.6L867.1 1541.8L867.6 1540.9L868.1 1543.2L868.6 1545.4L869.1 1545.4L869.6 1545.3L870.2 1543.8L870.7 1542.3L871.2 1541.6L871.7 1540.9L872.2 1542.3L872.7 1543.7L873.2 1543.0L873.7 1542.3L874.2 1542.1L874.8 1541.8L875.3 1541.3L875.8 1540.7L876.3 1540.6L876.8 1540.5L877.3 1540.9L877.8 1541.2L878.3 1541.5L878.8 1541.9L879.4 1539.5L879.9 1537.2L880.4 1536.9L880.6 1536.8L880.9 1536.7L881.4 1539.3L881.9 1542.0L882.4 1540.8L882.9 1539.7L883.4 1541.2L884.0 1542.6L884.5 1542.5L885.0 1542.3L885.5 1543.5L886.0 1544.6L886.5 1544.6L887.0 1544.6L887.5 1543.9L888.0 1543.2L888.6 1543.4L889.1 1543.6L889.6 1544.1L890.1 1544.5L890.6 1544.9L891.1 1545.3L891.6 1544.3L892.1 1543.3L892.6 1542.7L893.2 1542.1L893.7 1543.3L894.2 1544.5L894.7 1544.5L895.2 1544.4L895.7 1544.3L896.2 1544.2L896.7 1543.6L897.2 1543.0L897.8 1544.3L898.3 1545.5L898.8 1543.8L899.3 1542.0L899.8 1543.0L900.3 1543.9L900.8 1545.3L901.3 1546.6L901.8 1544.9L902.4 1543.1L902.9 1544.2L903.4 1545.4L903.9 1545.5L904.4 1545.5L904.9 1545.5L905.4 1545.5L905.9 1543.9L906.4 1542.4L906.9 1544.4L907.5 1546.4L908.0 1545.8L908.5 1545.2L909.0 1545.5L909.5 1545.7L910.0 1545.6L910.5 1545.5L911.0 1545.3L911.5 1545.2L912.1 1546.1L912.6 1546.9L913.1 1547.1L913.6 1547.3L914.1 1544.8L914.6 1542.4L915.1 1543.2L915.6 1544.0L916.1 1544.4L916.7 1544.9L917.2 1543.4L917.7 1541.8L918.2 1544.5L918.7 1547.2L919.2 1545.5L919.7 1543.8L920.2 1544.8L920.7 1545.8L921.3 1545.5L921.8 1545.2L922.3 1544.8L922.8 1544.5L923.3 1543.9L923.8 1543.2L924.3 1543.7L924.8 1544.1L925.3 1544.4L925.9 1544.7L926.4 1545.2L926.9 1545.7L927.4 1544.9L927.9 1544.1L928.4 1543.9L928.9 1543.7L929.4 1543.8L929.9 1543.8L930.5 1544.9L931.0 1546.0L931.5 1545.1L932.0 1544.3L932.5 1543.4L933.0 1542.5L933.5 1541.9L934.0 1541.1L934.5 1541.3L935.1 1541.4L935.6 1540.1L936.1 1538.5L936.6 1537.2L937.1 1535.3L937.6 1533.7L938.1 1531.1L938.6 1525.7L939.1 1519.2L939.7 1511.7L940.2 1503.2L940.7 1494.2L941.2 1484.7L941.7 1475.7L942.2 1467.1L942.7 1456.2L943.2 1446.8L943.7 1442.7L944.3 1441.1L944.5 1440.5L944.8 1440.6L945.3 1442.8L945.8 1448.3L946.3 1455.9L946.8 1464.6L947.3 1474.1L947.8 1483.7L948.3 1493.0L948.9 1502.7L949.4 1511.5L949.9 1516.6L950.4 1520.6L950.9 1527.3L951.4 1533.0L951.9 1536.2L952.4 1538.8L952.9 1539.2L953.4 1539.1L954.0 1539.9L954.5 1540.5L955.0 1543.1L955.5 1545.5L956.0 1543.6L956.5 1541.6L957.0 1542.1L957.5 1542.6L958.0 1542.4L958.6 1542.1L959.1 1542.3L959.6 1542.4L960.1 1542.4L960.6 1542.4L961.1 1541.3L961.6 1540.3L962.1 1543.6L962.6 1547.0L963.2 1544.7L963.7 1542.4L964.2 1543.2L964.7 1544.0L965.2 1543.7L965.7 1543.3L966.2 1544.4L966.7 1545.5L967.2 1545.0L967.8 1544.5L968.3 1544.9L968.8 1545.2L969.3 1545.2L969.8 1545.3L970.3 1545.0L970.8 1544.8L971.3 1544.2L971.8 1543.6L972.4 1544.2L972.9 1544.9L973.4 1543.0L973.9 1541.1L974.4 1543.0L974.9 1544.8L975.4 1544.7L975.9 1544.5L976.4 1544.2L977.0 1543.9L977.5 1542.7L978.0 1541.4L978.5 1543.4L979.0 1545.4L979.5 1543.9L980.0 1542.3L980.5 1543.3L981.0 1544.2L981.6 1542.4L982.1 1540.5L982.6 1541.7L983.1 1542.9L983.6 1542.5L984.1 1542.1L984.6 1541.9L985.1 1541.8L985.6 1541.7L986.2 1541.7L986.7 1543.4L987.2 1544.9L987.7 1543.3L988.2 1541.5L988.7 1541.1L989.2 1540.4L989.7 1540.4L990.2 1539.9L990.8 1534.8L991.3 1529.0L991.8 1527.1L992.3 1524.1L992.8 1516.6L993.3 1507.9L993.8 1499.6L994.3 1490.5L994.8 1481.4L995.4 1472.4L995.9 1462.6L996.4 1453.9L996.9 1448.2L997.4 1444.6L997.9 1443.6L998.4 1445.2L998.9 1449.4L999.4 1455.8L1000.0 1464.4L1000.5 1474.1L1001.0 1483.6L1001.5 1493.1L1002.0 1500.9L1002.5 1508.0L1003.0 1515.7L1003.5 1522.4L1004.0 1527.6L1004.5 1531.8" fill="none" stroke="#4472C4" stroke-width="3.2" stroke-linejoin="round"/>
<path d="M110.3 1492.5L110.8 1492.8L111.3 1493.1L111.8 1492.5L112.3 1491.9L112.9 1492.7L113.4 1493.5L113.9 1492.9L114.4 1492.3L114.9 1492.5L115.4 1492.7L115.9 1492.8L116.4 1492.9L116.9 1492.8L117.5 1492.7L118.0 1492.1L118.5 1491.4L119.0 1490.9L119.5 1490.4L120.0 1491.3L120.5 1492.2L121.0 1491.8L121.5 1491.4L122.1 1491.4L122.6 1491.4L123.1 1491.7L123.6 1492.0L124.1 1491.5L124.6 1491.0L125.1 1491.9L125.6 1492.7L126.1 1492.6L126.7 1492.6L127.2 1491.6L127.7 1490.6L128.2 1491.5L128.7 1492.4L129.2 1491.3L129.7 1490.3L130.2 1491.5L130.7 1492.7L131.3 1492.6L131.8 1492.5L132.3 1492.0L132.8 1491.4L133.3 1492.1L133.8 1492.7L134.3 1492.7L134.8 1492.7L135.3 1492.2L135.8 1491.7L136.4 1489.9L136.9 1488.1L137.4 1489.4L137.9 1490.7L138.4 1490.6L138.9 1490.5L139.4 1490.7L139.9 1491.0L140.4 1489.4L141.0 1487.7L141.5 1488.6L142.0 1489.2L142.5 1488.2L143.0 1486.7L143.5 1484.9L144.0 1482.2L144.5 1477.0L145.0 1470.3L145.6 1463.0L146.1 1453.3L146.6 1442.2L147.1 1428.5L147.6 1410.8L148.1 1391.5L148.6 1371.1L149.1 1351.7L149.6 1336.3L150.2 1325.0L150.7 1317.9L150.9 1316.7L151.2 1317.2L151.7 1323.1L152.2 1334.5L152.7 1349.8L153.2 1367.6L153.7 1389.0L154.2 1409.9L154.8 1426.4L155.3 1440.6L155.8 1453.3L156.3 1463.4L156.8 1469.3L157.3 1473.2L157.8 1477.9L158.3 1481.4L158.8 1483.8L159.4 1485.5L159.9 1485.8L160.4 1485.8L160.9 1485.7L161.4 1485.5L161.9 1485.3L162.4 1485.1L162.9 1486.2L163.4 1487.2L164.0 1486.8L164.5 1486.4L165.0 1486.4L165.5 1486.4L166.0 1486.4L166.5 1486.4L167.0 1486.1L167.5 1485.9L168.0 1486.1L168.6 1486.3L169.1 1486.0L169.6 1485.7L170.1 1486.0L170.6 1486.4L171.1 1485.2L171.6 1484.1L172.1 1484.2L172.6 1484.2L173.2 1484.9L173.7 1485.6L174.2 1485.4L174.7 1485.1L175.2 1485.2L175.7 1485.3L176.2 1486.5L176.7 1487.8L177.2 1486.7L177.8 1485.6L178.3 1485.8L178.8 1485.9L179.3 1485.3L179.8 1484.6L180.3 1484.0L180.8 1483.5L181.3 1482.9L181.8 1482.2L182.4 1481.3L182.9 1480.3L183.4 1480.5L183.9 1480.7L184.4 1479.9L184.9 1479.0L185.4 1479.8L185.9 1480.6L186.4 1480.1L186.9 1479.6L187.5 1479.9L188.0 1480.2L188.5 1480.7L189.0 1481.3L189.5 1480.9L190.0 1480.4L190.5 1481.2L191.0 1482.0L191.5 1481.9L192.1 1481.7L192.6 1481.7L193.1 1481.6L193.6 1481.3L194.1 1481.0L194.6 1480.4L195.1 1479.7L195.6 1479.0L196.1 1478.2L196.7 1478.7L197.2 1479.3L197.7 1478.6L198.2 1477.9L198.7 1477.7L199.2 1477.5L199.7 1477.8L200.2 1478.0L200.7 1476.7L201.3 1475.4L201.8 1474.8L202.3 1474.2L202.8 1475.4L203.3 1476.6L203.8 1477.5L204.3 1478.3L204.8 1477.5L205.3 1476.9L205.9 1478.8L206.4 1480.6L206.9 1476.6L207.4 1472.5L207.9 1472.8L208.4 1473.0L208.9 1471.2L209.4 1469.2L209.9 1469.1L210.5 1468.4L211.0 1467.8L211.5 1465.8L212.0 1459.9L212.5 1451.7L213.0 1439.0L213.5 1423.3L214.0 1406.7L214.5 1387.0L215.1 1363.9L215.6 1339.5L216.1 1315.2L216.6 1293.0L217.1 1276.0L217.6 1265.2L218.1 1261.1L218.6 1265.0L219.1 1276.9L219.7 1294.9L220.2 1316.9L220.7 1340.9L221.2 1365.2L221.7 1388.1L222.2 1408.8L222.7 1426.3L223.2 1439.0L223.7 1448.6L224.3 1456.4L224.8 1461.9L225.3 1465.9L225.8 1468.6L226.3 1470.6L226.8 1471.8L227.3 1471.8L227.8 1471.4L228.3 1470.3L228.9 1468.8L229.4 1467.7L229.9 1465.8L230.4 1463.6L230.9 1460.4L231.4 1453.7L231.9 1445.9L232.4 1439.8L232.9 1433.0L233.5 1422.9L234.0 1413.2L234.5 1407.7L235.0 1404.0L235.5 1401.2L235.8 1400.9L236.0 1401.3L236.5 1403.5L237.0 1408.2L237.5 1415.4L238.1 1423.6L238.6 1432.0L239.1 1440.1L239.6 1449.1L240.1 1457.1L240.6 1461.0L241.1 1463.7L241.6 1466.7L242.1 1468.9L242.6 1471.4L243.2 1473.4L243.7 1474.7L244.2 1475.8L244.7 1475.5L245.2 1475.2L245.7 1475.0L246.2 1474.7L246.7 1475.7L247.2 1476.6L247.8 1475.3L248.3 1474.0L248.8 1474.1L249.3 1474.1L249.8 1473.8L250.3 1473.5L250.8 1475.3L251.3 1477.1L251.8 1474.6L252.4 1472.1L252.9 1472.8L253.4 1473.5L253.9 1474.7L254.4 1475.8L254.9 1476.0L255.4 1476.2L255.9 1477.2L256.4 1478.2L257.0 1477.3L257.5 1476.3L258.0 1475.7L258.5 1475.0L259.0 1476.5L259.5 1477.9L260.0 1477.7L260.5 1477.5L261.0 1477.6L261.6 1477.7L262.1 1477.6L262.6 1477.6L263.1 1477.2L263.6 1476.8L264.1 1475.4L264.6 1474.0L265.1 1474.3L265.6 1474.6L266.2 1476.9L266.7 1479.2L267.2 1477.8L267.7 1476.4L268.2 1475.0L268.7 1473.6L269.2 1475.1L269.7 1476.5L270.2 1477.2L270.8 1477.9L271.3 1477.5L271.8 1477.1L272.3 1476.8L272.8 1476.6L273.3 1474.9L273.8 1473.2L274.3 1474.9L274.8 1476.7L275.4 1476.6L275.9 1476.5L276.4 1477.9L276.9 1479.2L277.4 1478.0L277.9 1476.8L278.4 1476.8L278.9 1476.8L279.4 1476.5L280.0 1476.3L280.5 1476.5L281.0 1476.8L281.5 1477.1L282.0 1477.4L282.5 1476.9L283.0 1476.3L283.5 1476.1L284.0 1475.8L284.6 1475.6L285.1 1475.3L285.6 1476.4L286.1 1477.4L286.6 1477.1L287.1 1476.8L287.6 1476.8L288.1 1476.9L288.6 1476.0L289.1 1475.1L289.7 1475.7L290.2 1476.2L290.7 1475.5L291.2 1474.7L291.7 1476.8L292.2 1479.0L292.7 1479.1L293.2 1479.3L293.7 1478.8L294.3 1478.2L294.8 1477.9L295.3 1477.5L295.8 1478.0L296.3 1478.4L296.8 1477.0L297.3 1475.6L297.8 1475.7L298.3 1475.9L298.9 1477.7L299.4 1479.6L299.9 1478.0L300.4 1476.4L300.9 1477.1L301.4 1477.9L301.9 1477.4L302.4 1477.0L302.9 1475.7L303.5 1474.4L304.0 1475.7L304.5 1477.0L305.0 1478.2L305.5 1479.3L306.0 1479.7L306.5 1480.0L307.0 1477.2L307.5 1474.3L308.1 1475.0L308.6 1475.7L309.1 1476.4L309.6 1477.0L310.1 1478.1L310.6 1479.1L311.1 1479.0L311.6 1478.8L312.1 1478.6L312.7 1478.2L313.2 1477.5L313.7 1476.7L314.2 1474.0L314.7 1471.1L315.2 1469.1L315.7 1466.9L316.2 1466.3L316.7 1465.4L317.3 1462.0L317.8 1458.4L318.3 1455.7L318.8 1452.8L318.9 1451.8L319.3 1449.5L319.8 1447.0L320.3 1445.3L320.8 1444.0L321.3 1444.1L321.9 1444.5L322.4 1443.0L322.8 1442.3L322.9 1442.2L323.4 1443.1L323.9 1444.8L324.4 1448.6L324.9 1452.8L325.4 1457.1L325.9 1461.5L326.5 1464.7L327.0 1467.6L327.5 1470.5L328.0 1472.9L328.5 1473.3L329.0 1473.4L329.5 1475.2L330.0 1476.8L330.5 1478.8L331.1 1480.6L331.6 1480.0L332.1 1479.2L332.6 1479.0L333.1 1478.7L333.6 1480.2L334.1 1481.6L334.6 1480.4L335.1 1479.2L335.7 1480.2L336.2 1481.3L336.7 1480.9L337.2 1480.6L337.7 1480.7L338.2 1480.9L338.7 1481.4L339.2 1482.0L339.7 1482.9L340.2 1483.8L340.8 1483.2L341.3 1482.6L341.8 1481.1L342.3 1479.6L342.8 1479.5L343.3 1479.4L343.8 1480.1L344.3 1480.8L344.8 1481.0L345.4 1481.2L345.9 1481.9L346.4 1482.7L346.9 1482.3L347.4 1481.9L347.9 1482.1L348.4 1482.3L348.9 1481.0L349.4 1479.6L350.0 1481.0L350.5 1482.3L351.0 1482.8L351.5 1483.3L352.0 1484.3L352.5 1485.2L353.0 1484.7L353.5 1484.1L354.0 1483.6L354.6 1483.2L355.1 1482.3L355.6 1481.5L356.1 1482.4L356.6 1483.4L357.1 1483.5L357.6 1483.6L358.1 1483.6L358.6 1483.6L359.2 1483.9L359.7 1484.2L360.2 1484.5L360.7 1484.9L361.2 1484.9L361.7 1485.0L362.2 1486.4L362.7 1487.8L363.2 1485.5L363.8 1483.2L364.3 1482.8L364.8 1482.5L365.3 1484.0L365.8 1485.5L366.3 1484.4L366.8 1483.3L367.3 1484.1L367.8 1485.0L368.4 1485.2L368.9 1485.3L369.4 1484.9L369.9 1484.4L370.4 1485.7L370.9 1487.0L371.4 1486.9L371.9 1486.9L372.4 1486.6L373.0 1486.3L373.5 1486.7L374.0 1487.1L374.5 1487.3L375.0 1487.6L375.5 1486.8L376.0 1486.0L376.5 1486.7L377.0 1487.4L377.6 1487.1L378.1 1486.9L378.6 1486.8L379.1 1486.8L379.6 1486.5L380.1 1486.2L380.6 1487.9L381.1 1489.6L381.6 1488.6L382.2 1487.6L382.7 1486.3L383.2 1485.1L383.7 1486.5L384.2 1488.0L384.7 1485.8L385.2 1483.6L385.7 1485.7L386.2 1487.9L386.8 1488.3L387.3 1488.7L387.8 1489.2L388.3 1489.7L388.8 1488.8L389.3 1487.9L389.8 1487.3L390.3 1486.6L390.8 1488.6L391.4 1490.6L391.7 1490.2L391.9 1489.8L392.4 1489.0L392.9 1489.1L393.4 1489.0L393.9 1487.5L394.4 1486.0L394.9 1486.1L395.4 1486.1L395.9 1483.9L396.3 1482.4L396.5 1481.5L397.0 1481.9L397.5 1482.0L398.0 1478.7L398.5 1476.0L398.6 1476.1L399.0 1477.6L399.5 1479.9L399.8 1480.0L400.0 1478.4L400.5 1471.8L400.8 1470.7L401.1 1470.4L401.6 1470.4L401.8 1469.3L402.1 1465.7L402.6 1457.4L402.8 1454.4L403.1 1447.7L403.6 1437.6L403.6 1437.1L403.7 1434.8L404.1 1428.1L404.6 1418.9L404.7 1417.8L405.1 1408.3L405.7 1398.7L405.7 1398.2L406.2 1388.5L406.7 1381.0L406.8 1381.0L406.9 1381.6L407.2 1383.5L407.7 1388.3L408.1 1388.9L408.2 1388.3L408.7 1384.2L408.8 1384.3L409.2 1390.0L409.7 1400.8L409.9 1402.7L410.3 1408.0L410.5 1411.2L410.8 1414.1L411.0 1416.2L411.3 1422.7L411.8 1435.8L411.9 1437.2L412.3 1443.6L412.6 1447.7L412.8 1453.6L413.3 1467.4L413.5 1469.8L413.8 1472.3L414.3 1473.6L414.9 1474.1L415.4 1476.1L415.5 1476.5L415.9 1477.5L416.4 1477.3L416.9 1477.0L417.4 1476.9L417.9 1476.8L418.0 1477.0L418.4 1478.0L418.9 1478.4L419.5 1475.2L420.0 1471.8L420.0 1471.8L420.5 1470.3L421.0 1468.3L421.5 1465.5L421.5 1465.4L422.0 1460.7L422.5 1454.5L423.0 1448.8L423.0 1448.1L423.5 1441.8L424.0 1434.7L424.1 1434.2L424.5 1424.2L424.6 1421.3L425.1 1402.1L425.2 1398.5L425.6 1384.5L426.1 1365.8L426.6 1346.2L426.8 1339.9L427.1 1327.6L427.6 1308.5L428.1 1291.0L428.6 1277.8L428.7 1275.9L428.7 1273.9L428.9 1270.2L429.2 1265.2L429.7 1257.5L430.2 1249.8L430.5 1243.4L430.7 1240.1L431.2 1228.4L431.7 1216.2L431.9 1210.6L432.2 1201.3L432.7 1181.5L433.3 1157.9L433.4 1148.6L433.8 1128.3L434.3 1091.3L434.4 1082.9L434.8 1055.1L435.1 1037.8L435.3 1030.0L435.8 1014.9L435.9 1011.8L436.3 1003.4L436.8 996.8L437.1 995.9L437.1 995.9L437.3 997.3L437.9 1004.4L438.1 1009.2L438.4 1019.2L438.7 1038.2L438.9 1058.9L439.1 1082.6L439.4 1105.6L439.9 1133.7L440.4 1162.3L440.6 1178.6L440.9 1208.9L441.4 1272.7L441.7 1302.3L441.8 1308.5L441.9 1321.6L442.5 1357.2L442.6 1368.5L443.0 1384.1L443.5 1405.9L443.7 1416.7L444.0 1429.2L444.5 1449.3L444.5 1449.7L445.0 1457.3L445.5 1462.0L445.5 1462.1L446.0 1465.8L446.5 1468.9L447.0 1471.4L447.5 1473.4L447.6 1473.7L448.1 1475.2L448.6 1476.6L449.1 1478.5L449.6 1480.1L450.1 1481.6L450.5 1482.4L450.6 1482.6L451.1 1483.2L451.6 1483.7L452.2 1484.1L452.7 1484.5L453.2 1483.9L453.7 1483.3L454.2 1484.2L454.7 1485.1L455.2 1485.5L455.7 1485.9L456.2 1484.0L456.8 1482.2L456.8 1482.1L457.3 1482.9L457.8 1483.6L458.3 1483.8L458.8 1484.0L459.3 1483.9L459.8 1483.8L460.3 1485.0L460.8 1486.2L461.4 1485.6L461.9 1485.0L462.4 1483.8L462.9 1482.7L463.4 1482.5L463.9 1482.3L464.4 1481.2L464.9 1480.1L465.4 1480.3L466.0 1480.4L466.5 1482.0L467.0 1483.7L467.5 1481.3L468.0 1478.9L468.5 1480.6L469.0 1482.4L469.2 1482.0L469.5 1481.4L470.0 1480.5L470.6 1481.0L471.1 1481.4L471.2 1481.5L471.6 1481.3L472.1 1480.1L472.6 1479.4L473.1 1478.2L473.6 1474.0L473.8 1472.5L474.1 1469.5L474.6 1465.0L475.2 1459.1L475.7 1451.5L475.8 1449.4L476.2 1440.2L476.7 1418.4L477.1 1395.5L477.2 1388.9L477.7 1344.9L477.7 1344.9L478.2 1301.3L478.5 1280.1L478.7 1258.4L479.2 1221.1L479.4 1206.8L479.8 1177.9L479.8 1174.1L480.3 1152.0L480.3 1150.5L480.8 1135.1L480.9 1131.8L481.3 1125.7L481.7 1121.0L481.8 1120.8L482.3 1122.3L482.8 1127.9L482.9 1129.2L483.3 1140.5L483.8 1164.1L483.8 1167.0L484.4 1206.6L484.4 1210.7L484.9 1236.4L485.4 1263.5L485.6 1278.5L485.9 1295.3L486.4 1329.2L486.7 1346.4L486.9 1360.9L487.4 1391.2L487.6 1398.9L487.9 1413.1L488.4 1430.3L488.8 1439.9L489.0 1445.3L489.5 1457.9L490.0 1465.0L490.1 1466.7L490.5 1469.5L491.0 1476.2L491.5 1481.9L492.0 1482.4L492.1 1482.3L492.5 1481.7L493.0 1482.7L493.6 1483.4L494.1 1484.4L494.6 1485.3L495.1 1486.9L495.1 1487.1L495.6 1488.7L496.1 1489.0L496.6 1489.4L497.1 1490.8L497.6 1491.6L497.7 1491.7L498.1 1493.4L498.7 1495.1L499.2 1494.3L499.7 1493.5L500.2 1494.3L500.7 1495.1L501.2 1494.5L501.7 1494.0L502.2 1493.3L502.7 1492.6L503.3 1492.6L503.8 1492.5L504.3 1493.3L504.8 1494.1L504.8 1494.1L505.3 1494.1L505.8 1494.2L506.3 1493.9L506.8 1493.6L507.3 1493.7L507.6 1493.8L507.9 1493.9L508.4 1495.6L508.9 1497.3L509.4 1497.2L509.9 1497.0L510.4 1496.7L510.9 1496.3L511.4 1496.0L511.9 1495.7L511.9 1495.7L512.5 1495.8L513.0 1495.9L513.5 1497.9L514.0 1499.9L514.5 1498.2L515.0 1496.3L515.5 1498.4L516.0 1500.2L516.5 1497.5L517.1 1494.6L517.6 1493.4L518.1 1492.4L518.6 1495.0L518.7 1495.3L519.1 1498.2L519.6 1497.4L520.1 1496.6L520.6 1498.5L521.1 1500.3L521.7 1499.9L522.2 1499.4L522.7 1499.1L523.2 1498.8L523.7 1499.8L524.2 1500.7L524.7 1499.8L525.2 1498.9L525.7 1499.4L526.3 1500.0L526.8 1499.5L527.3 1499.1L527.8 1497.9L528.3 1496.7L528.8 1498.3L529.3 1499.9L529.8 1499.2L530.3 1498.4L530.9 1498.7L531.4 1499.0L531.9 1499.4L532.4 1499.8L532.9 1498.4L533.4 1497.0L533.9 1498.5L534.4 1499.9L534.9 1499.9L535.5 1499.9L536.0 1500.9L536.5 1501.9L537.0 1501.0L537.5 1500.2L538.0 1499.8L538.5 1499.4L539.0 1498.6L539.5 1497.8L540.1 1498.3L540.6 1498.7L541.1 1497.6L541.6 1496.5L542.1 1497.8L542.6 1499.1L543.1 1498.6L543.6 1498.1L544.1 1497.9L544.6 1497.8L545.2 1498.0L545.7 1498.2L546.2 1498.5L546.7 1498.7L547.2 1498.5L547.7 1498.2L548.2 1497.1L548.7 1495.9L549.2 1497.7L549.8 1499.4L550.3 1498.3L550.8 1497.2L551.3 1497.3L551.8 1497.4L552.3 1497.0L552.8 1496.6L553.3 1495.7L553.8 1494.8L554.4 1495.5L554.9 1496.1L555.4 1495.2L555.9 1494.1L556.4 1492.9L556.9 1491.4L557.4 1490.4L557.9 1488.8L558.4 1486.1L559.0 1482.1L559.5 1476.1L560.0 1468.2L560.5 1458.0L561.0 1445.3L561.5 1429.6L562.0 1411.0L562.5 1390.5L563.0 1367.6L563.6 1342.7L564.1 1316.6L564.6 1289.4L565.1 1263.3L565.6 1242.4L566.1 1225.4L566.6 1211.6L567.1 1204.0L567.4 1202.6L567.6 1202.9L568.2 1208.7L568.7 1223.9L569.2 1244.3L569.7 1266.9L570.2 1291.9L570.7 1315.2L571.2 1338.2L571.7 1363.0L572.2 1385.4L572.8 1403.4L573.3 1417.8L573.8 1429.9L574.3 1437.9L574.8 1438.8L575.3 1435.5L575.8 1430.9L576.3 1422.3L576.8 1408.2L577.4 1390.7L577.9 1370.7L578.4 1348.4L578.9 1321.9L579.4 1295.1L579.9 1272.4L580.4 1251.9L580.9 1234.8L581.4 1222.8L582.0 1217.2L582.2 1216.9L582.5 1218.3L583.0 1224.6L583.5 1236.9L584.0 1255.4L584.5 1277.8L585.0 1301.8L585.5 1327.0L586.0 1351.4L586.6 1374.6L587.1 1397.6L587.6 1418.2L588.1 1435.4L588.6 1449.9L589.1 1462.0L589.6 1471.8L590.1 1478.9L590.6 1484.2L591.2 1489.9L591.7 1494.3L592.2 1496.4L592.7 1497.8L593.2 1497.4L593.7 1496.7L594.2 1499.3L594.7 1501.9L595.2 1501.3L595.8 1500.7L596.3 1500.3L596.8 1499.9L597.3 1502.2L597.8 1504.4L598.3 1503.7L598.8 1503.0L599.3 1503.4L599.8 1503.9L600.3 1503.7L600.9 1503.5L601.4 1503.7L601.9 1503.9L602.4 1502.7L602.9 1501.5L603.4 1503.5L603.9 1505.5L604.4 1504.5L604.9 1503.5L605.5 1504.2L606.0 1504.8L606.5 1504.9L607.0 1504.9L607.5 1504.3L608.0 1503.7L608.5 1503.6L609.0 1503.5L609.5 1504.4L610.1 1505.3L610.6 1506.4L611.1 1507.5L611.6 1506.2L612.1 1504.8L612.6 1504.9L613.1 1505.0L613.6 1505.6L614.1 1506.2L614.7 1505.7L615.2 1505.3L615.7 1506.8L616.2 1508.2L616.7 1507.7L617.2 1507.1L617.7 1508.7L618.2 1510.3L618.7 1508.6L619.3 1507.0L619.8 1508.5L620.3 1510.0L620.8 1508.0L621.3 1506.0L621.8 1506.6L622.3 1507.3L622.8 1506.4L623.3 1505.5L623.9 1506.0L624.4 1506.6L624.9 1506.7L625.4 1506.8L625.9 1507.5L626.4 1508.2L626.9 1508.8L627.4 1509.4L627.9 1508.2L628.5 1507.1L629.0 1506.2L629.5 1505.3L630.0 1506.4L630.5 1507.5L631.0 1507.4L631.5 1507.3L632.0 1507.1L632.5 1506.8L633.1 1507.8L633.6 1508.8L634.1 1509.0L634.6 1509.2L635.1 1507.8L635.6 1506.2L636.1 1505.9L636.6 1505.3L637.1 1503.0L637.7 1500.1L638.2 1499.2L638.7 1497.4L639.2 1494.0L639.7 1489.4L640.2 1481.4L640.7 1472.7L641.2 1466.5L641.7 1461.0L642.3 1455.6L642.8 1452.4L643.0 1452.0L643.3 1452.3L643.8 1455.0L644.3 1459.9L644.8 1466.2L645.3 1472.3L645.8 1477.8L646.3 1483.2L646.9 1486.6L647.4 1486.9L647.9 1484.5L648.4 1479.2L648.9 1471.4L649.4 1462.1L649.9 1451.3L650.4 1441.3L650.9 1431.7L651.4 1422.6L652.0 1415.8L652.5 1410.6L652.7 1409.4L653.0 1409.2L653.5 1414.2L654.0 1422.5L654.5 1431.5L655.0 1442.0L655.5 1455.3L656.0 1468.3L656.6 1476.6L657.1 1483.6L657.6 1490.8L658.1 1496.5L658.6 1500.7L659.1 1503.8L659.6 1507.4L660.1 1510.4L660.6 1510.0L661.2 1509.2L661.7 1510.8L662.2 1512.3L662.7 1511.3L663.2 1510.1L663.7 1510.6L664.2 1510.6L664.7 1508.6L665.2 1505.5L665.8 1500.5L666.3 1494.0L666.8 1483.8L667.3 1472.2L667.8 1462.2L668.3 1451.9L668.8 1440.8L669.3 1431.5L669.8 1429.9L670.4 1432.0L670.9 1431.7L671.4 1435.1L671.9 1443.9L672.4 1454.4L672.9 1465.7L673.4 1476.7L673.9 1486.7L674.4 1495.2L675.0 1501.0L675.5 1505.2L676.0 1509.1L676.5 1511.9L677.0 1513.5L677.5 1514.5L678.0 1514.3L678.5 1513.9L679.0 1516.6L679.6 1519.2L680.1 1519.3L680.6 1519.5L681.1 1518.4L681.6 1517.3L682.1 1517.3L682.6 1517.3L683.1 1519.0L683.6 1520.6L684.2 1521.2L684.7 1521.7L685.2 1520.1L685.7 1518.4L686.2 1518.9L686.7 1519.5L687.2 1518.8L687.7 1518.2L688.2 1518.8L688.8 1519.3L689.3 1517.2L689.8 1515.0L690.3 1515.2L690.8 1515.5L691.3 1517.5L691.8 1519.5L692.3 1519.0L692.8 1518.5L693.4 1519.0L693.9 1519.4L694.4 1519.2L694.9 1518.9L695.4 1519.3L695.9 1519.7L696.4 1519.4L696.9 1519.1L697.4 1518.8L697.9 1518.5L698.5 1518.9L699.0 1519.3L699.5 1518.5L700.0 1517.7L700.5 1519.2L701.0 1520.8L701.5 1519.0L702.0 1517.2L702.5 1517.6L703.1 1518.0L703.6 1518.9L704.1 1519.9L704.6 1518.9L705.1 1517.9L705.6 1518.9L706.1 1519.9L706.6 1520.2L707.1 1520.6L707.7 1520.0L708.2 1519.5L708.7 1518.6L709.2 1517.6L709.7 1519.3L710.2 1521.0L710.7 1519.9L711.2 1518.8L711.7 1517.7L712.3 1516.5L712.8 1518.7L713.3 1520.8L713.8 1519.3L714.3 1517.7L714.8 1517.8L715.3 1517.8L715.8 1517.5L716.3 1517.0L716.9 1514.9L717.4 1512.4L717.9 1511.5L718.4 1509.9L718.9 1504.9L719.4 1499.1L719.9 1494.4L720.4 1489.0L720.9 1483.6L721.5 1478.2L722.0 1474.8L722.5 1472.4L723.0 1468.3L723.5 1466.1L724.0 1467.3L724.5 1470.4L725.0 1473.4L725.5 1477.3L726.1 1483.6L726.6 1490.0L727.1 1493.3L727.6 1496.0L728.1 1501.4L728.6 1505.9L729.1 1508.8L729.6 1511.1L730.1 1511.5L730.7 1511.4L731.2 1510.7L731.7 1509.8L732.2 1510.0L732.7 1509.9L733.2 1511.1L733.7 1512.1L734.2 1511.5L734.7 1510.4L735.3 1506.8L735.8 1502.3L736.3 1499.3L736.8 1494.8L737.3 1484.7L737.8 1472.2L738.3 1460.6L738.8 1446.0L739.3 1426.7L739.9 1404.6L740.4 1380.8L740.9 1355.4L741.4 1326.9L741.9 1299.2L742.4 1277.6L742.9 1259.9L743.4 1245.2L743.9 1237.2L744.2 1235.9L744.5 1236.6L745.0 1243.4L745.5 1258.0L746.0 1278.1L746.5 1302.0L747.0 1328.2L747.5 1355.4L748.0 1382.0L748.5 1405.7L749.0 1427.0L749.6 1446.3L750.1 1462.6L750.6 1476.6L751.1 1487.9L751.6 1496.0L752.1 1502.0L752.6 1507.0L753.1 1510.7L753.6 1513.4L754.2 1515.5L754.7 1514.6L755.2 1513.4L755.7 1515.4L756.2 1517.3L756.7 1518.0L757.2 1518.6L757.7 1518.7L758.2 1518.9L758.8 1518.3L759.3 1517.7L759.8 1519.3L760.3 1520.8L760.8 1521.8L761.3 1522.7L761.8 1521.5L762.3 1520.3L762.8 1520.0L763.4 1519.7L763.9 1521.0L764.4 1522.3L764.9 1521.9L765.4 1521.5L765.9 1521.7L766.4 1521.9L766.9 1522.2L767.4 1522.4L768.0 1522.0L768.5 1521.6L769.0 1522.1L769.5 1522.5L770.0 1521.9L770.5 1521.3L771.0 1520.2L771.5 1519.2L772.0 1521.4L772.6 1523.6L773.1 1522.9L773.6 1522.2L774.1 1521.8L774.6 1521.4L775.1 1522.4L775.6 1523.3L776.1 1522.0L776.6 1520.8L777.2 1521.6L777.7 1522.3L778.2 1521.9L778.7 1521.5L779.2 1520.4L779.7 1519.2L780.2 1518.1L780.7 1516.8L781.2 1517.4L781.8 1517.7L782.3 1516.1L782.8 1513.9L783.3 1511.8L783.8 1508.7L784.3 1501.9L784.8 1493.7L785.3 1487.0L785.8 1478.4L786.4 1467.3L786.9 1454.4L787.4 1440.0L787.9 1424.6L788.4 1408.5L788.9 1393.0L789.4 1379.1L789.9 1367.5L790.4 1357.1L791.0 1350.6L791.2 1350.8L791.5 1352.0L792.0 1357.9L792.5 1365.9L793.0 1377.1L793.5 1390.3L794.0 1404.9L794.5 1421.8L795.0 1438.4L795.6 1452.4L796.1 1464.9L796.6 1475.5L797.1 1484.4L797.6 1491.9L798.1 1497.8L798.6 1503.8L799.1 1508.5L799.6 1508.9L800.1 1508.5L800.7 1511.5L801.2 1514.2L801.7 1513.9L802.2 1513.4L802.7 1514.5L803.2 1515.4L803.7 1516.6L804.2 1517.7L804.7 1516.5L805.3 1515.0L805.8 1512.9L806.3 1510.2L806.8 1508.8L807.3 1506.4L807.8 1501.9L808.3 1496.5L808.8 1488.9L809.3 1480.1L809.9 1471.9L810.4 1463.3L810.9 1453.0L811.4 1443.6L811.9 1437.2L812.4 1432.7L812.7 1430.7L812.9 1429.2L813.4 1427.4L813.9 1427.1L814.5 1427.3L815.0 1428.3L815.5 1429.6L816.0 1430.7L816.5 1433.3L817.0 1439.4L817.5 1447.9L818.0 1459.8L818.5 1472.9L819.1 1483.1L819.6 1492.5L820.1 1500.8L820.6 1507.2L821.1 1514.0L821.6 1519.2L822.1 1521.5L822.6 1523.0L823.1 1522.2L823.7 1521.1L824.2 1521.9L824.7 1522.6L825.2 1524.8L825.7 1527.0L826.2 1526.1L826.7 1525.2L827.2 1525.5L827.7 1525.9L828.3 1525.6L828.8 1525.4L829.3 1525.2L829.8 1525.0L830.3 1527.0L830.8 1529.0L831.3 1527.7L831.8 1526.5L832.3 1527.8L832.9 1529.0L833.4 1530.3L833.9 1531.5L834.4 1530.8L834.9 1530.0L835.4 1529.7L835.9 1529.3L836.4 1530.2L836.9 1531.1L837.5 1531.2L838.0 1531.4L838.5 1530.9L839.0 1530.1L839.5 1530.7L840.0 1531.3L840.5 1530.2L841.0 1529.1L841.5 1528.7L842.1 1528.3L842.6 1529.2L843.1 1530.1L843.6 1529.2L844.1 1528.2L844.6 1529.1L845.1 1529.9L845.6 1530.2L846.1 1530.5L846.7 1530.6L847.2 1530.6L847.7 1531.5L848.2 1532.3L848.7 1529.5L849.2 1526.3L849.7 1525.3L850.2 1523.7L850.7 1521.3L851.2 1518.2L851.8 1514.0L852.3 1509.2L852.8 1506.5L853.3 1503.4L853.8 1495.6L854.3 1488.0L854.8 1483.4L855.3 1479.5L855.8 1476.5L856.4 1474.9L856.6 1475.7L856.9 1476.9L857.4 1480.6L857.9 1481.6L858.4 1483.9L858.9 1488.6L859.4 1493.8L859.9 1501.0L860.4 1508.0L861.0 1511.6L861.5 1514.6L862.0 1517.3L862.5 1519.4L863.0 1524.4L863.5 1528.8L864.0 1530.1L864.5 1531.0L865.0 1530.0L865.6 1528.8L866.1 1529.3L866.6 1529.7L867.1 1530.9L867.6 1531.9L868.1 1531.3L868.6 1530.7L869.1 1530.3L869.6 1530.0L870.2 1530.2L870.7 1530.5L871.2 1532.8L871.7 1535.0L872.2 1534.4L872.7 1533.8L873.2 1532.1L873.7 1530.3L874.2 1530.9L874.8 1531.4L875.3 1531.4L875.8 1531.3L876.3 1530.7L876.8 1530.1L877.3 1530.1L877.8 1530.0L878.3 1531.1L878.8 1532.3L879.4 1530.3L879.9 1528.3L880.4 1528.2L880.6 1528.1L880.9 1528.1L881.4 1528.7L881.9 1529.5L882.4 1529.2L882.9 1529.0L883.4 1529.5L884.0 1530.0L884.5 1530.3L885.0 1530.7L885.5 1530.6L886.0 1530.4L886.5 1532.4L887.0 1534.3L887.5 1533.1L888.0 1531.9L888.6 1533.6L889.1 1535.2L889.6 1533.7L890.1 1532.1L890.6 1532.1L891.1 1532.1L891.6 1533.1L892.1 1534.0L892.6 1533.7L893.2 1533.3L893.7 1534.2L894.2 1535.1L894.7 1535.0L895.2 1534.9L895.7 1536.1L896.2 1537.4L896.7 1533.4L897.2 1529.4L897.8 1530.9L898.3 1532.3L898.8 1533.1L899.3 1533.9L899.8 1533.8L900.3 1533.7L900.8 1533.8L901.3 1534.0L901.8 1536.0L902.4 1538.1L902.9 1534.4L903.4 1530.7L903.9 1532.9L904.4 1535.2L904.9 1534.5L905.4 1533.9L905.9 1534.1L906.4 1534.2L906.9 1535.1L907.5 1535.9L908.0 1535.1L908.5 1534.2L909.0 1534.9L909.5 1535.6L910.0 1536.0L910.5 1536.4L911.0 1536.3L911.5 1536.2L912.1 1533.9L912.6 1531.5L913.1 1532.5L913.6 1533.4L914.1 1532.9L914.6 1532.4L915.1 1532.8L915.6 1533.2L916.1 1533.6L916.7 1534.0L917.2 1535.7L917.7 1537.4L918.2 1535.2L918.7 1533.1L919.2 1533.3L919.7 1533.5L920.2 1533.5L920.7 1533.6L921.3 1534.8L921.8 1536.0L922.3 1534.4L922.8 1532.7L923.3 1533.4L923.8 1534.1L924.3 1534.3L924.8 1534.5L925.3 1534.2L925.9 1534.0L926.4 1531.9L926.9 1529.7L927.4 1530.2L927.9 1530.6L928.4 1532.0L928.9 1533.4L929.4 1531.4L929.9 1529.3L930.5 1530.2L931.0 1531.1L931.5 1529.7L932.0 1528.1L932.5 1528.7L933.0 1529.1L933.5 1527.1L934.0 1524.5L934.5 1520.4L935.1 1515.2L935.6 1511.1L936.1 1505.6L936.6 1497.0L937.1 1486.9L937.6 1476.5L938.1 1464.9L938.6 1453.5L939.1 1441.8L939.7 1428.4L940.2 1416.0L940.7 1406.4L941.2 1399.5L941.7 1396.7L942.0 1396.7L942.2 1397.6L942.7 1400.1L943.2 1405.9L943.7 1416.4L944.3 1428.8L944.8 1440.8L945.3 1453.1L945.8 1465.7L946.3 1477.5L946.8 1487.7L947.3 1496.6L947.8 1504.1L948.3 1510.1L948.9 1515.1L949.4 1518.8L949.9 1521.8L950.4 1524.0L950.9 1526.7L951.4 1528.9L951.9 1529.5L952.4 1529.9L952.9 1529.3L953.4 1528.6L954.0 1530.4L954.5 1532.1L955.0 1530.7L955.5 1529.3L956.0 1529.6L956.5 1529.8L957.0 1529.1L957.5 1528.3L958.0 1528.7L958.6 1529.2L959.1 1530.5L959.6 1531.8L960.1 1531.5L960.6 1531.1L961.1 1530.3L961.6 1529.5L962.1 1530.9L962.6 1532.3L963.2 1531.3L963.7 1530.3L964.2 1530.3L964.7 1530.4L965.2 1531.1L965.7 1531.9L966.2 1531.4L966.7 1530.9L967.2 1530.3L967.8 1529.7L968.3 1529.2L968.8 1528.6L969.3 1530.4L969.8 1532.2L970.3 1529.5L970.8 1526.7L971.3 1528.0L971.8 1529.3L972.4 1528.5L972.9 1527.6L973.4 1528.5L973.9 1529.4L974.4 1530.4L974.9 1531.5L975.4 1530.6L975.9 1529.7L976.4 1529.6L977.0 1529.5L977.5 1529.8L978.0 1530.1L978.5 1531.6L979.0 1533.1L979.5 1532.6L980.0 1532.1L980.5 1531.2L981.0 1530.3L981.6 1529.6L982.1 1528.8L982.6 1528.9L983.1 1529.0L983.6 1529.4L984.1 1529.7L984.6 1528.9L985.1 1527.9L985.6 1527.3L986.2 1526.4L986.7 1524.3L987.2 1521.7L987.7 1519.0L988.2 1515.5L988.7 1511.8L989.2 1507.3L989.7 1502.7L990.2 1497.5L990.8 1489.7L991.3 1481.7L991.8 1477.2L992.3 1473.1L992.8 1465.8L993.3 1459.7L993.8 1456.8L994.3 1455.9L994.8 1457.1L995.4 1460.4L995.9 1463.4L996.4 1467.7L996.9 1474.4L997.4 1481.4L997.9 1489.3L998.4 1496.8L998.9 1503.7L999.4 1509.9L1000.0 1514.7L1000.5 1518.6L1001.0 1522.6L1001.5 1525.9L1002.0 1527.6L1002.5 1528.8L1003.0 1529.6L1003.5 1530.1L1004.0 1530.7L1004.5 1531.1" fill="none" stroke="#C00000" stroke-width="3.6" stroke-linejoin="round"/>
<rect x="371.3" y="1463.2" width="14.5" height="14" fill="#000"/>
<rect x="500.4" y="1474.9" width="13" height="10.6" fill="#000"/><rect x="512.4" y="1474.9" width="14.3" height="14.1" fill="#000"/>
<text transform="translate(161.8 1270.3) rotate(-90)" font-family="Liberation Sans, Arial, sans-serif" font-weight="bold" font-size="29.3">(110)</text><text transform="translate(224.8 978.8) rotate(-90)" font-family="Liberation Sans, Arial, sans-serif" font-weight="bold" font-size="29.3">(001)</text><text transform="translate(251.3 1322.3) rotate(-90)" font-family="Liberation Sans, Arial, sans-serif" font-weight="bold" font-size="29.3">(020)</text><text transform="translate(330.8 1430.8) rotate(-90)" font-family="Liberation Sans, Arial, sans-serif" font-weight="bold" font-size="29.3">(111)</text><rect x="300.6" y="1406.2" width="6.2" height="12.0" fill="#000"/><text transform="translate(416.3 1336.3) rotate(-90)" font-family="Liberation Sans, Arial, sans-serif" font-weight="bold" font-size="29.3">(200)</text><text transform="translate(424.3 1109.8) rotate(-90)" font-family="Liberation Sans, Arial, sans-serif" font-weight="bold" font-size="29.3">(111)</text><text transform="translate(450.3 792.3) rotate(-90)" font-family="Liberation Sans, Arial, sans-serif" font-weight="bold" font-size="29.3">(021)</text><text transform="translate(493.8 1072.3) rotate(-90)" font-family="Liberation Sans, Arial, sans-serif" font-weight="bold" font-size="29.3">(201)</text><rect x="465.3" y="1050.6" width="6.0" height="11.0" fill="#000"/><text transform="translate(565.8 1126.3) rotate(-90)" font-family="Liberation Sans, Arial, sans-serif" font-weight="bold" font-size="29.3">(130)</text><text transform="translate(599.3 1168.3) rotate(-90)" font-family="Liberation Sans, Arial, sans-serif" font-weight="bold" font-size="29.3">(220)</text><text transform="translate(647.3 1398.3) rotate(-90)" font-family="Liberation Sans, Arial, sans-serif" font-weight="bold" font-size="29.3">(221)(201)</text><rect x="617.9" y="1377.5" width="5.5" height="12.5" fill="#000"/><text transform="translate(685.3 1356.3) rotate(-90)" font-family="Liberation Sans, Arial, sans-serif" font-weight="bold" font-size="29.3">(131)</text><rect x="655.7" y="1334.4" width="6.3" height="11.6" fill="#000"/><text transform="translate(730.3 1432.8) rotate(-90)" font-family="Liberation Sans, Arial, sans-serif" font-weight="bold" font-size="29.3">(002)</text><text transform="translate(755.8 1228.3) rotate(-90)" font-family="Liberation Sans, Arial, sans-serif" font-weight="bold" font-size="29.3">(131)</text><text transform="translate(799.8 1341.8) rotate(-90)" font-family="Liberation Sans, Arial, sans-serif" font-weight="bold" font-size="29.3">(221)(311)</text><rect x="770.3" y="1249.3" width="7.0" height="11.6" fill="#000"/><text transform="translate(832.3 1392.3) rotate(-90)" font-family="Liberation Sans, Arial, sans-serif" font-weight="bold" font-size="29.3">(202)</text><rect x="801.8" y="1372.3" width="6.3" height="11.6" fill="#000"/><text transform="translate(867.3 1462.8) rotate(-90)" font-family="Liberation Sans, Arial, sans-serif" font-weight="bold" font-size="29.3">(022)</text><text transform="translate(954.3 1387.3) rotate(-90)" font-family="Liberation Sans, Arial, sans-serif" font-weight="bold" font-size="29.3">(222)</text><rect x="922.9" y="1366.0" width="6.1" height="12.2" fill="#000"/><text transform="translate(995.8 1442.3) rotate(-90)" font-family="Liberation Sans, Arial, sans-serif" font-weight="bold" font-size="29.3">(132)</text><rect x="964.3" y="1418.9" width="5.4" height="12.3" fill="#000"/>
<rect x="662.3" y="609" width="718.2" height="545.6" fill="#fff" stroke="#000" stroke-width="5.6" stroke-linejoin="round"/>
<line x1="734.1" y1="1154" x2="734.1" y2="1146.2" stroke="#000" stroke-width="5.4"/><line x1="805.9" y1="1154" x2="805.9" y2="1143.4" stroke="#000" stroke-width="5.4"/><line x1="877.8" y1="1154" x2="877.8" y2="1146.2" stroke="#000" stroke-width="5.4"/><line x1="949.6" y1="1154" x2="949.6" y2="1143.4" stroke="#000" stroke-width="5.4"/><line x1="1021.4" y1="1154" x2="1021.4" y2="1146.2" stroke="#000" stroke-width="5.4"/><line x1="1093.2" y1="1154" x2="1093.2" y2="1143.4" stroke="#000" stroke-width="5.4"/><line x1="1165.0" y1="1154" x2="1165.0" y2="1146.2" stroke="#000" stroke-width="5.4"/><line x1="1236.9" y1="1154" x2="1236.9" y2="1143.4" stroke="#000" stroke-width="5.4"/><line x1="1308.7" y1="1154" x2="1308.7" y2="1146.2" stroke="#000" stroke-width="5.4"/>
<text x="662.3" y="1195.3" font-family="Liberation Sans, Arial, sans-serif" font-weight="bold" font-size="35.8" text-anchor="middle">26</text>
<text x="805.9" y="1195.3" font-family="Liberation Sans, Arial, sans-serif" font-weight="bold" font-size="35.8" text-anchor="middle">27</text>
<text x="949.6" y="1195.3" font-family="Liberation Sans, Arial, sans-serif" font-weight="bold" font-size="35.8" text-anchor="middle">28</text>
<text x="1093.2" y="1195.3" font-family="Liberation Sans, Arial, sans-serif" font-weight="bold" font-size="35.8" text-anchor="middle">29</text>
<text x="1236.9" y="1195.3" font-family="Liberation Sans, Arial, sans-serif" font-weight="bold" font-size="35.8" text-anchor="middle">30</text>
<text x="1380.5" y="1195.3" font-family="Liberation Sans, Arial, sans-serif" font-weight="bold" font-size="35.8" text-anchor="middle">31</text>
<path d="M663.8 1110.7L665.2 1111.2L666.7 1110.8L668.1 1110.9L669.6 1111.8L671.0 1110.4L672.4 1112.2L673.9 1112.5L675.3 1111.2L676.8 1111.9L678.2 1111.6L679.6 1110.9L681.1 1111.6L682.5 1111.7L684.0 1111.9L685.4 1111.1L686.8 1111.4L688.3 1110.9L689.7 1111.8L691.2 1111.3L692.6 1112.2L694.0 1111.9L695.5 1112.9L696.9 1112.8L698.4 1113.0L699.8 1113.9L701.2 1112.6L702.7 1112.0L704.1 1111.6L705.6 1109.9L707.0 1110.7L708.4 1108.7L709.9 1108.8L711.3 1110.3L712.8 1108.2L714.2 1110.2L715.6 1109.5L717.1 1109.7L718.5 1108.9L720.0 1109.6L721.4 1108.8L722.8 1109.8L724.3 1108.6L725.7 1107.8L727.2 1107.1L728.6 1106.4L730.0 1106.1L731.5 1104.5L732.9 1102.3L734.4 1100.5L735.8 1098.8L737.2 1098.2L738.7 1096.2L740.1 1093.2L741.6 1090.2L743.0 1087.8L744.4 1083.8L745.9 1080.2L747.3 1074.8L748.8 1069.1L750.2 1064.1L751.6 1059.5L753.1 1054.3L754.5 1050.4L756.0 1045.3L757.4 1040.5L758.8 1036.8L760.3 1033.0L761.7 1029.1L763.2 1024.8L764.6 1020.4L766.0 1018.4L767.5 1015.8L768.9 1014.8L770.4 1013.9L771.8 1012.0L773.2 1011.0L774.7 1010.6L776.1 1010.1L777.6 1010.1L779.0 1011.3L780.4 1011.7L781.9 1013.1L783.3 1014.5L784.8 1016.4L786.2 1020.6L787.6 1024.2L789.1 1028.6L790.5 1033.5L792.0 1037.7L793.4 1041.7L794.8 1046.9L796.3 1051.7L797.7 1057.1L799.2 1062.3L800.6 1065.8L802.0 1069.6L803.5 1074.1L804.9 1076.1L806.4 1079.6L807.8 1082.5L809.2 1084.8L810.7 1087.5L812.1 1090.6L813.6 1094.1L815.0 1096.1L816.4 1097.5L817.9 1099.2L819.3 1100.6L820.8 1101.9L822.2 1102.1L823.6 1102.3L825.1 1103.4L826.5 1103.3L828.0 1103.1L829.4 1102.8L830.8 1103.3L832.3 1103.8L833.7 1102.5L835.2 1101.8L836.6 1102.4L838.0 1100.6L839.5 1100.1L840.9 1099.9L842.4 1098.9L843.8 1097.9L845.2 1096.6L846.7 1095.3L848.1 1093.6L849.6 1091.8L851.0 1089.5L852.4 1090.3L853.9 1088.6L855.3 1086.9L856.8 1084.5L858.2 1081.7L859.6 1079.6L861.1 1076.0L862.5 1071.6L864.0 1068.5L865.4 1062.3L866.8 1056.1L868.3 1048.2L869.7 1038.4L871.2 1031.7L872.6 1025.4L874.0 1018.3L875.5 1011.1L876.9 1005.2L878.4 998.9L879.8 991.4L881.2 986.2L882.7 978.9L884.1 972.4L885.6 965.6L887.0 959.1L888.4 952.5L889.9 946.0L891.3 941.4L892.8 935.1L894.2 929.6L895.6 921.0L897.1 913.3L898.5 904.2L900.0 891.5L901.4 881.3L902.8 873.0L904.3 865.3L905.7 855.6L907.2 848.1L908.6 839.5L910.0 830.7L911.5 822.1L912.9 813.6L914.4 802.8L915.8 791.0L917.2 779.7L918.7 768.0L920.1 755.0L921.6 743.2L923.0 731.4L924.4 718.1L925.9 707.8L927.3 694.2L928.8 684.3L930.2 673.3L931.6 664.2L933.1 660.2L934.5 657.5L936.0 657.6L937.4 660.1L938.8 664.2L940.3 670.6L941.7 679.0L943.2 690.6L944.6 703.7L946.0 718.5L947.5 735.0L948.9 747.5L950.4 759.9L951.8 773.4L953.2 791.0L954.7 827.7L956.1 873.4L957.6 904.8L959.0 926.8L960.4 945.0L961.9 961.5L963.3 977.4L964.8 992.6L966.2 1005.8L967.6 1019.5L969.1 1033.4L970.5 1046.7L972.0 1056.6L973.4 1064.3L974.8 1069.4L976.3 1074.2L977.7 1079.1L979.2 1082.5L980.6 1086.4L982.0 1090.6L983.5 1094.1L984.9 1097.5L986.4 1098.1L987.8 1100.6L989.2 1100.9L990.7 1102.5L992.1 1102.1L993.6 1103.4L995.0 1103.5L996.4 1105.1L997.9 1103.9L999.3 1105.2L1000.8 1104.4L1002.2 1104.4L1003.6 1105.3L1005.1 1105.8L1006.5 1105.1L1008.0 1105.5L1009.4 1105.3L1010.8 1105.1L1012.3 1105.8L1013.7 1105.0L1015.2 1105.4L1016.6 1104.3L1018.0 1104.7L1019.5 1105.3L1020.9 1104.5L1022.4 1103.5L1023.8 1105.0L1025.2 1104.9L1026.7 1104.3L1028.1 1104.5L1029.6 1104.2L1031.0 1104.6L1032.4 1105.0L1033.9 1104.5L1035.3 1104.2L1036.8 1104.0L1038.2 1104.2L1039.6 1103.9L1041.1 1104.7L1042.5 1103.6L1044.0 1103.8L1045.4 1104.3L1046.8 1104.3L1048.3 1104.2L1049.7 1103.8L1051.2 1104.2L1052.6 1103.3L1054.0 1103.2L1055.5 1103.3L1056.9 1104.2L1058.4 1104.8L1059.8 1103.8L1061.2 1103.7L1062.7 1104.0L1064.1 1105.4L1065.6 1104.7L1067.0 1105.0L1068.4 1104.9L1069.9 1105.8L1071.3 1106.6L1072.8 1106.3L1074.2 1106.0L1075.6 1107.3L1077.1 1106.8L1078.5 1108.0L1080.0 1106.6L1081.4 1107.3L1082.8 1107.7L1084.3 1106.8L1085.7 1108.0L1087.2 1108.4L1088.6 1108.2L1090.0 1108.6L1091.5 1108.6L1092.9 1108.2L1094.4 1109.1L1095.8 1108.4L1097.2 1108.7L1098.7 1108.5L1100.1 1109.3L1101.6 1108.6L1103.0 1108.6L1104.4 1107.7L1105.9 1108.6L1107.3 1109.3L1108.8 1107.5L1110.2 1108.8L1111.6 1108.5L1113.1 1107.4L1114.5 1108.1L1116.0 1108.7L1117.4 1108.0L1118.8 1108.0L1120.3 1108.3L1121.7 1107.3L1123.2 1107.7L1124.6 1106.3L1126.0 1106.2L1127.5 1107.1L1128.9 1106.7L1130.4 1105.8L1131.8 1103.5L1133.2 1103.1L1134.7 1101.4L1136.1 1101.4L1137.6 1097.9L1139.0 1096.1L1140.4 1094.5L1141.9 1093.0L1143.3 1090.2L1144.8 1087.6L1146.2 1084.5L1147.6 1080.5L1149.1 1075.1L1150.5 1070.7L1152.0 1067.2L1153.4 1060.9L1154.8 1055.1L1156.3 1047.2L1157.7 1038.8L1159.2 1029.6L1160.6 1021.2L1162.0 1010.1L1163.5 1000.9L1164.9 987.8L1166.4 975.2L1167.8 962.6L1169.2 951.9L1170.7 942.3L1172.1 932.4L1173.6 921.5L1175.0 908.4L1176.4 894.1L1177.9 880.2L1179.3 869.5L1180.8 860.0L1182.2 851.7L1183.6 846.2L1185.1 843.7L1186.5 841.1L1188.0 840.1L1189.4 838.8L1190.8 838.2L1192.3 837.9L1193.7 839.3L1195.2 839.6L1196.6 841.7L1198.0 850.6L1199.5 863.0L1200.9 874.7L1202.4 888.0L1203.8 901.7L1205.2 915.3L1206.7 927.5L1208.1 938.2L1209.6 945.3L1211.0 957.5L1212.4 968.1L1213.9 980.5L1215.3 992.7L1216.8 1004.3L1218.2 1014.2L1219.6 1024.6L1221.1 1032.9L1222.5 1041.8L1224.0 1049.1L1225.4 1058.1L1226.8 1064.7L1228.3 1070.3L1229.7 1077.4L1231.2 1082.5L1232.6 1086.5L1234.0 1090.6L1235.5 1094.3L1236.9 1097.6L1238.4 1099.5L1239.8 1102.0L1241.2 1103.3L1242.7 1104.4L1244.1 1105.7L1245.6 1105.5L1247.0 1107.0L1248.4 1108.9L1249.9 1108.1L1251.3 1109.1L1252.8 1111.1L1254.2 1109.9L1255.6 1110.7L1257.1 1110.9L1258.5 1110.6L1260.0 1111.2L1261.4 1111.2L1262.8 1110.3L1264.3 1111.6L1265.7 1110.2L1267.2 1110.4L1268.6 1110.5L1270.0 1110.6L1271.5 1109.9L1272.9 1110.6L1274.4 1109.2L1275.8 1110.1L1277.2 1109.8L1278.7 1109.8L1280.1 1110.1L1281.6 1110.2L1283.0 1109.7L1284.4 1110.0L1285.9 1109.1L1287.3 1109.7L1288.8 1110.4L1290.2 1109.4L1291.6 1109.6L1293.1 1109.7L1294.5 1110.1L1296.0 1109.8L1297.4 1109.4L1298.8 1108.9L1300.3 1109.5L1301.7 1107.8L1303.2 1109.5L1304.6 1108.8L1306.0 1109.5L1307.5 1109.0L1308.9 1109.7L1310.4 1108.6L1311.8 1107.8L1313.2 1108.9L1314.7 1108.6L1316.1 1108.7L1317.6 1109.4L1319.0 1108.2L1320.4 1109.0L1321.9 1109.1L1323.3 1109.1L1324.8 1107.4L1326.2 1108.6L1327.6 1108.1L1329.1 1108.3L1330.5 1107.9L1332.0 1108.1L1333.4 1108.8L1334.8 1109.1L1336.3 1108.5L1337.7 1107.4L1339.2 1108.7L1340.6 1107.3L1342.0 1107.7L1343.5 1108.4L1344.9 1107.3L1346.4 1107.9L1347.8 1107.3L1349.2 1106.7L1350.7 1107.3L1352.1 1106.7L1353.6 1107.8L1355.0 1107.8L1356.4 1107.5L1357.9 1106.0L1359.3 1107.5L1360.8 1106.6L1362.2 1106.7L1363.6 1106.4L1365.1 1106.0L1366.5 1106.3L1368.0 1106.7L1369.4 1107.0L1370.8 1106.4L1372.3 1106.1L1373.7 1105.8L1375.2 1105.8L1376.6 1106.9L1378.0 1106.4" fill="none" stroke="#000000" stroke-width="5.8" stroke-linejoin="round" stroke-linecap="round"/>
<path d="M663.8 1100.6L665.2 1099.6L666.7 1099.5L668.1 1100.8L669.6 1100.8L671.0 1101.0L672.4 1100.5L673.9 1100.0L675.3 1099.4L676.8 1099.8L678.2 1099.0L679.6 1100.4L681.1 1100.5L682.5 1100.9L684.0 1099.2L685.4 1099.3L686.8 1100.4L688.3 1100.2L689.7 1098.9L691.2 1099.6L692.6 1099.9L694.0 1099.6L695.5 1100.0L696.9 1099.7L698.4 1099.3L699.8 1099.7L701.2 1099.3L702.7 1099.9L704.1 1098.2L705.6 1098.6L707.0 1098.1L708.4 1098.0L709.9 1098.0L711.3 1097.8L712.8 1095.9L714.2 1097.3L715.6 1096.5L717.1 1095.9L718.5 1095.0L720.0 1094.8L721.4 1093.6L722.8 1091.1L724.3 1090.1L725.7 1088.4L727.2 1086.2L728.6 1083.5L730.0 1081.0L731.5 1076.7L732.9 1073.6L734.4 1069.8L735.8 1066.6L737.2 1063.5L738.7 1059.1L740.1 1055.9L741.6 1051.2L743.0 1047.9L744.4 1041.0L745.9 1036.6L747.3 1031.5L748.8 1025.7L750.2 1021.6L751.6 1018.8L753.1 1017.0L754.5 1014.2L756.0 1012.9L757.4 1010.1L758.8 1007.5L760.3 1005.5L761.7 1004.2L763.2 1003.4L764.6 1002.0L766.0 1002.3L767.5 1003.4L768.9 1005.9L770.4 1008.7L771.8 1009.7L773.2 1012.9L774.7 1015.9L776.1 1021.4L777.6 1025.7L779.0 1034.0L780.4 1040.5L781.9 1045.0L783.3 1049.1L784.8 1052.1L786.2 1055.3L787.6 1059.3L789.1 1063.1L790.5 1068.1L792.0 1072.5L793.4 1075.7L794.8 1079.1L796.3 1081.4L797.7 1083.8L799.2 1086.9L800.6 1087.0L802.0 1089.3L803.5 1090.6L804.9 1092.4L806.4 1091.8L807.8 1092.8L809.2 1093.4L810.7 1093.5L812.1 1094.8L813.6 1094.9L815.0 1092.5L816.4 1093.6L817.9 1094.4L819.3 1093.1L820.8 1093.2L822.2 1093.5L823.6 1093.4L825.1 1093.2L826.5 1093.2L828.0 1093.9L829.4 1091.2L830.8 1091.5L832.3 1090.3L833.7 1090.2L835.2 1088.8L836.6 1088.3L838.0 1087.0L839.5 1087.1L840.9 1083.6L842.4 1082.4L843.8 1081.2L845.2 1077.9L846.7 1075.3L848.1 1071.5L849.6 1070.1L851.0 1067.7L852.4 1066.6L853.9 1064.3L855.3 1062.4L856.8 1058.6L858.2 1054.4L859.6 1045.9L861.1 1040.3L862.5 1033.2L864.0 1026.0L865.4 1017.4L866.8 1008.7L868.3 1002.0L869.7 993.9L871.2 989.0L872.6 982.2L874.0 975.8L875.5 970.1L876.9 964.8L878.4 957.6L879.8 953.6L881.2 946.4L882.7 941.8L884.1 935.3L885.6 930.6L887.0 923.2L888.4 918.7L889.9 912.8L891.3 907.3L892.8 903.0L894.2 897.1L895.6 891.3L897.1 885.5L898.5 878.7L900.0 872.2L901.4 864.9L902.8 857.6L904.3 848.1L905.7 837.1L907.2 826.0L908.6 813.0L910.0 801.2L911.5 791.1L912.9 783.4L914.4 773.5L915.8 765.7L917.2 755.2L918.7 745.3L920.1 740.7L921.6 736.7L923.0 735.0L924.4 735.5L925.9 738.3L927.3 743.3L928.8 745.6L930.2 751.0L931.6 755.8L933.1 768.8L934.5 790.2L936.0 814.7L937.4 837.7L938.8 855.0L940.3 867.3L941.7 878.7L943.2 890.6L944.6 905.6L946.0 921.7L947.5 939.1L948.9 956.4L950.4 972.2L951.8 985.5L953.2 997.2L954.7 1007.3L956.1 1017.4L957.6 1026.5L959.0 1037.2L960.4 1046.2L961.9 1053.0L963.3 1060.4L964.8 1065.2L966.2 1071.9L967.6 1079.9L969.1 1085.3L970.5 1087.3L972.0 1089.7L973.4 1090.8L974.8 1092.8L976.3 1093.4L977.7 1093.5L979.2 1094.3L980.6 1095.4L982.0 1095.4L983.5 1095.6L984.9 1095.3L986.4 1095.3L987.8 1095.4L989.2 1096.6L990.7 1095.6L992.1 1096.6L993.6 1097.3L995.0 1095.6L996.4 1096.7L997.9 1096.0L999.3 1096.5L1000.8 1096.9L1002.2 1096.1L1003.6 1095.9L1005.1 1096.5L1006.5 1096.8L1008.0 1096.5L1009.4 1096.2L1010.8 1097.1L1012.3 1096.1L1013.7 1096.0L1015.2 1096.9L1016.6 1098.0L1018.0 1096.5L1019.5 1096.8L1020.9 1096.3L1022.4 1096.5L1023.8 1096.3L1025.2 1097.1L1026.7 1096.5L1028.1 1096.5L1029.6 1097.5L1031.0 1096.2L1032.4 1097.5L1033.9 1096.9L1035.3 1096.6L1036.8 1097.1L1038.2 1097.0L1039.6 1097.3L1041.1 1097.1L1042.5 1098.3L1044.0 1097.9L1045.4 1097.9L1046.8 1096.7L1048.3 1097.2L1049.7 1098.1L1051.2 1097.8L1052.6 1097.5L1054.0 1097.5L1055.5 1098.2L1056.9 1096.6L1058.4 1097.2L1059.8 1097.0L1061.2 1098.4L1062.7 1097.0L1064.1 1097.7L1065.6 1098.6L1067.0 1097.8L1068.4 1098.1L1069.9 1098.0L1071.3 1098.4L1072.8 1099.3L1074.2 1097.5L1075.6 1098.1L1077.1 1099.1L1078.5 1099.5L1080.0 1098.1L1081.4 1099.1L1082.8 1098.7L1084.3 1098.7L1085.7 1097.6L1087.2 1097.5L1088.6 1098.5L1090.0 1098.4L1091.5 1098.4L1092.9 1097.8L1094.4 1099.3L1095.8 1098.4L1097.2 1100.0L1098.7 1098.4L1100.1 1098.7L1101.6 1098.9L1103.0 1098.3L1104.4 1097.8L1105.9 1098.0L1107.3 1098.2L1108.8 1097.8L1110.2 1099.1L1111.6 1097.5L1113.1 1098.1L1114.5 1097.9L1116.0 1097.4L1117.4 1096.5L1118.8 1097.1L1120.3 1097.1L1121.7 1096.4L1123.2 1096.0L1124.6 1094.3L1126.0 1094.1L1127.5 1093.7L1128.9 1092.8L1130.4 1091.8L1131.8 1089.7L1133.2 1088.4L1134.7 1086.1L1136.1 1085.3L1137.6 1083.4L1139.0 1080.8L1140.4 1078.7L1141.9 1074.9L1143.3 1071.2L1144.8 1067.3L1146.2 1064.0L1147.6 1056.2L1149.1 1049.8L1150.5 1041.1L1152.0 1031.8L1153.4 1019.1L1154.8 1008.1L1156.3 997.2L1157.7 986.3L1159.2 976.1L1160.6 966.3L1162.0 956.7L1163.5 945.8L1164.9 937.7L1166.4 926.0L1167.8 913.5L1169.2 895.3L1170.7 881.6L1172.1 870.1L1173.6 862.2L1175.0 854.7L1176.4 850.1L1177.9 847.2L1179.3 844.5L1180.8 843.8L1182.2 845.1L1183.6 846.5L1185.1 848.7L1186.5 851.0L1188.0 854.5L1189.4 862.8L1190.8 872.3L1192.3 882.0L1193.7 896.0L1195.2 909.7L1196.6 922.1L1198.0 933.1L1199.5 941.5L1200.9 952.1L1202.4 962.0L1203.8 971.7L1205.2 982.0L1206.7 991.5L1208.1 1002.9L1209.6 1014.8L1211.0 1027.1L1212.4 1037.0L1213.9 1046.5L1215.3 1054.3L1216.8 1061.5L1218.2 1067.1L1219.6 1072.3L1221.1 1076.4L1222.5 1081.5L1224.0 1083.4L1225.4 1087.0L1226.8 1088.5L1228.3 1089.5L1229.7 1092.2L1231.2 1094.1L1232.6 1095.2L1234.0 1096.4L1235.5 1096.6L1236.9 1098.2L1238.4 1098.0L1239.8 1100.4L1241.2 1100.8L1242.7 1099.9L1244.1 1100.7L1245.6 1100.7L1247.0 1101.4L1248.4 1101.9L1249.9 1101.9L1251.3 1102.6L1252.8 1103.5L1254.2 1103.3L1255.6 1104.0L1257.1 1103.7L1258.5 1104.0L1260.0 1103.3L1261.4 1104.6L1262.8 1103.5L1264.3 1104.0L1265.7 1103.5L1267.2 1104.6L1268.6 1103.8L1270.0 1104.7L1271.5 1105.5L1272.9 1104.7L1274.4 1103.3L1275.8 1105.1L1277.2 1104.7L1278.7 1104.9L1280.1 1104.8L1281.6 1105.3L1283.0 1105.2L1284.4 1104.6L1285.9 1103.9L1287.3 1104.6L1288.8 1105.1L1290.2 1103.6L1291.6 1104.7L1293.1 1103.6L1294.5 1105.3L1296.0 1105.7L1297.4 1105.1L1298.8 1104.4L1300.3 1105.1L1301.7 1105.4L1303.2 1105.6L1304.6 1105.4L1306.0 1105.2L1307.5 1104.1L1308.9 1104.6L1310.4 1104.9L1311.8 1104.7L1313.2 1103.5L1314.7 1104.5L1316.1 1104.2L1317.6 1104.8L1319.0 1104.8L1320.4 1103.8L1321.9 1104.2L1323.3 1104.7L1324.8 1104.0L1326.2 1104.6L1327.6 1104.2L1329.1 1104.2L1330.5 1105.1L1332.0 1104.6L1333.4 1104.3L1334.8 1105.5L1336.3 1104.4L1337.7 1104.6L1339.2 1104.6L1340.6 1106.3L1342.0 1105.0L1343.5 1105.1L1344.9 1104.4L1346.4 1105.1L1347.8 1105.3L1349.2 1104.0L1350.7 1104.9L1352.1 1105.5L1353.6 1105.6L1355.0 1104.8L1356.4 1105.9L1357.9 1104.3L1359.3 1105.2L1360.8 1104.9L1362.2 1104.0L1363.6 1105.2L1365.1 1103.9L1366.5 1104.3L1368.0 1104.6L1369.4 1104.0L1370.8 1105.3L1372.3 1104.4L1373.7 1103.9L1375.2 1104.8L1376.6 1104.6L1378.0 1104.0" fill="none" stroke="#4472C4" stroke-width="5.8" stroke-linejoin="round" stroke-linecap="round"/>
<path d="M663.8 1093.5L665.2 1094.3L666.7 1094.3L668.1 1092.9L669.6 1094.3L671.0 1094.2L672.4 1094.3L673.9 1093.3L675.3 1093.0L676.8 1093.3L678.2 1092.9L679.6 1093.0L681.1 1092.7L682.5 1092.8L684.0 1092.5L685.4 1092.7L686.8 1092.6L688.3 1092.2L689.7 1091.9L691.2 1092.9L692.6 1092.1L694.0 1091.4L695.5 1090.2L696.9 1090.5L698.4 1089.6L699.8 1089.6L701.2 1089.1L702.7 1090.2L704.1 1089.0L705.6 1088.8L707.0 1090.5L708.4 1091.0L709.9 1091.2L711.3 1087.9L712.8 1086.8L714.2 1084.9L715.6 1083.1L717.1 1083.4L718.5 1083.1L720.0 1082.7L721.4 1081.5L722.8 1079.0L724.3 1077.4L725.7 1073.9L727.2 1069.6L728.6 1068.1L730.0 1064.9L731.5 1062.5L732.9 1058.8L734.4 1055.5L735.8 1053.0L737.2 1048.6L738.7 1045.2L740.1 1043.0L741.6 1040.4L743.0 1037.4L744.4 1034.7L745.9 1031.6L747.3 1029.0L748.8 1028.1L750.2 1028.2L751.6 1030.3L753.1 1030.7L754.5 1032.7L756.0 1032.5L757.4 1031.7L758.8 1031.2L760.3 1030.5L761.7 1032.1L763.2 1032.7L764.6 1036.7L766.0 1040.0L767.5 1041.6L768.9 1044.2L770.4 1045.9L771.8 1048.5L773.2 1050.9L774.7 1053.2L776.1 1058.2L777.6 1062.4L779.0 1064.9L780.4 1066.6L781.9 1068.7L783.3 1073.3L784.8 1078.1L786.2 1081.3L787.6 1082.5L789.1 1083.8L790.5 1084.2L792.0 1085.9L793.4 1086.5L794.8 1086.0L796.3 1087.7L797.7 1087.0L799.2 1087.6L800.6 1087.3L802.0 1087.2L803.5 1087.8L804.9 1086.9L806.4 1087.4L807.8 1086.9L809.2 1087.8L810.7 1087.5L812.1 1087.4L813.6 1087.2L815.0 1087.7L816.4 1087.1L817.9 1086.5L819.3 1085.9L820.8 1086.7L822.2 1086.0L823.6 1084.0L825.1 1084.8L826.5 1083.8L828.0 1083.0L829.4 1082.2L830.8 1080.3L832.3 1081.3L833.7 1079.5L835.2 1076.6L836.6 1074.4L838.0 1072.3L839.5 1069.6L840.9 1068.2L842.4 1065.9L843.8 1063.2L845.2 1061.1L846.7 1058.2L848.1 1054.7L849.6 1050.3L851.0 1045.1L852.4 1038.5L853.9 1031.8L855.3 1027.2L856.8 1019.6L858.2 1014.2L859.6 1007.2L861.1 1001.2L862.5 994.5L864.0 988.9L865.4 982.5L866.8 976.7L868.3 971.4L869.7 965.8L871.2 962.0L872.6 957.2L874.0 954.4L875.5 952.7L876.9 950.4L878.4 948.6L879.8 946.6L881.2 943.5L882.7 940.7L884.1 937.2L885.6 933.6L887.0 929.6L888.4 925.6L889.9 920.6L891.3 915.9L892.8 910.8L894.2 904.5L895.6 898.2L897.1 889.9L898.5 882.0L900.0 873.3L901.4 861.5L902.8 849.5L904.3 839.0L905.7 827.1L907.2 816.8L908.6 808.7L910.0 802.9L911.5 798.1L912.9 795.8L914.4 791.9L915.8 788.3L917.2 785.3L918.7 783.8L920.1 783.9L921.6 786.0L923.0 787.0L924.4 790.8L925.9 795.0L927.3 800.8L928.8 813.2L930.2 834.3L931.6 846.5L933.1 858.8L934.5 867.2L936.0 874.8L937.4 885.9L938.8 895.8L940.3 911.2L941.7 929.1L943.2 948.9L944.6 968.9L946.0 984.3L947.5 996.6L948.9 1006.4L950.4 1017.3L951.8 1025.0L953.2 1033.1L954.7 1041.2L956.1 1046.4L957.6 1055.5L959.0 1060.5L960.4 1066.6L961.9 1071.4L963.3 1073.5L964.8 1075.7L966.2 1076.8L967.6 1079.1L969.1 1079.9L970.5 1080.8L972.0 1081.3L973.4 1081.7L974.8 1083.3L976.3 1082.7L977.7 1084.2L979.2 1085.6L980.6 1086.3L982.0 1086.3L983.5 1085.7L984.9 1088.0L986.4 1088.8L987.8 1088.8L989.2 1089.9L990.7 1090.2L992.1 1089.0L993.6 1090.1L995.0 1090.1L996.4 1091.4L997.9 1091.2L999.3 1090.8L1000.8 1091.1L1002.2 1091.4L1003.6 1090.6L1005.1 1091.0L1006.5 1091.2L1008.0 1091.1L1009.4 1091.2L1010.8 1091.6L1012.3 1090.8L1013.7 1090.9L1015.2 1092.1L1016.6 1092.6L1018.0 1092.8L1019.5 1090.8L1020.9 1092.0L1022.4 1091.4L1023.8 1091.6L1025.2 1091.8L1026.7 1092.1L1028.1 1092.2L1029.6 1090.6L1031.0 1091.6L1032.4 1092.5L1033.9 1092.0L1035.3 1091.0L1036.8 1091.3L1038.2 1091.4L1039.6 1092.4L1041.1 1092.8L1042.5 1091.2L1044.0 1092.0L1045.4 1091.5L1046.8 1092.0L1048.3 1091.5L1049.7 1091.0L1051.2 1091.2L1052.6 1091.1L1054.0 1092.3L1055.5 1091.0L1056.9 1091.6L1058.4 1090.8L1059.8 1090.8L1061.2 1091.3L1062.7 1090.8L1064.1 1092.2L1065.6 1091.7L1067.0 1090.3L1068.4 1091.2L1069.9 1091.7L1071.3 1090.1L1072.8 1090.5L1074.2 1091.5L1075.6 1090.2L1077.1 1090.9L1078.5 1090.5L1080.0 1090.6L1081.4 1089.9L1082.8 1090.4L1084.3 1090.1L1085.7 1091.3L1087.2 1090.6L1088.6 1090.3L1090.0 1090.2L1091.5 1090.6L1092.9 1089.3L1094.4 1089.6L1095.8 1089.6L1097.2 1089.7L1098.7 1089.2L1100.1 1090.4L1101.6 1089.9L1103.0 1090.9L1104.4 1090.2L1105.9 1090.1L1107.3 1090.6L1108.8 1090.6L1110.2 1090.2L1111.6 1090.7L1113.1 1091.0L1114.5 1089.7L1116.0 1090.2L1117.4 1088.8L1118.8 1088.6L1120.3 1087.3L1121.7 1086.2L1123.2 1085.7L1124.6 1083.9L1126.0 1082.7L1127.5 1082.4L1128.9 1081.0L1130.4 1079.0L1131.8 1079.0L1133.2 1076.0L1134.7 1073.1L1136.1 1071.2L1137.6 1068.2L1139.0 1063.5L1140.4 1058.2L1141.9 1050.7L1143.3 1044.2L1144.8 1036.2L1146.2 1021.9L1147.6 1006.2L1149.1 990.6L1150.5 975.5L1152.0 962.8L1153.4 950.4L1154.8 939.2L1156.3 928.2L1157.7 916.5L1159.2 901.1L1160.6 890.3L1162.0 883.2L1163.5 876.1L1164.9 871.0L1166.4 868.3L1167.8 864.7L1169.2 862.3L1170.7 862.6L1172.1 863.8L1173.6 863.8L1175.0 865.8L1176.4 867.8L1177.9 872.1L1179.3 876.6L1180.8 883.3L1182.2 890.4L1183.6 902.8L1185.1 915.1L1186.5 925.0L1188.0 934.1L1189.4 943.2L1190.8 951.5L1192.3 961.6L1193.7 971.6L1195.2 981.8L1196.6 992.6L1198.0 1002.0L1199.5 1013.6L1200.9 1023.1L1202.4 1031.8L1203.8 1040.5L1205.2 1047.0L1206.7 1052.4L1208.1 1057.2L1209.6 1062.5L1211.0 1066.8L1212.4 1070.6L1213.9 1074.1L1215.3 1077.1L1216.8 1078.3L1218.2 1081.1L1219.6 1081.8L1221.1 1085.0L1222.5 1086.2L1224.0 1087.9L1225.4 1088.5L1226.8 1089.4L1228.3 1089.9L1229.7 1089.1L1231.2 1091.0L1232.6 1092.9L1234.0 1092.5L1235.5 1091.9L1236.9 1092.5L1238.4 1092.8L1239.8 1092.4L1241.2 1093.0L1242.7 1093.4L1244.1 1093.2L1245.6 1094.0L1247.0 1094.8L1248.4 1095.0L1249.9 1095.1L1251.3 1095.3L1252.8 1096.2L1254.2 1095.9L1255.6 1096.2L1257.1 1097.6L1258.5 1096.9L1260.0 1096.5L1261.4 1097.7L1262.8 1097.7L1264.3 1098.0L1265.7 1097.4L1267.2 1098.1L1268.6 1097.4L1270.0 1096.9L1271.5 1097.4L1272.9 1097.7L1274.4 1097.0L1275.8 1097.5L1277.2 1097.8L1278.7 1097.4L1280.1 1097.7L1281.6 1097.7L1283.0 1097.2L1284.4 1097.9L1285.9 1098.0L1287.3 1096.6L1288.8 1097.4L1290.2 1098.2L1291.6 1098.0L1293.1 1096.8L1294.5 1098.0L1296.0 1098.6L1297.4 1098.4L1298.8 1098.3L1300.3 1097.9L1301.7 1098.0L1303.2 1097.4L1304.6 1098.1L1306.0 1099.4L1307.5 1098.2L1308.9 1097.7L1310.4 1098.6L1311.8 1097.2L1313.2 1099.6L1314.7 1098.8L1316.1 1098.3L1317.6 1098.3L1319.0 1098.1L1320.4 1098.7L1321.9 1098.7L1323.3 1097.9L1324.8 1099.4L1326.2 1098.7L1327.6 1098.4L1329.1 1099.5L1330.5 1099.5L1332.0 1098.8L1333.4 1098.8L1334.8 1099.9L1336.3 1099.1L1337.7 1099.5L1339.2 1100.2L1340.6 1098.8L1342.0 1098.7L1343.5 1099.1L1344.9 1099.3L1346.4 1099.7L1347.8 1100.3L1349.2 1099.6L1350.7 1100.8L1352.1 1100.1L1353.6 1098.9L1355.0 1100.0L1356.4 1100.5L1357.9 1100.8L1359.3 1099.8L1360.8 1100.2L1362.2 1101.6L1363.6 1100.5L1365.1 1100.0L1366.5 1099.7L1368.0 1100.3L1369.4 1100.8L1370.8 1100.1L1372.3 1101.5L1373.7 1100.4L1375.2 1099.8L1376.6 1101.3L1378.0 1101.0" fill="none" stroke="#C00000" stroke-width="5.9" stroke-linejoin="round" stroke-linecap="round"/>
<line x1="934.5" y1="612" x2="934.5" y2="1151" stroke="#000" stroke-width="5" stroke-dasharray="21.5 19.6"/>
<text transform="translate(697.8 664.1) scale(1.04 1)" font-family="Liberation Sans, Arial, sans-serif" font-weight="bold" font-size="34">(d)</text>
<text transform="translate(777.3 993.8) rotate(-90)" font-family="Liberation Sans, Arial, sans-serif" font-weight="bold" font-size="29.3">(200)</text><text transform="translate(878.3 920.3) rotate(-90)" font-family="Liberation Sans, Arial, sans-serif" font-weight="bold" font-size="29.3">(111)</text><text transform="translate(916.3 683.3) rotate(-90)" font-family="Liberation Sans, Arial, sans-serif" font-weight="bold" font-size="29.3">(021)</text><text transform="translate(1196.8 826.8) rotate(-90)" font-family="Liberation Sans, Arial, sans-serif" font-weight="bold" font-size="29.3">(201)</text><rect x="1167.2" y="806.0" width="4.8" height="11.8" fill="#000"/>
<text x="976.3" y="655.7" font-family="Liberation Sans, Arial, sans-serif" font-weight="bold" font-size="32.5" fill="#000"><tspan>Yb</tspan><tspan font-size="20.5" dy="6.1">2</tspan><tspan dy="-6.1">Si</tspan><tspan font-size="20.5" dy="6.1">2</tspan><tspan dy="-6.1">O</tspan><tspan font-size="20.5" dy="6.1">7</tspan></text>
<text x="971.6" y="735.2" font-family="Liberation Sans, Arial, sans-serif" font-weight="bold" font-size="32.5" fill="#4472C4"><tspan>Y</tspan><tspan font-size="20.5" dy="6.1">0.2</tspan><tspan dy="-6.1">Yb</tspan><tspan font-size="20.5" dy="6.1">1.8</tspan><tspan dy="-6.1">Si</tspan><tspan font-size="20.5" dy="6.1">2</tspan><tspan dy="-6.1">O</tspan><tspan font-size="20.5" dy="6.1">7</tspan></text>
<text x="976.4" y="823.1" font-family="Liberation Sans, Arial, sans-serif" font-weight="bold" font-size="32.5" fill="#981000"><tspan>Y</tspan><tspan font-size="20.8" dy="5.8">1</tspan><tspan dy="-5.8">Yb</tspan><tspan font-size="20.8" dy="5.8">1</tspan><tspan dy="-5.8">Si</tspan><tspan font-size="20.8" dy="5.8">2</tspan><tspan dy="-5.8">O</tspan><tspan font-size="20.8" dy="5.8">7</tspan></text>
<line x1="968.8" y1="648.3" x2="955.1" y2="657.6" stroke="#000" stroke-width="3.6"/><path d="M942.7 666.0 L957.6 639.0 L955.1 657.6 L973.3 662.2 Z" fill="#000"/>
<line x1="967.4" y1="736.8" x2="948.4" y2="750.7" stroke="#4472C4" stroke-width="3.6"/><path d="M936.3 759.5 L950.3 732.0 L948.4 750.7 L966.8 754.6 Z" fill="#4472C4"/>
<line x1="967.4" y1="812.6" x2="948.4" y2="826.4" stroke="#981000" stroke-width="3.6"/><path d="M936.3 835.2 L950.3 807.7 L948.4 826.4 L966.8 830.4 Z" fill="#981000"/>
</svg>
</body></html>
